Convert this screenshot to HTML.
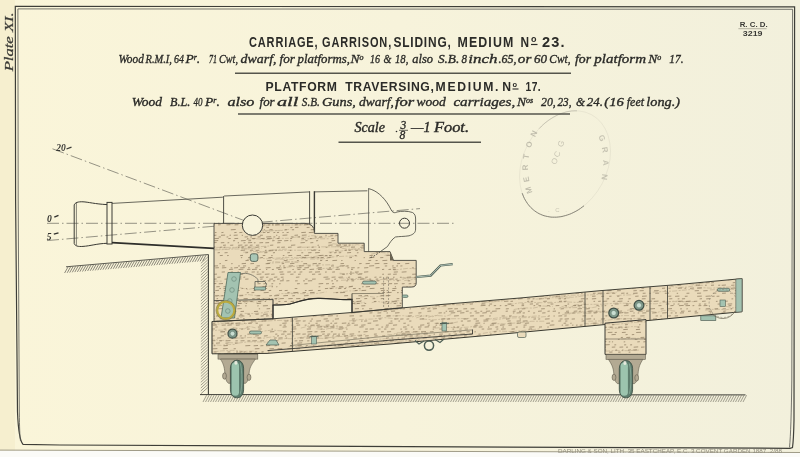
<!DOCTYPE html>
<html><head><meta charset="utf-8"><style>
html,body{margin:0;padding:0;background:#FBFBF8;}
svg{display:block;will-change:transform;}
</style></head><body>
<svg width="800" height="457" viewBox="0 0 800 457">
<defs>
<linearGradient id="pg" x1="0" y1="0" x2="800" y2="0" gradientUnits="userSpaceOnUse">
<stop offset="0" stop-color="#FAF5D9"/><stop offset="0.5" stop-color="#F7F3DB"/><stop offset="1" stop-color="#F2F0DC"/>
</linearGradient>
<clipPath id="ucclip"><path d="M214,223.4 L305,223.4 Q314.4,223.4 314.4,232.5 L314.4,233.4 L338,233.4 L338,243.2 L364.2,243.2 L364.2,251.6 L390,251.6 L393.5,260.4 L416.2,260.4 L416.2,283 Q416.2,287.1 411.2,287.1 L402.3,287.1 L402.3,307.8 L352,312.5 L352,299.4 C340,300.5 330,298 318,298.4 C305,298.6 298,302 290,304 C284,305 278,305 273,305 L273,318.8 L214,321.5 Z"/></clipPath>
<clipPath id="sbclip"><polygon points="605,323.2 646,319.6 646,354.4 605,354.4"/></clipPath>
<clipPath id="plclip"><polygon points="212,321.5 273,318.8 352,312.5 403,307.8 440,304.6 520,298 600,290.7 680,284.4 742,278.6 742,311.7 680,317.5 600,325 500,334.3 390,344 300,350.8 267,353.4 212,353.8"/></clipPath>
</defs>
<rect x="0" y="0" width="800" height="457" fill="#FBFBF8"/>
<polygon points="0,0 800,0 800,452.6 0,450.2" fill="url(#pg)"/>
<rect x="0" y="0" width="15" height="450.3" fill="#F6EFCF"/>
<line x1="0.0" y1="450.1" x2="800.0" y2="452.5" stroke="#a09c88" stroke-width="1.0" />
<path d="M15.3,6.4 L794.6,6.8 L794,420 Q793.6,440 792.5,447.5 L790,448.3 L60,445 L23,444.3 C19.8,441 18.3,432 17.5,412 L15.6,200 Z" fill="none" stroke="#3e3e38" stroke-width="1.2"/>
<path d="M20.5,441 C19.8,436 19.5,428 19.3,412 L18.2,200 L17.9,8.9 L792.6,9.3 L791.8,380 Q791.2,430 789.5,447.5" fill="none" stroke="#555550" stroke-width="0.8"/>
<line x1="66" y1="266.8" x2="208.4" y2="254.5" stroke="#4a4a42" stroke-width="0.9"/>
<line x1="68.0" y1="267.0" x2="64.6" y2="273.0" stroke="#66635a" stroke-width="0.75" />
<line x1="70.6" y1="266.8" x2="67.2" y2="272.8" stroke="#66635a" stroke-width="0.75" />
<line x1="73.1" y1="266.6" x2="69.7" y2="272.6" stroke="#66635a" stroke-width="0.75" />
<line x1="75.7" y1="266.3" x2="72.3" y2="272.3" stroke="#66635a" stroke-width="0.75" />
<line x1="78.2" y1="266.1" x2="74.8" y2="272.1" stroke="#66635a" stroke-width="0.75" />
<line x1="80.8" y1="265.9" x2="77.4" y2="271.9" stroke="#66635a" stroke-width="0.75" />
<line x1="83.3" y1="265.7" x2="79.9" y2="271.7" stroke="#66635a" stroke-width="0.75" />
<line x1="85.9" y1="265.5" x2="82.5" y2="271.5" stroke="#66635a" stroke-width="0.75" />
<line x1="88.4" y1="265.3" x2="85.0" y2="271.3" stroke="#66635a" stroke-width="0.75" />
<line x1="91.0" y1="265.0" x2="87.6" y2="271.0" stroke="#66635a" stroke-width="0.75" />
<line x1="93.6" y1="264.8" x2="90.2" y2="270.8" stroke="#66635a" stroke-width="0.75" />
<line x1="96.1" y1="264.6" x2="92.7" y2="270.6" stroke="#66635a" stroke-width="0.75" />
<line x1="98.7" y1="264.4" x2="95.3" y2="270.4" stroke="#66635a" stroke-width="0.75" />
<line x1="101.2" y1="264.2" x2="97.8" y2="270.2" stroke="#66635a" stroke-width="0.75" />
<line x1="103.8" y1="263.9" x2="100.4" y2="269.9" stroke="#66635a" stroke-width="0.75" />
<line x1="106.3" y1="263.7" x2="102.9" y2="269.7" stroke="#66635a" stroke-width="0.75" />
<line x1="108.9" y1="263.5" x2="105.5" y2="269.5" stroke="#66635a" stroke-width="0.75" />
<line x1="111.4" y1="263.3" x2="108.0" y2="269.3" stroke="#66635a" stroke-width="0.75" />
<line x1="114.0" y1="263.1" x2="110.6" y2="269.1" stroke="#66635a" stroke-width="0.75" />
<line x1="116.6" y1="262.8" x2="113.2" y2="268.8" stroke="#66635a" stroke-width="0.75" />
<line x1="119.1" y1="262.6" x2="115.7" y2="268.6" stroke="#66635a" stroke-width="0.75" />
<line x1="121.7" y1="262.4" x2="118.3" y2="268.4" stroke="#66635a" stroke-width="0.75" />
<line x1="124.2" y1="262.2" x2="120.8" y2="268.2" stroke="#66635a" stroke-width="0.75" />
<line x1="126.8" y1="262.0" x2="123.4" y2="268.0" stroke="#66635a" stroke-width="0.75" />
<line x1="129.3" y1="261.8" x2="125.9" y2="267.8" stroke="#66635a" stroke-width="0.75" />
<line x1="131.9" y1="261.5" x2="128.5" y2="267.5" stroke="#66635a" stroke-width="0.75" />
<line x1="134.4" y1="261.3" x2="131.0" y2="267.3" stroke="#66635a" stroke-width="0.75" />
<line x1="137.0" y1="261.1" x2="133.6" y2="267.1" stroke="#66635a" stroke-width="0.75" />
<line x1="139.6" y1="260.9" x2="136.2" y2="266.9" stroke="#66635a" stroke-width="0.75" />
<line x1="142.1" y1="260.7" x2="138.7" y2="266.7" stroke="#66635a" stroke-width="0.75" />
<line x1="144.7" y1="260.4" x2="141.3" y2="266.4" stroke="#66635a" stroke-width="0.75" />
<line x1="147.2" y1="260.2" x2="143.8" y2="266.2" stroke="#66635a" stroke-width="0.75" />
<line x1="149.8" y1="260.0" x2="146.4" y2="266.0" stroke="#66635a" stroke-width="0.75" />
<line x1="152.3" y1="259.8" x2="148.9" y2="265.8" stroke="#66635a" stroke-width="0.75" />
<line x1="154.9" y1="259.6" x2="151.5" y2="265.6" stroke="#66635a" stroke-width="0.75" />
<line x1="157.4" y1="259.4" x2="154.0" y2="265.4" stroke="#66635a" stroke-width="0.75" />
<line x1="160.0" y1="259.1" x2="156.6" y2="265.1" stroke="#66635a" stroke-width="0.75" />
<line x1="162.6" y1="258.9" x2="159.2" y2="264.9" stroke="#66635a" stroke-width="0.75" />
<line x1="165.1" y1="258.7" x2="161.7" y2="264.7" stroke="#66635a" stroke-width="0.75" />
<line x1="167.7" y1="258.5" x2="164.3" y2="264.5" stroke="#66635a" stroke-width="0.75" />
<line x1="170.2" y1="258.3" x2="166.8" y2="264.3" stroke="#66635a" stroke-width="0.75" />
<line x1="172.8" y1="258.0" x2="169.4" y2="264.0" stroke="#66635a" stroke-width="0.75" />
<line x1="175.3" y1="257.8" x2="171.9" y2="263.8" stroke="#66635a" stroke-width="0.75" />
<line x1="177.9" y1="257.6" x2="174.5" y2="263.6" stroke="#66635a" stroke-width="0.75" />
<line x1="180.4" y1="257.4" x2="177.0" y2="263.4" stroke="#66635a" stroke-width="0.75" />
<line x1="183.0" y1="257.2" x2="179.6" y2="263.2" stroke="#66635a" stroke-width="0.75" />
<line x1="185.6" y1="256.9" x2="182.2" y2="262.9" stroke="#66635a" stroke-width="0.75" />
<line x1="188.1" y1="256.7" x2="184.7" y2="262.7" stroke="#66635a" stroke-width="0.75" />
<line x1="190.7" y1="256.5" x2="187.3" y2="262.5" stroke="#66635a" stroke-width="0.75" />
<line x1="193.2" y1="256.3" x2="189.8" y2="262.3" stroke="#66635a" stroke-width="0.75" />
<line x1="195.8" y1="256.1" x2="192.4" y2="262.1" stroke="#66635a" stroke-width="0.75" />
<line x1="198.3" y1="255.9" x2="194.9" y2="261.9" stroke="#66635a" stroke-width="0.75" />
<line x1="200.9" y1="255.6" x2="197.5" y2="261.6" stroke="#66635a" stroke-width="0.75" />
<line x1="203.4" y1="255.4" x2="200.0" y2="261.4" stroke="#66635a" stroke-width="0.75" />
<line x1="206.0" y1="255.2" x2="202.6" y2="261.2" stroke="#66635a" stroke-width="0.75" />
<line x1="208.4" y1="254.5" x2="208.4" y2="394.5" stroke="#44443c" stroke-width="1.1"/>
<line x1="207.8" y1="257.0" x2="200.8" y2="263.4" stroke="#7a776a" stroke-width="0.7" />
<line x1="207.8" y1="259.9" x2="200.8" y2="266.3" stroke="#7a776a" stroke-width="0.7" />
<line x1="207.8" y1="262.8" x2="200.8" y2="269.2" stroke="#7a776a" stroke-width="0.7" />
<line x1="207.8" y1="265.7" x2="200.8" y2="272.1" stroke="#7a776a" stroke-width="0.7" />
<line x1="207.8" y1="268.6" x2="200.8" y2="275.0" stroke="#7a776a" stroke-width="0.7" />
<line x1="207.8" y1="271.5" x2="200.8" y2="277.9" stroke="#7a776a" stroke-width="0.7" />
<line x1="207.8" y1="274.4" x2="200.8" y2="280.8" stroke="#7a776a" stroke-width="0.7" />
<line x1="207.8" y1="277.3" x2="200.8" y2="283.7" stroke="#7a776a" stroke-width="0.7" />
<line x1="207.8" y1="280.2" x2="200.8" y2="286.6" stroke="#7a776a" stroke-width="0.7" />
<line x1="207.8" y1="283.1" x2="200.8" y2="289.5" stroke="#7a776a" stroke-width="0.7" />
<line x1="207.8" y1="286.0" x2="200.8" y2="292.4" stroke="#7a776a" stroke-width="0.7" />
<line x1="207.8" y1="288.9" x2="200.8" y2="295.3" stroke="#7a776a" stroke-width="0.7" />
<line x1="207.8" y1="291.8" x2="200.8" y2="298.2" stroke="#7a776a" stroke-width="0.7" />
<line x1="207.8" y1="294.7" x2="200.8" y2="301.1" stroke="#7a776a" stroke-width="0.7" />
<line x1="207.8" y1="297.6" x2="200.8" y2="304.0" stroke="#7a776a" stroke-width="0.7" />
<line x1="207.8" y1="300.5" x2="200.8" y2="306.9" stroke="#7a776a" stroke-width="0.7" />
<line x1="207.8" y1="303.4" x2="200.8" y2="309.8" stroke="#7a776a" stroke-width="0.7" />
<line x1="207.8" y1="306.3" x2="200.8" y2="312.7" stroke="#7a776a" stroke-width="0.7" />
<line x1="207.8" y1="309.2" x2="200.8" y2="315.6" stroke="#7a776a" stroke-width="0.7" />
<line x1="207.8" y1="312.1" x2="200.8" y2="318.5" stroke="#7a776a" stroke-width="0.7" />
<line x1="207.8" y1="315.0" x2="200.8" y2="321.4" stroke="#7a776a" stroke-width="0.7" />
<line x1="207.8" y1="317.9" x2="200.8" y2="324.3" stroke="#7a776a" stroke-width="0.7" />
<line x1="207.8" y1="320.8" x2="200.8" y2="327.2" stroke="#7a776a" stroke-width="0.7" />
<line x1="207.8" y1="323.7" x2="200.8" y2="330.1" stroke="#7a776a" stroke-width="0.7" />
<line x1="207.8" y1="326.6" x2="200.8" y2="333.0" stroke="#7a776a" stroke-width="0.7" />
<line x1="207.8" y1="329.5" x2="200.8" y2="335.9" stroke="#7a776a" stroke-width="0.7" />
<line x1="207.8" y1="332.4" x2="200.8" y2="338.8" stroke="#7a776a" stroke-width="0.7" />
<line x1="207.8" y1="335.3" x2="200.8" y2="341.7" stroke="#7a776a" stroke-width="0.7" />
<line x1="207.8" y1="338.2" x2="200.8" y2="344.6" stroke="#7a776a" stroke-width="0.7" />
<line x1="207.8" y1="341.1" x2="200.8" y2="347.5" stroke="#7a776a" stroke-width="0.7" />
<line x1="207.8" y1="344.0" x2="200.8" y2="350.4" stroke="#7a776a" stroke-width="0.7" />
<line x1="207.8" y1="346.9" x2="200.8" y2="353.3" stroke="#7a776a" stroke-width="0.7" />
<line x1="207.8" y1="349.8" x2="200.8" y2="356.2" stroke="#7a776a" stroke-width="0.7" />
<line x1="207.8" y1="352.7" x2="200.8" y2="359.1" stroke="#7a776a" stroke-width="0.7" />
<line x1="207.8" y1="355.6" x2="200.8" y2="362.0" stroke="#7a776a" stroke-width="0.7" />
<line x1="207.8" y1="358.5" x2="200.8" y2="364.9" stroke="#7a776a" stroke-width="0.7" />
<line x1="207.8" y1="361.4" x2="200.8" y2="367.8" stroke="#7a776a" stroke-width="0.7" />
<line x1="207.8" y1="364.3" x2="200.8" y2="370.7" stroke="#7a776a" stroke-width="0.7" />
<line x1="207.8" y1="367.2" x2="200.8" y2="373.6" stroke="#7a776a" stroke-width="0.7" />
<line x1="207.8" y1="370.1" x2="200.8" y2="376.5" stroke="#7a776a" stroke-width="0.7" />
<line x1="207.8" y1="373.0" x2="200.8" y2="379.4" stroke="#7a776a" stroke-width="0.7" />
<line x1="207.8" y1="375.9" x2="200.8" y2="382.3" stroke="#7a776a" stroke-width="0.7" />
<line x1="207.8" y1="378.8" x2="200.8" y2="385.2" stroke="#7a776a" stroke-width="0.7" />
<line x1="207.8" y1="381.7" x2="200.8" y2="388.1" stroke="#7a776a" stroke-width="0.7" />
<line x1="207.8" y1="384.6" x2="200.8" y2="391.0" stroke="#7a776a" stroke-width="0.7" />
<line x1="207.8" y1="387.5" x2="200.8" y2="393.9" stroke="#7a776a" stroke-width="0.7" />
<line x1="200" y1="394.6" x2="745.5" y2="394.9" stroke="#3d3d36" stroke-width="1.0"/>
<line x1="206.6" y1="395.2" x2="203.0" y2="402.0" stroke="#7d7a6c" stroke-width="0.7" />
<line x1="209.1" y1="395.2" x2="205.5" y2="402.0" stroke="#7d7a6c" stroke-width="0.7" />
<line x1="211.6" y1="395.2" x2="208.0" y2="402.0" stroke="#7d7a6c" stroke-width="0.7" />
<line x1="214.1" y1="395.2" x2="210.5" y2="402.0" stroke="#7d7a6c" stroke-width="0.7" />
<line x1="216.6" y1="395.2" x2="213.0" y2="402.0" stroke="#7d7a6c" stroke-width="0.7" />
<line x1="219.1" y1="395.2" x2="215.5" y2="402.0" stroke="#7d7a6c" stroke-width="0.7" />
<line x1="221.6" y1="395.2" x2="218.0" y2="402.0" stroke="#7d7a6c" stroke-width="0.7" />
<line x1="224.1" y1="395.2" x2="220.5" y2="402.0" stroke="#7d7a6c" stroke-width="0.7" />
<line x1="226.6" y1="395.2" x2="223.0" y2="402.0" stroke="#7d7a6c" stroke-width="0.7" />
<line x1="229.1" y1="395.2" x2="225.5" y2="402.0" stroke="#7d7a6c" stroke-width="0.7" />
<line x1="231.6" y1="395.2" x2="228.0" y2="402.0" stroke="#7d7a6c" stroke-width="0.7" />
<line x1="234.1" y1="395.2" x2="230.5" y2="402.0" stroke="#7d7a6c" stroke-width="0.7" />
<line x1="236.6" y1="395.2" x2="233.0" y2="402.0" stroke="#7d7a6c" stroke-width="0.7" />
<line x1="239.1" y1="395.2" x2="235.5" y2="402.0" stroke="#7d7a6c" stroke-width="0.7" />
<line x1="241.6" y1="395.2" x2="238.0" y2="402.0" stroke="#7d7a6c" stroke-width="0.7" />
<line x1="244.1" y1="395.2" x2="240.5" y2="402.0" stroke="#7d7a6c" stroke-width="0.7" />
<line x1="246.6" y1="395.2" x2="243.0" y2="402.0" stroke="#7d7a6c" stroke-width="0.7" />
<line x1="249.1" y1="395.2" x2="245.5" y2="402.0" stroke="#7d7a6c" stroke-width="0.7" />
<line x1="251.6" y1="395.2" x2="248.0" y2="402.0" stroke="#7d7a6c" stroke-width="0.7" />
<line x1="254.1" y1="395.2" x2="250.5" y2="402.0" stroke="#7d7a6c" stroke-width="0.7" />
<line x1="256.6" y1="395.2" x2="253.0" y2="402.0" stroke="#7d7a6c" stroke-width="0.7" />
<line x1="259.1" y1="395.2" x2="255.5" y2="402.0" stroke="#7d7a6c" stroke-width="0.7" />
<line x1="261.6" y1="395.2" x2="258.0" y2="402.0" stroke="#7d7a6c" stroke-width="0.7" />
<line x1="264.1" y1="395.2" x2="260.5" y2="402.0" stroke="#7d7a6c" stroke-width="0.7" />
<line x1="266.6" y1="395.2" x2="263.0" y2="402.0" stroke="#7d7a6c" stroke-width="0.7" />
<line x1="269.1" y1="395.2" x2="265.5" y2="402.0" stroke="#7d7a6c" stroke-width="0.7" />
<line x1="271.6" y1="395.2" x2="268.0" y2="402.0" stroke="#7d7a6c" stroke-width="0.7" />
<line x1="274.1" y1="395.2" x2="270.5" y2="402.0" stroke="#7d7a6c" stroke-width="0.7" />
<line x1="276.6" y1="395.2" x2="273.0" y2="402.0" stroke="#7d7a6c" stroke-width="0.7" />
<line x1="279.1" y1="395.2" x2="275.5" y2="402.0" stroke="#7d7a6c" stroke-width="0.7" />
<line x1="281.6" y1="395.2" x2="278.0" y2="402.0" stroke="#7d7a6c" stroke-width="0.7" />
<line x1="284.1" y1="395.2" x2="280.5" y2="402.0" stroke="#7d7a6c" stroke-width="0.7" />
<line x1="286.6" y1="395.2" x2="283.0" y2="402.0" stroke="#7d7a6c" stroke-width="0.7" />
<line x1="289.1" y1="395.2" x2="285.5" y2="402.0" stroke="#7d7a6c" stroke-width="0.7" />
<line x1="291.6" y1="395.2" x2="288.0" y2="402.0" stroke="#7d7a6c" stroke-width="0.7" />
<line x1="294.1" y1="395.2" x2="290.5" y2="402.0" stroke="#7d7a6c" stroke-width="0.7" />
<line x1="296.6" y1="395.2" x2="293.0" y2="402.0" stroke="#7d7a6c" stroke-width="0.7" />
<line x1="299.1" y1="395.2" x2="295.5" y2="402.0" stroke="#7d7a6c" stroke-width="0.7" />
<line x1="301.6" y1="395.2" x2="298.0" y2="402.0" stroke="#7d7a6c" stroke-width="0.7" />
<line x1="304.1" y1="395.2" x2="300.5" y2="402.0" stroke="#7d7a6c" stroke-width="0.7" />
<line x1="306.6" y1="395.2" x2="303.0" y2="402.0" stroke="#7d7a6c" stroke-width="0.7" />
<line x1="309.1" y1="395.2" x2="305.5" y2="402.0" stroke="#7d7a6c" stroke-width="0.7" />
<line x1="311.6" y1="395.2" x2="308.0" y2="402.0" stroke="#7d7a6c" stroke-width="0.7" />
<line x1="314.1" y1="395.2" x2="310.5" y2="402.0" stroke="#7d7a6c" stroke-width="0.7" />
<line x1="316.6" y1="395.2" x2="313.0" y2="402.0" stroke="#7d7a6c" stroke-width="0.7" />
<line x1="319.1" y1="395.2" x2="315.5" y2="402.0" stroke="#7d7a6c" stroke-width="0.7" />
<line x1="321.6" y1="395.2" x2="318.0" y2="402.0" stroke="#7d7a6c" stroke-width="0.7" />
<line x1="324.1" y1="395.2" x2="320.5" y2="402.0" stroke="#7d7a6c" stroke-width="0.7" />
<line x1="326.6" y1="395.2" x2="323.0" y2="402.0" stroke="#7d7a6c" stroke-width="0.7" />
<line x1="329.1" y1="395.2" x2="325.5" y2="402.0" stroke="#7d7a6c" stroke-width="0.7" />
<line x1="331.6" y1="395.2" x2="328.0" y2="402.0" stroke="#7d7a6c" stroke-width="0.7" />
<line x1="334.1" y1="395.2" x2="330.5" y2="402.0" stroke="#7d7a6c" stroke-width="0.7" />
<line x1="336.6" y1="395.2" x2="333.0" y2="402.0" stroke="#7d7a6c" stroke-width="0.7" />
<line x1="339.1" y1="395.2" x2="335.5" y2="402.0" stroke="#7d7a6c" stroke-width="0.7" />
<line x1="341.6" y1="395.2" x2="338.0" y2="402.0" stroke="#7d7a6c" stroke-width="0.7" />
<line x1="344.1" y1="395.2" x2="340.5" y2="402.0" stroke="#7d7a6c" stroke-width="0.7" />
<line x1="346.6" y1="395.2" x2="343.0" y2="402.0" stroke="#7d7a6c" stroke-width="0.7" />
<line x1="349.1" y1="395.2" x2="345.5" y2="402.0" stroke="#7d7a6c" stroke-width="0.7" />
<line x1="351.6" y1="395.2" x2="348.0" y2="402.0" stroke="#7d7a6c" stroke-width="0.7" />
<line x1="354.1" y1="395.2" x2="350.5" y2="402.0" stroke="#7d7a6c" stroke-width="0.7" />
<line x1="356.6" y1="395.2" x2="353.0" y2="402.0" stroke="#7d7a6c" stroke-width="0.7" />
<line x1="359.1" y1="395.2" x2="355.5" y2="402.0" stroke="#7d7a6c" stroke-width="0.7" />
<line x1="361.6" y1="395.2" x2="358.0" y2="402.0" stroke="#7d7a6c" stroke-width="0.7" />
<line x1="364.1" y1="395.2" x2="360.5" y2="402.0" stroke="#7d7a6c" stroke-width="0.7" />
<line x1="366.6" y1="395.2" x2="363.0" y2="402.0" stroke="#7d7a6c" stroke-width="0.7" />
<line x1="369.1" y1="395.2" x2="365.5" y2="402.0" stroke="#7d7a6c" stroke-width="0.7" />
<line x1="371.6" y1="395.2" x2="368.0" y2="402.0" stroke="#7d7a6c" stroke-width="0.7" />
<line x1="374.1" y1="395.2" x2="370.5" y2="402.0" stroke="#7d7a6c" stroke-width="0.7" />
<line x1="376.6" y1="395.2" x2="373.0" y2="402.0" stroke="#7d7a6c" stroke-width="0.7" />
<line x1="379.1" y1="395.2" x2="375.5" y2="402.0" stroke="#7d7a6c" stroke-width="0.7" />
<line x1="381.6" y1="395.2" x2="378.0" y2="402.0" stroke="#7d7a6c" stroke-width="0.7" />
<line x1="384.1" y1="395.2" x2="380.5" y2="402.0" stroke="#7d7a6c" stroke-width="0.7" />
<line x1="386.6" y1="395.2" x2="383.0" y2="402.0" stroke="#7d7a6c" stroke-width="0.7" />
<line x1="389.1" y1="395.2" x2="385.5" y2="402.0" stroke="#7d7a6c" stroke-width="0.7" />
<line x1="391.6" y1="395.2" x2="388.0" y2="402.0" stroke="#7d7a6c" stroke-width="0.7" />
<line x1="394.1" y1="395.2" x2="390.5" y2="402.0" stroke="#7d7a6c" stroke-width="0.7" />
<line x1="396.6" y1="395.2" x2="393.0" y2="402.0" stroke="#7d7a6c" stroke-width="0.7" />
<line x1="399.1" y1="395.2" x2="395.5" y2="402.0" stroke="#7d7a6c" stroke-width="0.7" />
<line x1="401.6" y1="395.2" x2="398.0" y2="402.0" stroke="#7d7a6c" stroke-width="0.7" />
<line x1="404.1" y1="395.2" x2="400.5" y2="402.0" stroke="#7d7a6c" stroke-width="0.7" />
<line x1="406.6" y1="395.2" x2="403.0" y2="402.0" stroke="#7d7a6c" stroke-width="0.7" />
<line x1="409.1" y1="395.2" x2="405.5" y2="402.0" stroke="#7d7a6c" stroke-width="0.7" />
<line x1="411.6" y1="395.2" x2="408.0" y2="402.0" stroke="#7d7a6c" stroke-width="0.7" />
<line x1="414.1" y1="395.2" x2="410.5" y2="402.0" stroke="#7d7a6c" stroke-width="0.7" />
<line x1="416.6" y1="395.2" x2="413.0" y2="402.0" stroke="#7d7a6c" stroke-width="0.7" />
<line x1="419.1" y1="395.2" x2="415.5" y2="402.0" stroke="#7d7a6c" stroke-width="0.7" />
<line x1="421.6" y1="395.2" x2="418.0" y2="402.0" stroke="#7d7a6c" stroke-width="0.7" />
<line x1="424.1" y1="395.2" x2="420.5" y2="402.0" stroke="#7d7a6c" stroke-width="0.7" />
<line x1="426.6" y1="395.2" x2="423.0" y2="402.0" stroke="#7d7a6c" stroke-width="0.7" />
<line x1="429.1" y1="395.2" x2="425.5" y2="402.0" stroke="#7d7a6c" stroke-width="0.7" />
<line x1="431.6" y1="395.2" x2="428.0" y2="402.0" stroke="#7d7a6c" stroke-width="0.7" />
<line x1="434.1" y1="395.2" x2="430.5" y2="402.0" stroke="#7d7a6c" stroke-width="0.7" />
<line x1="436.6" y1="395.2" x2="433.0" y2="402.0" stroke="#7d7a6c" stroke-width="0.7" />
<line x1="439.1" y1="395.2" x2="435.5" y2="402.0" stroke="#7d7a6c" stroke-width="0.7" />
<line x1="441.6" y1="395.2" x2="438.0" y2="402.0" stroke="#7d7a6c" stroke-width="0.7" />
<line x1="444.1" y1="395.2" x2="440.5" y2="402.0" stroke="#7d7a6c" stroke-width="0.7" />
<line x1="446.6" y1="395.2" x2="443.0" y2="402.0" stroke="#7d7a6c" stroke-width="0.7" />
<line x1="449.1" y1="395.2" x2="445.5" y2="402.0" stroke="#7d7a6c" stroke-width="0.7" />
<line x1="451.6" y1="395.2" x2="448.0" y2="402.0" stroke="#7d7a6c" stroke-width="0.7" />
<line x1="454.1" y1="395.2" x2="450.5" y2="402.0" stroke="#7d7a6c" stroke-width="0.7" />
<line x1="456.6" y1="395.2" x2="453.0" y2="402.0" stroke="#7d7a6c" stroke-width="0.7" />
<line x1="459.1" y1="395.2" x2="455.5" y2="402.0" stroke="#7d7a6c" stroke-width="0.7" />
<line x1="461.6" y1="395.2" x2="458.0" y2="402.0" stroke="#7d7a6c" stroke-width="0.7" />
<line x1="464.1" y1="395.2" x2="460.5" y2="402.0" stroke="#7d7a6c" stroke-width="0.7" />
<line x1="466.6" y1="395.2" x2="463.0" y2="402.0" stroke="#7d7a6c" stroke-width="0.7" />
<line x1="469.1" y1="395.2" x2="465.5" y2="402.0" stroke="#7d7a6c" stroke-width="0.7" />
<line x1="471.6" y1="395.2" x2="468.0" y2="402.0" stroke="#7d7a6c" stroke-width="0.7" />
<line x1="474.1" y1="395.2" x2="470.5" y2="402.0" stroke="#7d7a6c" stroke-width="0.7" />
<line x1="476.6" y1="395.2" x2="473.0" y2="402.0" stroke="#7d7a6c" stroke-width="0.7" />
<line x1="479.1" y1="395.2" x2="475.5" y2="402.0" stroke="#7d7a6c" stroke-width="0.7" />
<line x1="481.6" y1="395.2" x2="478.0" y2="402.0" stroke="#7d7a6c" stroke-width="0.7" />
<line x1="484.1" y1="395.2" x2="480.5" y2="402.0" stroke="#7d7a6c" stroke-width="0.7" />
<line x1="486.6" y1="395.2" x2="483.0" y2="402.0" stroke="#7d7a6c" stroke-width="0.7" />
<line x1="489.1" y1="395.2" x2="485.5" y2="402.0" stroke="#7d7a6c" stroke-width="0.7" />
<line x1="491.6" y1="395.2" x2="488.0" y2="402.0" stroke="#7d7a6c" stroke-width="0.7" />
<line x1="494.1" y1="395.2" x2="490.5" y2="402.0" stroke="#7d7a6c" stroke-width="0.7" />
<line x1="496.6" y1="395.2" x2="493.0" y2="402.0" stroke="#7d7a6c" stroke-width="0.7" />
<line x1="499.1" y1="395.2" x2="495.5" y2="402.0" stroke="#7d7a6c" stroke-width="0.7" />
<line x1="501.6" y1="395.2" x2="498.0" y2="402.0" stroke="#7d7a6c" stroke-width="0.7" />
<line x1="504.1" y1="395.2" x2="500.5" y2="402.0" stroke="#7d7a6c" stroke-width="0.7" />
<line x1="506.6" y1="395.2" x2="503.0" y2="402.0" stroke="#7d7a6c" stroke-width="0.7" />
<line x1="509.1" y1="395.2" x2="505.5" y2="402.0" stroke="#7d7a6c" stroke-width="0.7" />
<line x1="511.6" y1="395.2" x2="508.0" y2="402.0" stroke="#7d7a6c" stroke-width="0.7" />
<line x1="514.1" y1="395.2" x2="510.5" y2="402.0" stroke="#7d7a6c" stroke-width="0.7" />
<line x1="516.6" y1="395.2" x2="513.0" y2="402.0" stroke="#7d7a6c" stroke-width="0.7" />
<line x1="519.1" y1="395.2" x2="515.5" y2="402.0" stroke="#7d7a6c" stroke-width="0.7" />
<line x1="521.6" y1="395.2" x2="518.0" y2="402.0" stroke="#7d7a6c" stroke-width="0.7" />
<line x1="524.1" y1="395.2" x2="520.5" y2="402.0" stroke="#7d7a6c" stroke-width="0.7" />
<line x1="526.6" y1="395.2" x2="523.0" y2="402.0" stroke="#7d7a6c" stroke-width="0.7" />
<line x1="529.1" y1="395.2" x2="525.5" y2="402.0" stroke="#7d7a6c" stroke-width="0.7" />
<line x1="531.6" y1="395.2" x2="528.0" y2="402.0" stroke="#7d7a6c" stroke-width="0.7" />
<line x1="534.1" y1="395.2" x2="530.5" y2="402.0" stroke="#7d7a6c" stroke-width="0.7" />
<line x1="536.6" y1="395.2" x2="533.0" y2="402.0" stroke="#7d7a6c" stroke-width="0.7" />
<line x1="539.1" y1="395.2" x2="535.5" y2="402.0" stroke="#7d7a6c" stroke-width="0.7" />
<line x1="541.6" y1="395.2" x2="538.0" y2="402.0" stroke="#7d7a6c" stroke-width="0.7" />
<line x1="544.1" y1="395.2" x2="540.5" y2="402.0" stroke="#7d7a6c" stroke-width="0.7" />
<line x1="546.6" y1="395.2" x2="543.0" y2="402.0" stroke="#7d7a6c" stroke-width="0.7" />
<line x1="549.1" y1="395.2" x2="545.5" y2="402.0" stroke="#7d7a6c" stroke-width="0.7" />
<line x1="551.6" y1="395.2" x2="548.0" y2="402.0" stroke="#7d7a6c" stroke-width="0.7" />
<line x1="554.1" y1="395.2" x2="550.5" y2="402.0" stroke="#7d7a6c" stroke-width="0.7" />
<line x1="556.6" y1="395.2" x2="553.0" y2="402.0" stroke="#7d7a6c" stroke-width="0.7" />
<line x1="559.1" y1="395.2" x2="555.5" y2="402.0" stroke="#7d7a6c" stroke-width="0.7" />
<line x1="561.6" y1="395.2" x2="558.0" y2="402.0" stroke="#7d7a6c" stroke-width="0.7" />
<line x1="564.1" y1="395.2" x2="560.5" y2="402.0" stroke="#7d7a6c" stroke-width="0.7" />
<line x1="566.6" y1="395.2" x2="563.0" y2="402.0" stroke="#7d7a6c" stroke-width="0.7" />
<line x1="569.1" y1="395.2" x2="565.5" y2="402.0" stroke="#7d7a6c" stroke-width="0.7" />
<line x1="571.6" y1="395.2" x2="568.0" y2="402.0" stroke="#7d7a6c" stroke-width="0.7" />
<line x1="574.1" y1="395.2" x2="570.5" y2="402.0" stroke="#7d7a6c" stroke-width="0.7" />
<line x1="576.6" y1="395.2" x2="573.0" y2="402.0" stroke="#7d7a6c" stroke-width="0.7" />
<line x1="579.1" y1="395.2" x2="575.5" y2="402.0" stroke="#7d7a6c" stroke-width="0.7" />
<line x1="581.6" y1="395.2" x2="578.0" y2="402.0" stroke="#7d7a6c" stroke-width="0.7" />
<line x1="584.1" y1="395.2" x2="580.5" y2="402.0" stroke="#7d7a6c" stroke-width="0.7" />
<line x1="586.6" y1="395.2" x2="583.0" y2="402.0" stroke="#7d7a6c" stroke-width="0.7" />
<line x1="589.1" y1="395.2" x2="585.5" y2="402.0" stroke="#7d7a6c" stroke-width="0.7" />
<line x1="591.6" y1="395.2" x2="588.0" y2="402.0" stroke="#7d7a6c" stroke-width="0.7" />
<line x1="594.1" y1="395.2" x2="590.5" y2="402.0" stroke="#7d7a6c" stroke-width="0.7" />
<line x1="596.6" y1="395.2" x2="593.0" y2="402.0" stroke="#7d7a6c" stroke-width="0.7" />
<line x1="599.1" y1="395.2" x2="595.5" y2="402.0" stroke="#7d7a6c" stroke-width="0.7" />
<line x1="601.6" y1="395.2" x2="598.0" y2="402.0" stroke="#7d7a6c" stroke-width="0.7" />
<line x1="604.1" y1="395.2" x2="600.5" y2="402.0" stroke="#7d7a6c" stroke-width="0.7" />
<line x1="606.6" y1="395.2" x2="603.0" y2="402.0" stroke="#7d7a6c" stroke-width="0.7" />
<line x1="609.1" y1="395.2" x2="605.5" y2="402.0" stroke="#7d7a6c" stroke-width="0.7" />
<line x1="611.6" y1="395.2" x2="608.0" y2="402.0" stroke="#7d7a6c" stroke-width="0.7" />
<line x1="614.1" y1="395.2" x2="610.5" y2="402.0" stroke="#7d7a6c" stroke-width="0.7" />
<line x1="616.6" y1="395.2" x2="613.0" y2="402.0" stroke="#7d7a6c" stroke-width="0.7" />
<line x1="619.1" y1="395.2" x2="615.5" y2="402.0" stroke="#7d7a6c" stroke-width="0.7" />
<line x1="621.6" y1="395.2" x2="618.0" y2="402.0" stroke="#7d7a6c" stroke-width="0.7" />
<line x1="624.1" y1="395.2" x2="620.5" y2="402.0" stroke="#7d7a6c" stroke-width="0.7" />
<line x1="626.6" y1="395.2" x2="623.0" y2="402.0" stroke="#7d7a6c" stroke-width="0.7" />
<line x1="629.1" y1="395.2" x2="625.5" y2="402.0" stroke="#7d7a6c" stroke-width="0.7" />
<line x1="631.6" y1="395.2" x2="628.0" y2="402.0" stroke="#7d7a6c" stroke-width="0.7" />
<line x1="634.1" y1="395.2" x2="630.5" y2="402.0" stroke="#7d7a6c" stroke-width="0.7" />
<line x1="636.6" y1="395.2" x2="633.0" y2="402.0" stroke="#7d7a6c" stroke-width="0.7" />
<line x1="639.1" y1="395.2" x2="635.5" y2="402.0" stroke="#7d7a6c" stroke-width="0.7" />
<line x1="641.6" y1="395.2" x2="638.0" y2="402.0" stroke="#7d7a6c" stroke-width="0.7" />
<line x1="644.1" y1="395.2" x2="640.5" y2="402.0" stroke="#7d7a6c" stroke-width="0.7" />
<line x1="646.6" y1="395.2" x2="643.0" y2="402.0" stroke="#7d7a6c" stroke-width="0.7" />
<line x1="649.1" y1="395.2" x2="645.5" y2="402.0" stroke="#7d7a6c" stroke-width="0.7" />
<line x1="651.6" y1="395.2" x2="648.0" y2="402.0" stroke="#7d7a6c" stroke-width="0.7" />
<line x1="654.1" y1="395.2" x2="650.5" y2="402.0" stroke="#7d7a6c" stroke-width="0.7" />
<line x1="656.6" y1="395.2" x2="653.0" y2="402.0" stroke="#7d7a6c" stroke-width="0.7" />
<line x1="659.1" y1="395.2" x2="655.5" y2="402.0" stroke="#7d7a6c" stroke-width="0.7" />
<line x1="661.6" y1="395.2" x2="658.0" y2="402.0" stroke="#7d7a6c" stroke-width="0.7" />
<line x1="664.1" y1="395.2" x2="660.5" y2="402.0" stroke="#7d7a6c" stroke-width="0.7" />
<line x1="666.6" y1="395.2" x2="663.0" y2="402.0" stroke="#7d7a6c" stroke-width="0.7" />
<line x1="669.1" y1="395.2" x2="665.5" y2="402.0" stroke="#7d7a6c" stroke-width="0.7" />
<line x1="671.6" y1="395.2" x2="668.0" y2="402.0" stroke="#7d7a6c" stroke-width="0.7" />
<line x1="674.1" y1="395.2" x2="670.5" y2="402.0" stroke="#7d7a6c" stroke-width="0.7" />
<line x1="676.6" y1="395.2" x2="673.0" y2="402.0" stroke="#7d7a6c" stroke-width="0.7" />
<line x1="679.1" y1="395.2" x2="675.5" y2="402.0" stroke="#7d7a6c" stroke-width="0.7" />
<line x1="681.6" y1="395.2" x2="678.0" y2="402.0" stroke="#7d7a6c" stroke-width="0.7" />
<line x1="684.1" y1="395.2" x2="680.5" y2="402.0" stroke="#7d7a6c" stroke-width="0.7" />
<line x1="686.6" y1="395.2" x2="683.0" y2="402.0" stroke="#7d7a6c" stroke-width="0.7" />
<line x1="689.1" y1="395.2" x2="685.5" y2="402.0" stroke="#7d7a6c" stroke-width="0.7" />
<line x1="691.6" y1="395.2" x2="688.0" y2="402.0" stroke="#7d7a6c" stroke-width="0.7" />
<line x1="694.1" y1="395.2" x2="690.5" y2="402.0" stroke="#7d7a6c" stroke-width="0.7" />
<line x1="696.6" y1="395.2" x2="693.0" y2="402.0" stroke="#7d7a6c" stroke-width="0.7" />
<line x1="699.1" y1="395.2" x2="695.5" y2="402.0" stroke="#7d7a6c" stroke-width="0.7" />
<line x1="701.6" y1="395.2" x2="698.0" y2="402.0" stroke="#7d7a6c" stroke-width="0.7" />
<line x1="704.1" y1="395.2" x2="700.5" y2="402.0" stroke="#7d7a6c" stroke-width="0.7" />
<line x1="706.6" y1="395.2" x2="703.0" y2="402.0" stroke="#7d7a6c" stroke-width="0.7" />
<line x1="709.1" y1="395.2" x2="705.5" y2="402.0" stroke="#7d7a6c" stroke-width="0.7" />
<line x1="711.6" y1="395.2" x2="708.0" y2="402.0" stroke="#7d7a6c" stroke-width="0.7" />
<line x1="714.1" y1="395.2" x2="710.5" y2="402.0" stroke="#7d7a6c" stroke-width="0.7" />
<line x1="716.6" y1="395.2" x2="713.0" y2="402.0" stroke="#7d7a6c" stroke-width="0.7" />
<line x1="719.1" y1="395.2" x2="715.5" y2="402.0" stroke="#7d7a6c" stroke-width="0.7" />
<line x1="721.6" y1="395.2" x2="718.0" y2="402.0" stroke="#7d7a6c" stroke-width="0.7" />
<line x1="724.1" y1="395.2" x2="720.5" y2="402.0" stroke="#7d7a6c" stroke-width="0.7" />
<line x1="726.6" y1="395.2" x2="723.0" y2="402.0" stroke="#7d7a6c" stroke-width="0.7" />
<line x1="729.1" y1="395.2" x2="725.5" y2="402.0" stroke="#7d7a6c" stroke-width="0.7" />
<line x1="731.6" y1="395.2" x2="728.0" y2="402.0" stroke="#7d7a6c" stroke-width="0.7" />
<line x1="734.1" y1="395.2" x2="730.5" y2="402.0" stroke="#7d7a6c" stroke-width="0.7" />
<line x1="736.6" y1="395.2" x2="733.0" y2="402.0" stroke="#7d7a6c" stroke-width="0.7" />
<line x1="739.1" y1="395.2" x2="735.5" y2="402.0" stroke="#7d7a6c" stroke-width="0.7" />
<line x1="741.6" y1="395.2" x2="738.0" y2="402.0" stroke="#7d7a6c" stroke-width="0.7" />
<line x1="744.1" y1="395.2" x2="740.5" y2="402.0" stroke="#7d7a6c" stroke-width="0.7" />
<line x1="746.6" y1="395.2" x2="743.0" y2="402.0" stroke="#7d7a6c" stroke-width="0.7" />
<line x1="52.5" y1="148.8" x2="244.0" y2="220.5" stroke="#6a685e" stroke-width="0.7" stroke-dasharray="12 3 1.5 3"/>
<line x1="47.0" y1="223.3" x2="455.0" y2="223.3" stroke="#6a685e" stroke-width="0.7" stroke-dasharray="12 3 1.5 3"/>
<line x1="47.0" y1="240.6" x2="420.0" y2="208.6" stroke="#6a685e" stroke-width="0.7" stroke-dasharray="12 3 1.5 3"/>
<path d="M112,203.4 L222.5,197.2 L224.5,196 L309.6,191.9 M314.4,191.9 L367.4,190.8 M368.3,188.6 C376,190 384,197 389.2,206.2 L391.9,211.2 C393.5,213 395,213 397,212 C401,211 408,210.8 412.5,212.5 C415,214 415.6,216 415.6,219 L415.6,229 C415.6,233 413,234.5 409,235.8 C404,236.6 399,236.4 395.4,237 C392,239 389,244 387.5,246.5 L380.4,251.6" fill="none" stroke="#44443c" stroke-width="0.8"/>
<path d="M107,204.6 C95,204 88,202 83,201.8 C78,201.6 75,202.5 74.2,205 L74.2,243.5 C75,246 78,246.8 83,246.4 C90,246 97,243.6 107,243.3" fill="none" stroke="#3a3a34" stroke-width="1"/>
<rect x="107" y="202.4" width="5" height="41.6" fill="none" stroke="#3a3a34" stroke-width="1"/>
<line x1="76.4" y1="203.0" x2="76.4" y2="245.0" stroke="#55554c" stroke-width="0.7" />
<path d="M112,242.6 L214,248.4" fill="none" stroke="#2e2e2a" stroke-width="1.6"/>
<line x1="223.6" y1="196.6" x2="223.6" y2="223.4" stroke="#3a3a34" stroke-width="0.9" />
<line x1="309.6" y1="191.2" x2="309.6" y2="232.5" stroke="#3a3a34" stroke-width="0.9" />
<line x1="314.4" y1="191.2" x2="314.4" y2="232.5" stroke="#3a3a34" stroke-width="1.4" />
<line x1="368.6" y1="188.6" x2="368.6" y2="257.5" stroke="#55554c" stroke-width="0.8" />
<circle cx="404.5" cy="223.2" r="5" fill="none" stroke="#3a3a34" stroke-width="1"/>
<polygon points="212,321.5 273,318.8 352,312.5 403,307.8 440,304.6 520,298 600,290.7 680,284.4 742,278.6 742,311.7 680,317.5 600,325 500,334.3 390,344 300,350.8 267,353.4 212,353.8" fill="#EADBBB"/>
<path d="M214,223.4 L305,223.4 Q314.4,223.4 314.4,232.5 L314.4,233.4 L338,233.4 L338,243.2 L364.2,243.2 L364.2,251.6 L390,251.6 L393.5,260.4 L416.2,260.4 L416.2,283 Q416.2,287.1 411.2,287.1 L402.3,287.1 L402.3,307.8 L352,312.5 L352,299.4 C340,300.5 330,298 318,298.4 C305,298.6 298,302 290,304 C284,305 278,305 273,305 L273,318.8 L214,321.5 Z" fill="#EADBBB"/>
<g clip-path="url(#ucclip)" stroke="#76644B" stroke-width="1.0" opacity="0.58">
<line x1="210.8" y1="223.0" x2="214.1" y2="222.8"/>
<line x1="215.8" y1="223.0" x2="219.0" y2="222.8"/>
<line x1="222.4" y1="223.0" x2="223.9" y2="222.9"/>
<line x1="227.3" y1="223.0" x2="231.6" y2="222.7"/>
<line x1="246.2" y1="223.0" x2="250.7" y2="222.7"/>
<line x1="252.8" y1="223.0" x2="254.5" y2="222.9"/>
<line x1="259.7" y1="223.0" x2="261.6" y2="222.9"/>
<line x1="265.9" y1="223.0" x2="268.5" y2="222.8"/>
<line x1="270.3" y1="223.0" x2="271.8" y2="222.9"/>
<line x1="276.3" y1="223.0" x2="279.1" y2="222.8"/>
<line x1="283.3" y1="223.0" x2="286.2" y2="222.8"/>
<line x1="291.3" y1="223.0" x2="295.1" y2="222.8"/>
<line x1="316.5" y1="223.0" x2="319.5" y2="222.8"/>
<line x1="324.1" y1="223.0" x2="328.2" y2="222.8"/>
<line x1="340.2" y1="223.0" x2="343.6" y2="222.8"/>
<line x1="348.8" y1="223.0" x2="353.6" y2="222.7"/>
<line x1="376.0" y1="223.0" x2="378.9" y2="222.8"/>
<line x1="384.5" y1="223.0" x2="386.6" y2="222.9"/>
<line x1="392.0" y1="223.0" x2="393.5" y2="222.9"/>
<line x1="407.5" y1="223.0" x2="409.7" y2="222.9"/>
<line x1="206.3" y1="224.9" x2="208.4" y2="224.8"/>
<line x1="212.6" y1="224.9" x2="214.8" y2="224.8"/>
<line x1="218.1" y1="224.9" x2="220.7" y2="224.7"/>
<line x1="226.5" y1="224.9" x2="230.4" y2="224.7"/>
<line x1="234.6" y1="224.9" x2="238.4" y2="224.7"/>
<line x1="253.2" y1="224.9" x2="255.9" y2="224.7"/>
<line x1="257.9" y1="224.9" x2="261.5" y2="224.7"/>
<line x1="263.3" y1="224.9" x2="265.3" y2="224.8"/>
<line x1="268.3" y1="224.9" x2="269.7" y2="224.8"/>
<line x1="271.9" y1="224.9" x2="273.5" y2="224.8"/>
<line x1="275.1" y1="224.9" x2="279.6" y2="224.6"/>
<line x1="281.8" y1="224.9" x2="283.9" y2="224.8"/>
<line x1="294.7" y1="224.9" x2="297.7" y2="224.7"/>
<line x1="299.6" y1="224.9" x2="301.2" y2="224.8"/>
<line x1="303.8" y1="224.9" x2="308.2" y2="224.6"/>
<line x1="309.8" y1="224.9" x2="314.6" y2="224.6"/>
<line x1="316.8" y1="224.9" x2="320.0" y2="224.7"/>
<line x1="333.5" y1="224.9" x2="335.7" y2="224.8"/>
<line x1="337.9" y1="224.9" x2="342.0" y2="224.6"/>
<line x1="347.0" y1="224.9" x2="349.5" y2="224.7"/>
<line x1="371.5" y1="224.9" x2="374.7" y2="224.7"/>
<line x1="376.3" y1="224.9" x2="377.7" y2="224.8"/>
<line x1="398.2" y1="224.9" x2="400.8" y2="224.7"/>
<line x1="403.3" y1="224.9" x2="405.3" y2="224.8"/>
<line x1="246.8" y1="227.5" x2="248.7" y2="227.4"/>
<line x1="266.4" y1="227.5" x2="269.0" y2="227.4"/>
<line x1="290.4" y1="227.5" x2="292.5" y2="227.4"/>
<line x1="295.1" y1="227.5" x2="298.5" y2="227.3"/>
<line x1="306.7" y1="227.5" x2="309.6" y2="227.4"/>
<line x1="321.8" y1="227.5" x2="325.0" y2="227.3"/>
<line x1="326.6" y1="227.5" x2="329.4" y2="227.4"/>
<line x1="331.0" y1="227.5" x2="335.2" y2="227.3"/>
<line x1="338.8" y1="227.5" x2="342.8" y2="227.3"/>
<line x1="345.8" y1="227.5" x2="348.9" y2="227.3"/>
<line x1="354.0" y1="227.5" x2="355.6" y2="227.4"/>
<line x1="373.2" y1="227.5" x2="376.0" y2="227.4"/>
<line x1="386.5" y1="227.5" x2="389.7" y2="227.3"/>
<line x1="405.1" y1="227.5" x2="407.2" y2="227.4"/>
<line x1="413.0" y1="227.5" x2="417.4" y2="227.3"/>
<line x1="204.7" y1="229.8" x2="206.8" y2="229.7"/>
<line x1="230.8" y1="229.8" x2="235.7" y2="229.5"/>
<line x1="246.5" y1="229.8" x2="249.4" y2="229.7"/>
<line x1="252.4" y1="229.8" x2="254.3" y2="229.7"/>
<line x1="259.1" y1="229.8" x2="260.4" y2="229.8"/>
<line x1="263.8" y1="229.8" x2="265.1" y2="229.8"/>
<line x1="269.4" y1="229.8" x2="272.6" y2="229.6"/>
<line x1="284.7" y1="229.8" x2="286.9" y2="229.7"/>
<line x1="291.9" y1="229.8" x2="294.1" y2="229.7"/>
<line x1="310.7" y1="229.8" x2="314.5" y2="229.6"/>
<line x1="316.3" y1="229.8" x2="320.1" y2="229.6"/>
<line x1="335.1" y1="229.8" x2="339.6" y2="229.6"/>
<line x1="348.6" y1="229.8" x2="350.3" y2="229.7"/>
<line x1="352.9" y1="229.8" x2="354.5" y2="229.7"/>
<line x1="356.2" y1="229.8" x2="358.2" y2="229.7"/>
<line x1="361.1" y1="229.8" x2="365.2" y2="229.6"/>
<line x1="368.9" y1="229.8" x2="370.8" y2="229.7"/>
<line x1="372.4" y1="229.8" x2="374.5" y2="229.7"/>
<line x1="379.3" y1="229.8" x2="382.6" y2="229.6"/>
<line x1="386.3" y1="229.8" x2="391.0" y2="229.5"/>
<line x1="396.2" y1="229.8" x2="399.0" y2="229.7"/>
<line x1="404.3" y1="229.8" x2="407.0" y2="229.7"/>
<line x1="411.6" y1="229.8" x2="416.5" y2="229.5"/>
<line x1="210.4" y1="232.6" x2="213.1" y2="232.4"/>
<line x1="214.8" y1="232.6" x2="216.5" y2="232.5"/>
<line x1="221.4" y1="232.6" x2="223.5" y2="232.4"/>
<line x1="234.3" y1="232.6" x2="236.6" y2="232.4"/>
<line x1="239.4" y1="232.6" x2="242.4" y2="232.4"/>
<line x1="254.0" y1="232.6" x2="257.2" y2="232.4"/>
<line x1="263.1" y1="232.6" x2="265.5" y2="232.4"/>
<line x1="267.0" y1="232.6" x2="269.6" y2="232.4"/>
<line x1="273.4" y1="232.6" x2="275.3" y2="232.4"/>
<line x1="276.9" y1="232.6" x2="279.1" y2="232.4"/>
<line x1="282.4" y1="232.6" x2="283.7" y2="232.5"/>
<line x1="286.6" y1="232.6" x2="288.7" y2="232.4"/>
<line x1="301.3" y1="232.6" x2="305.9" y2="232.3"/>
<line x1="308.8" y1="232.6" x2="313.8" y2="232.3"/>
<line x1="318.5" y1="232.6" x2="322.2" y2="232.3"/>
<line x1="336.8" y1="232.6" x2="341.1" y2="232.3"/>
<line x1="353.2" y1="232.6" x2="357.6" y2="232.3"/>
<line x1="369.4" y1="232.6" x2="370.7" y2="232.5"/>
<line x1="387.6" y1="232.6" x2="390.7" y2="232.4"/>
<line x1="395.8" y1="232.6" x2="399.8" y2="232.3"/>
<line x1="403.7" y1="232.6" x2="407.4" y2="232.3"/>
<line x1="412.2" y1="232.6" x2="414.4" y2="232.4"/>
<line x1="213.8" y1="235.3" x2="216.4" y2="235.2"/>
<line x1="221.0" y1="235.3" x2="225.1" y2="235.1"/>
<line x1="229.5" y1="235.3" x2="231.0" y2="235.2"/>
<line x1="233.7" y1="235.3" x2="237.7" y2="235.1"/>
<line x1="241.7" y1="235.3" x2="243.0" y2="235.3"/>
<line x1="254.0" y1="235.3" x2="256.3" y2="235.2"/>
<line x1="259.9" y1="235.3" x2="262.9" y2="235.2"/>
<line x1="276.1" y1="235.3" x2="277.3" y2="235.3"/>
<line x1="282.5" y1="235.3" x2="287.4" y2="235.0"/>
<line x1="294.5" y1="235.3" x2="298.0" y2="235.1"/>
<line x1="301.8" y1="235.3" x2="306.6" y2="235.0"/>
<line x1="325.4" y1="235.3" x2="326.7" y2="235.3"/>
<line x1="330.4" y1="235.3" x2="333.3" y2="235.2"/>
<line x1="335.4" y1="235.3" x2="337.9" y2="235.2"/>
<line x1="356.1" y1="235.3" x2="360.7" y2="235.1"/>
<line x1="370.7" y1="235.3" x2="373.3" y2="235.2"/>
<line x1="376.0" y1="235.3" x2="377.4" y2="235.2"/>
<line x1="387.6" y1="235.3" x2="389.8" y2="235.2"/>
<line x1="410.1" y1="235.3" x2="414.9" y2="235.0"/>
<line x1="218.6" y1="237.0" x2="220.9" y2="236.9"/>
<line x1="226.6" y1="237.0" x2="228.3" y2="236.9"/>
<line x1="244.6" y1="237.0" x2="247.9" y2="236.8"/>
<line x1="250.2" y1="237.0" x2="252.0" y2="236.9"/>
<line x1="257.6" y1="237.0" x2="260.6" y2="236.8"/>
<line x1="266.2" y1="237.0" x2="271.2" y2="236.7"/>
<line x1="273.3" y1="237.0" x2="275.3" y2="236.9"/>
<line x1="278.3" y1="237.0" x2="279.9" y2="236.9"/>
<line x1="290.8" y1="237.0" x2="293.5" y2="236.8"/>
<line x1="297.4" y1="237.0" x2="300.0" y2="236.9"/>
<line x1="314.6" y1="237.0" x2="316.6" y2="236.9"/>
<line x1="319.2" y1="237.0" x2="322.0" y2="236.8"/>
<line x1="340.6" y1="237.0" x2="343.6" y2="236.8"/>
<line x1="360.1" y1="237.0" x2="361.7" y2="236.9"/>
<line x1="381.3" y1="237.0" x2="384.6" y2="236.8"/>
<line x1="396.1" y1="237.0" x2="398.5" y2="236.9"/>
<line x1="406.7" y1="237.0" x2="408.2" y2="236.9"/>
<line x1="412.3" y1="237.0" x2="415.0" y2="236.9"/>
<line x1="214.4" y1="238.6" x2="218.9" y2="238.4"/>
<line x1="228.3" y1="238.6" x2="230.7" y2="238.5"/>
<line x1="234.4" y1="238.6" x2="238.2" y2="238.4"/>
<line x1="247.1" y1="238.6" x2="248.4" y2="238.5"/>
<line x1="251.8" y1="238.6" x2="255.6" y2="238.4"/>
<line x1="260.7" y1="238.6" x2="264.7" y2="238.4"/>
<line x1="267.1" y1="238.6" x2="272.0" y2="238.3"/>
<line x1="277.2" y1="238.6" x2="279.3" y2="238.5"/>
<line x1="290.2" y1="238.6" x2="292.2" y2="238.5"/>
<line x1="301.4" y1="238.6" x2="304.1" y2="238.5"/>
<line x1="310.0" y1="238.6" x2="311.7" y2="238.5"/>
<line x1="331.4" y1="238.6" x2="333.8" y2="238.5"/>
<line x1="339.5" y1="238.6" x2="343.5" y2="238.4"/>
<line x1="348.0" y1="238.6" x2="350.7" y2="238.5"/>
<line x1="353.7" y1="238.6" x2="355.5" y2="238.5"/>
<line x1="362.9" y1="238.6" x2="367.7" y2="238.3"/>
<line x1="378.6" y1="238.6" x2="380.0" y2="238.5"/>
<line x1="383.2" y1="238.6" x2="387.9" y2="238.3"/>
<line x1="391.0" y1="238.6" x2="395.6" y2="238.4"/>
<line x1="404.9" y1="238.6" x2="406.3" y2="238.5"/>
<line x1="206.7" y1="240.8" x2="211.6" y2="240.5"/>
<line x1="214.2" y1="240.8" x2="218.2" y2="240.5"/>
<line x1="233.0" y1="240.8" x2="235.1" y2="240.6"/>
<line x1="240.9" y1="240.8" x2="245.7" y2="240.5"/>
<line x1="248.3" y1="240.8" x2="251.1" y2="240.6"/>
<line x1="272.1" y1="240.8" x2="274.5" y2="240.6"/>
<line x1="277.7" y1="240.8" x2="281.8" y2="240.5"/>
<line x1="284.2" y1="240.8" x2="288.3" y2="240.5"/>
<line x1="290.1" y1="240.8" x2="291.4" y2="240.7"/>
<line x1="305.3" y1="240.8" x2="307.5" y2="240.6"/>
<line x1="316.0" y1="240.8" x2="318.1" y2="240.6"/>
<line x1="331.5" y1="240.8" x2="335.2" y2="240.5"/>
<line x1="340.5" y1="240.8" x2="342.8" y2="240.6"/>
<line x1="346.0" y1="240.8" x2="350.0" y2="240.5"/>
<line x1="352.6" y1="240.8" x2="354.7" y2="240.6"/>
<line x1="360.2" y1="240.8" x2="363.6" y2="240.6"/>
<line x1="366.9" y1="240.8" x2="371.8" y2="240.5"/>
<line x1="384.6" y1="240.8" x2="386.2" y2="240.7"/>
<line x1="397.5" y1="240.8" x2="399.8" y2="240.6"/>
<line x1="402.1" y1="240.8" x2="407.0" y2="240.5"/>
<line x1="211.8" y1="242.8" x2="216.6" y2="242.5"/>
<line x1="220.8" y1="242.8" x2="224.3" y2="242.6"/>
<line x1="227.5" y1="242.8" x2="229.2" y2="242.7"/>
<line x1="237.7" y1="242.8" x2="239.0" y2="242.7"/>
<line x1="243.5" y1="242.8" x2="245.4" y2="242.7"/>
<line x1="247.9" y1="242.8" x2="252.1" y2="242.5"/>
<line x1="253.9" y1="242.8" x2="255.5" y2="242.7"/>
<line x1="259.4" y1="242.8" x2="263.1" y2="242.6"/>
<line x1="265.3" y1="242.8" x2="269.1" y2="242.6"/>
<line x1="277.2" y1="242.8" x2="280.5" y2="242.6"/>
<line x1="300.5" y1="242.8" x2="304.8" y2="242.5"/>
<line x1="310.3" y1="242.8" x2="313.3" y2="242.6"/>
<line x1="328.4" y1="242.8" x2="331.6" y2="242.6"/>
<line x1="348.4" y1="242.8" x2="350.4" y2="242.7"/>
<line x1="356.1" y1="242.8" x2="361.0" y2="242.5"/>
<line x1="362.8" y1="242.8" x2="367.5" y2="242.5"/>
<line x1="378.8" y1="242.8" x2="383.0" y2="242.5"/>
<line x1="393.1" y1="242.8" x2="395.1" y2="242.7"/>
<line x1="398.9" y1="242.8" x2="401.6" y2="242.6"/>
<line x1="414.8" y1="242.8" x2="419.2" y2="242.5"/>
<line x1="210.3" y1="245.3" x2="212.6" y2="245.1"/>
<line x1="223.1" y1="245.3" x2="225.9" y2="245.1"/>
<line x1="230.2" y1="245.3" x2="233.3" y2="245.1"/>
<line x1="238.2" y1="245.3" x2="242.4" y2="245.0"/>
<line x1="244.7" y1="245.3" x2="247.7" y2="245.1"/>
<line x1="249.8" y1="245.3" x2="252.6" y2="245.1"/>
<line x1="256.1" y1="245.3" x2="259.2" y2="245.1"/>
<line x1="270.1" y1="245.3" x2="273.3" y2="245.1"/>
<line x1="291.0" y1="245.3" x2="295.3" y2="245.0"/>
<line x1="317.5" y1="245.3" x2="318.9" y2="245.2"/>
<line x1="328.3" y1="245.3" x2="332.6" y2="245.0"/>
<line x1="336.4" y1="245.3" x2="341.1" y2="245.0"/>
<line x1="343.8" y1="245.3" x2="346.9" y2="245.1"/>
<line x1="348.6" y1="245.3" x2="350.5" y2="245.2"/>
<line x1="362.2" y1="245.3" x2="366.4" y2="245.0"/>
<line x1="370.3" y1="245.3" x2="373.9" y2="245.0"/>
<line x1="379.3" y1="245.3" x2="382.6" y2="245.1"/>
<line x1="399.4" y1="245.3" x2="404.4" y2="245.0"/>
<line x1="407.5" y1="245.3" x2="411.6" y2="245.0"/>
<line x1="413.9" y1="245.3" x2="417.9" y2="245.0"/>
<line x1="210.4" y1="247.3" x2="215.3" y2="247.0"/>
<line x1="219.8" y1="247.3" x2="222.2" y2="247.1"/>
<line x1="223.9" y1="247.3" x2="225.6" y2="247.2"/>
<line x1="238.0" y1="247.3" x2="239.2" y2="247.2"/>
<line x1="241.2" y1="247.3" x2="243.7" y2="247.1"/>
<line x1="247.8" y1="247.3" x2="251.3" y2="247.1"/>
<line x1="255.6" y1="247.3" x2="258.6" y2="247.1"/>
<line x1="264.3" y1="247.3" x2="266.4" y2="247.1"/>
<line x1="277.0" y1="247.3" x2="279.7" y2="247.1"/>
<line x1="281.3" y1="247.3" x2="284.9" y2="247.1"/>
<line x1="288.0" y1="247.3" x2="291.7" y2="247.1"/>
<line x1="297.4" y1="247.3" x2="301.4" y2="247.0"/>
<line x1="306.9" y1="247.3" x2="308.3" y2="247.2"/>
<line x1="311.6" y1="247.3" x2="313.7" y2="247.1"/>
<line x1="318.7" y1="247.3" x2="320.0" y2="247.2"/>
<line x1="325.7" y1="247.3" x2="327.5" y2="247.2"/>
<line x1="340.0" y1="247.3" x2="341.9" y2="247.2"/>
<line x1="351.1" y1="247.3" x2="355.0" y2="247.0"/>
<line x1="360.3" y1="247.3" x2="364.4" y2="247.0"/>
<line x1="369.2" y1="247.3" x2="372.1" y2="247.1"/>
<line x1="374.1" y1="247.3" x2="376.2" y2="247.1"/>
<line x1="388.5" y1="247.3" x2="392.4" y2="247.0"/>
<line x1="414.8" y1="247.3" x2="417.0" y2="247.1"/>
<line x1="240.7" y1="250.4" x2="245.1" y2="250.1"/>
<line x1="249.9" y1="250.4" x2="253.3" y2="250.2"/>
<line x1="255.7" y1="250.4" x2="259.3" y2="250.2"/>
<line x1="264.9" y1="250.4" x2="266.6" y2="250.3"/>
<line x1="268.6" y1="250.4" x2="273.4" y2="250.1"/>
<line x1="275.5" y1="250.4" x2="276.8" y2="250.3"/>
<line x1="289.8" y1="250.4" x2="291.3" y2="250.3"/>
<line x1="311.3" y1="250.4" x2="316.1" y2="250.1"/>
<line x1="318.5" y1="250.4" x2="320.2" y2="250.3"/>
<line x1="335.0" y1="250.4" x2="338.6" y2="250.2"/>
<line x1="344.5" y1="250.4" x2="346.9" y2="250.2"/>
<line x1="348.5" y1="250.4" x2="350.7" y2="250.3"/>
<line x1="355.4" y1="250.4" x2="358.0" y2="250.2"/>
<line x1="371.2" y1="250.4" x2="372.6" y2="250.3"/>
<line x1="376.0" y1="250.4" x2="380.2" y2="250.1"/>
<line x1="384.8" y1="250.4" x2="388.1" y2="250.2"/>
<line x1="397.3" y1="250.4" x2="398.5" y2="250.3"/>
<line x1="403.4" y1="250.4" x2="408.3" y2="250.1"/>
<line x1="207.5" y1="252.8" x2="211.8" y2="252.5"/>
<line x1="217.6" y1="252.8" x2="219.9" y2="252.6"/>
<line x1="224.5" y1="252.8" x2="227.6" y2="252.6"/>
<line x1="245.4" y1="252.8" x2="248.1" y2="252.6"/>
<line x1="256.8" y1="252.8" x2="258.8" y2="252.7"/>
<line x1="264.3" y1="252.8" x2="267.4" y2="252.6"/>
<line x1="272.9" y1="252.8" x2="275.0" y2="252.6"/>
<line x1="287.3" y1="252.8" x2="289.9" y2="252.6"/>
<line x1="301.3" y1="252.8" x2="303.2" y2="252.7"/>
<line x1="308.1" y1="252.8" x2="311.5" y2="252.6"/>
<line x1="315.1" y1="252.8" x2="319.7" y2="252.5"/>
<line x1="329.7" y1="252.8" x2="331.5" y2="252.7"/>
<line x1="334.1" y1="252.8" x2="336.5" y2="252.6"/>
<line x1="338.8" y1="252.8" x2="341.2" y2="252.6"/>
<line x1="347.1" y1="252.8" x2="351.1" y2="252.5"/>
<line x1="356.9" y1="252.8" x2="358.5" y2="252.7"/>
<line x1="376.0" y1="252.8" x2="378.0" y2="252.7"/>
<line x1="393.7" y1="252.8" x2="395.4" y2="252.7"/>
<line x1="219.8" y1="255.6" x2="222.8" y2="255.4"/>
<line x1="227.1" y1="255.6" x2="228.7" y2="255.5"/>
<line x1="240.2" y1="255.6" x2="243.0" y2="255.4"/>
<line x1="262.7" y1="255.6" x2="265.3" y2="255.5"/>
<line x1="271.2" y1="255.6" x2="272.6" y2="255.5"/>
<line x1="282.8" y1="255.6" x2="284.4" y2="255.5"/>
<line x1="288.3" y1="255.6" x2="292.2" y2="255.4"/>
<line x1="296.6" y1="255.6" x2="301.0" y2="255.4"/>
<line x1="304.3" y1="255.6" x2="309.1" y2="255.3"/>
<line x1="318.4" y1="255.6" x2="323.4" y2="255.3"/>
<line x1="325.1" y1="255.6" x2="327.4" y2="255.5"/>
<line x1="328.9" y1="255.6" x2="331.7" y2="255.4"/>
<line x1="336.4" y1="255.6" x2="338.9" y2="255.5"/>
<line x1="354.6" y1="255.6" x2="356.6" y2="255.5"/>
<line x1="369.5" y1="255.6" x2="372.8" y2="255.4"/>
<line x1="386.4" y1="255.6" x2="390.7" y2="255.4"/>
<line x1="393.5" y1="255.6" x2="396.8" y2="255.4"/>
<line x1="407.3" y1="255.6" x2="409.9" y2="255.5"/>
<line x1="413.3" y1="255.6" x2="415.3" y2="255.5"/>
<line x1="206.4" y1="257.7" x2="208.8" y2="257.5"/>
<line x1="240.9" y1="257.7" x2="242.2" y2="257.6"/>
<line x1="248.0" y1="257.7" x2="251.7" y2="257.4"/>
<line x1="253.6" y1="257.7" x2="255.4" y2="257.6"/>
<line x1="260.3" y1="257.7" x2="262.9" y2="257.5"/>
<line x1="268.4" y1="257.7" x2="272.6" y2="257.4"/>
<line x1="301.9" y1="257.7" x2="305.9" y2="257.4"/>
<line x1="311.4" y1="257.7" x2="314.7" y2="257.5"/>
<line x1="317.2" y1="257.7" x2="319.0" y2="257.6"/>
<line x1="320.7" y1="257.7" x2="323.7" y2="257.5"/>
<line x1="327.4" y1="257.7" x2="330.5" y2="257.5"/>
<line x1="349.3" y1="257.7" x2="352.0" y2="257.5"/>
<line x1="363.6" y1="257.7" x2="364.9" y2="257.6"/>
<line x1="369.5" y1="257.7" x2="374.3" y2="257.4"/>
<line x1="380.2" y1="257.7" x2="383.3" y2="257.5"/>
<line x1="400.1" y1="257.7" x2="403.1" y2="257.5"/>
<line x1="408.1" y1="257.7" x2="410.1" y2="257.5"/>
<line x1="208.0" y1="260.6" x2="211.2" y2="260.4"/>
<line x1="224.9" y1="260.6" x2="227.4" y2="260.4"/>
<line x1="245.5" y1="260.6" x2="248.8" y2="260.4"/>
<line x1="251.6" y1="260.6" x2="252.8" y2="260.5"/>
<line x1="267.1" y1="260.6" x2="271.7" y2="260.3"/>
<line x1="283.8" y1="260.6" x2="287.5" y2="260.4"/>
<line x1="296.9" y1="260.6" x2="298.8" y2="260.5"/>
<line x1="320.0" y1="260.6" x2="322.2" y2="260.5"/>
<line x1="325.6" y1="260.6" x2="328.0" y2="260.4"/>
<line x1="332.4" y1="260.6" x2="337.1" y2="260.3"/>
<line x1="341.2" y1="260.6" x2="342.5" y2="260.5"/>
<line x1="354.6" y1="260.6" x2="355.8" y2="260.5"/>
<line x1="368.4" y1="260.6" x2="371.2" y2="260.4"/>
<line x1="375.6" y1="260.6" x2="377.6" y2="260.5"/>
<line x1="382.4" y1="260.6" x2="387.3" y2="260.3"/>
<line x1="392.7" y1="260.6" x2="394.4" y2="260.5"/>
<line x1="219.4" y1="263.7" x2="220.9" y2="263.6"/>
<line x1="231.2" y1="263.7" x2="232.6" y2="263.6"/>
<line x1="241.7" y1="263.7" x2="246.0" y2="263.4"/>
<line x1="250.4" y1="263.7" x2="254.0" y2="263.5"/>
<line x1="266.4" y1="263.7" x2="269.8" y2="263.5"/>
<line x1="281.7" y1="263.7" x2="284.1" y2="263.5"/>
<line x1="290.0" y1="263.7" x2="294.4" y2="263.4"/>
<line x1="303.3" y1="263.7" x2="307.1" y2="263.5"/>
<line x1="312.6" y1="263.7" x2="316.9" y2="263.4"/>
<line x1="318.4" y1="263.7" x2="320.6" y2="263.5"/>
<line x1="340.5" y1="263.7" x2="343.9" y2="263.5"/>
<line x1="359.1" y1="263.7" x2="361.6" y2="263.5"/>
<line x1="365.6" y1="263.7" x2="369.8" y2="263.4"/>
<line x1="374.7" y1="263.7" x2="379.4" y2="263.4"/>
<line x1="383.7" y1="263.7" x2="387.4" y2="263.5"/>
<line x1="397.1" y1="263.7" x2="400.1" y2="263.5"/>
<line x1="405.2" y1="263.7" x2="409.3" y2="263.4"/>
<line x1="209.9" y1="266.0" x2="211.8" y2="265.9"/>
<line x1="214.1" y1="266.0" x2="218.0" y2="265.8"/>
<line x1="222.0" y1="266.0" x2="224.8" y2="265.9"/>
<line x1="238.1" y1="266.0" x2="239.9" y2="265.9"/>
<line x1="243.0" y1="266.0" x2="246.1" y2="265.9"/>
<line x1="256.5" y1="266.0" x2="259.8" y2="265.8"/>
<line x1="279.5" y1="266.0" x2="280.9" y2="266.0"/>
<line x1="283.2" y1="266.0" x2="284.7" y2="266.0"/>
<line x1="288.7" y1="266.0" x2="293.2" y2="265.8"/>
<line x1="299.0" y1="266.0" x2="303.7" y2="265.8"/>
<line x1="307.8" y1="266.0" x2="310.6" y2="265.9"/>
<line x1="316.4" y1="266.0" x2="318.5" y2="265.9"/>
<line x1="331.0" y1="266.0" x2="333.9" y2="265.9"/>
<line x1="339.8" y1="266.0" x2="344.8" y2="265.7"/>
<line x1="346.4" y1="266.0" x2="348.6" y2="265.9"/>
<line x1="369.1" y1="266.0" x2="374.1" y2="265.7"/>
<line x1="384.8" y1="266.0" x2="387.2" y2="265.9"/>
<line x1="392.1" y1="266.0" x2="393.7" y2="265.9"/>
<line x1="396.3" y1="266.0" x2="398.0" y2="265.9"/>
<line x1="400.3" y1="266.0" x2="402.4" y2="265.9"/>
<line x1="215.3" y1="267.9" x2="218.9" y2="267.7"/>
<line x1="221.9" y1="267.9" x2="226.3" y2="267.6"/>
<line x1="230.6" y1="267.9" x2="232.3" y2="267.8"/>
<line x1="234.1" y1="267.9" x2="238.0" y2="267.6"/>
<line x1="240.2" y1="267.9" x2="244.7" y2="267.6"/>
<line x1="248.0" y1="267.9" x2="249.8" y2="267.8"/>
<line x1="255.1" y1="267.9" x2="257.6" y2="267.7"/>
<line x1="265.7" y1="267.9" x2="270.6" y2="267.6"/>
<line x1="276.1" y1="267.9" x2="279.9" y2="267.6"/>
<line x1="283.5" y1="267.9" x2="285.8" y2="267.7"/>
<line x1="296.8" y1="267.9" x2="301.5" y2="267.6"/>
<line x1="304.3" y1="267.9" x2="308.9" y2="267.6"/>
<line x1="317.6" y1="267.9" x2="321.8" y2="267.6"/>
<line x1="329.1" y1="267.9" x2="331.0" y2="267.8"/>
<line x1="336.6" y1="267.9" x2="338.6" y2="267.7"/>
<line x1="347.3" y1="267.9" x2="349.3" y2="267.7"/>
<line x1="351.1" y1="267.9" x2="354.7" y2="267.7"/>
<line x1="357.4" y1="267.9" x2="359.4" y2="267.7"/>
<line x1="364.1" y1="267.9" x2="368.3" y2="267.6"/>
<line x1="375.5" y1="267.9" x2="379.5" y2="267.6"/>
<line x1="392.5" y1="267.9" x2="395.6" y2="267.7"/>
<line x1="411.9" y1="267.9" x2="413.8" y2="267.8"/>
<line x1="209.2" y1="269.5" x2="212.1" y2="269.3"/>
<line x1="229.1" y1="269.5" x2="233.1" y2="269.2"/>
<line x1="238.6" y1="269.5" x2="243.4" y2="269.2"/>
<line x1="247.2" y1="269.5" x2="250.4" y2="269.3"/>
<line x1="252.0" y1="269.5" x2="256.9" y2="269.2"/>
<line x1="259.2" y1="269.5" x2="260.8" y2="269.4"/>
<line x1="266.0" y1="269.5" x2="267.3" y2="269.4"/>
<line x1="271.9" y1="269.5" x2="273.9" y2="269.4"/>
<line x1="278.1" y1="269.5" x2="281.5" y2="269.3"/>
<line x1="292.4" y1="269.5" x2="293.8" y2="269.4"/>
<line x1="297.5" y1="269.5" x2="300.6" y2="269.3"/>
<line x1="302.7" y1="269.5" x2="305.4" y2="269.3"/>
<line x1="309.6" y1="269.5" x2="314.1" y2="269.2"/>
<line x1="318.1" y1="269.5" x2="322.2" y2="269.2"/>
<line x1="327.4" y1="269.5" x2="332.2" y2="269.2"/>
<line x1="335.6" y1="269.5" x2="339.9" y2="269.2"/>
<line x1="351.0" y1="269.5" x2="353.1" y2="269.3"/>
<line x1="382.0" y1="269.5" x2="384.2" y2="269.3"/>
<line x1="388.5" y1="269.5" x2="391.1" y2="269.3"/>
<line x1="392.9" y1="269.5" x2="395.8" y2="269.3"/>
<line x1="206.7" y1="272.1" x2="210.4" y2="271.9"/>
<line x1="221.7" y1="272.1" x2="224.9" y2="271.9"/>
<line x1="230.7" y1="272.1" x2="233.0" y2="272.0"/>
<line x1="237.4" y1="272.1" x2="239.0" y2="272.0"/>
<line x1="244.8" y1="272.1" x2="248.0" y2="271.9"/>
<line x1="251.6" y1="272.1" x2="254.8" y2="271.9"/>
<line x1="256.9" y1="272.1" x2="258.6" y2="272.0"/>
<line x1="261.9" y1="272.1" x2="264.2" y2="272.0"/>
<line x1="279.4" y1="272.1" x2="283.3" y2="271.9"/>
<line x1="287.3" y1="272.1" x2="290.8" y2="271.9"/>
<line x1="293.7" y1="272.1" x2="295.8" y2="272.0"/>
<line x1="299.6" y1="272.1" x2="302.3" y2="271.9"/>
<line x1="308.9" y1="272.1" x2="312.2" y2="271.9"/>
<line x1="315.0" y1="272.1" x2="320.0" y2="271.8"/>
<line x1="325.0" y1="272.1" x2="326.8" y2="272.0"/>
<line x1="332.2" y1="272.1" x2="335.0" y2="271.9"/>
<line x1="350.0" y1="272.1" x2="351.8" y2="272.0"/>
<line x1="354.9" y1="272.1" x2="358.7" y2="271.9"/>
<line x1="364.0" y1="272.1" x2="368.3" y2="271.8"/>
<line x1="393.8" y1="272.1" x2="397.9" y2="271.9"/>
<line x1="401.7" y1="272.1" x2="406.5" y2="271.8"/>
<line x1="214.3" y1="274.3" x2="217.0" y2="274.1"/>
<line x1="227.9" y1="274.3" x2="231.0" y2="274.1"/>
<line x1="233.4" y1="274.3" x2="235.7" y2="274.2"/>
<line x1="239.8" y1="274.3" x2="243.2" y2="274.1"/>
<line x1="256.6" y1="274.3" x2="261.4" y2="274.0"/>
<line x1="264.8" y1="274.3" x2="269.5" y2="274.0"/>
<line x1="271.2" y1="274.3" x2="274.6" y2="274.1"/>
<line x1="280.2" y1="274.3" x2="284.3" y2="274.1"/>
<line x1="290.3" y1="274.3" x2="293.5" y2="274.1"/>
<line x1="298.1" y1="274.3" x2="300.8" y2="274.1"/>
<line x1="312.0" y1="274.3" x2="315.2" y2="274.1"/>
<line x1="318.4" y1="274.3" x2="321.1" y2="274.1"/>
<line x1="342.3" y1="274.3" x2="344.8" y2="274.2"/>
<line x1="350.0" y1="274.3" x2="351.8" y2="274.2"/>
<line x1="357.7" y1="274.3" x2="362.1" y2="274.0"/>
<line x1="382.2" y1="274.3" x2="384.0" y2="274.2"/>
<line x1="387.8" y1="274.3" x2="390.9" y2="274.1"/>
<line x1="393.2" y1="274.3" x2="396.8" y2="274.1"/>
<line x1="412.2" y1="274.3" x2="416.1" y2="274.1"/>
<line x1="209.9" y1="277.3" x2="213.6" y2="277.0"/>
<line x1="217.3" y1="277.3" x2="220.6" y2="277.1"/>
<line x1="232.4" y1="277.3" x2="235.1" y2="277.1"/>
<line x1="237.3" y1="277.3" x2="241.4" y2="277.0"/>
<line x1="243.4" y1="277.3" x2="245.2" y2="277.1"/>
<line x1="259.9" y1="277.3" x2="263.8" y2="277.0"/>
<line x1="266.1" y1="277.3" x2="268.3" y2="277.1"/>
<line x1="273.9" y1="277.3" x2="277.3" y2="277.0"/>
<line x1="280.8" y1="277.3" x2="283.5" y2="277.1"/>
<line x1="295.9" y1="277.3" x2="299.4" y2="277.0"/>
<line x1="323.5" y1="277.3" x2="328.3" y2="277.0"/>
<line x1="331.6" y1="277.3" x2="335.5" y2="277.0"/>
<line x1="338.4" y1="277.3" x2="342.9" y2="277.0"/>
<line x1="348.0" y1="277.3" x2="350.1" y2="277.1"/>
<line x1="357.9" y1="277.3" x2="361.3" y2="277.1"/>
<line x1="365.2" y1="277.3" x2="367.8" y2="277.1"/>
<line x1="374.4" y1="277.3" x2="376.5" y2="277.1"/>
<line x1="379.3" y1="277.3" x2="381.4" y2="277.1"/>
<line x1="385.9" y1="277.3" x2="388.4" y2="277.1"/>
<line x1="393.0" y1="277.3" x2="394.6" y2="277.2"/>
<line x1="399.9" y1="277.3" x2="401.5" y2="277.2"/>
<line x1="406.8" y1="277.3" x2="411.1" y2="277.0"/>
<line x1="414.2" y1="277.3" x2="418.1" y2="277.0"/>
<line x1="213.5" y1="279.2" x2="216.6" y2="279.0"/>
<line x1="224.5" y1="279.2" x2="229.2" y2="278.9"/>
<line x1="232.3" y1="279.2" x2="234.4" y2="279.1"/>
<line x1="236.9" y1="279.2" x2="241.4" y2="278.9"/>
<line x1="245.2" y1="279.2" x2="248.5" y2="279.0"/>
<line x1="260.2" y1="279.2" x2="262.6" y2="279.0"/>
<line x1="269.3" y1="279.2" x2="273.0" y2="279.0"/>
<line x1="277.0" y1="279.2" x2="279.6" y2="279.0"/>
<line x1="282.4" y1="279.2" x2="283.9" y2="279.1"/>
<line x1="305.2" y1="279.2" x2="307.5" y2="279.1"/>
<line x1="312.0" y1="279.2" x2="315.7" y2="279.0"/>
<line x1="325.4" y1="279.2" x2="329.8" y2="278.9"/>
<line x1="334.2" y1="279.2" x2="336.1" y2="279.1"/>
<line x1="347.3" y1="279.2" x2="348.7" y2="279.1"/>
<line x1="351.1" y1="279.2" x2="353.4" y2="279.0"/>
<line x1="359.8" y1="279.2" x2="364.2" y2="278.9"/>
<line x1="368.9" y1="279.2" x2="371.1" y2="279.1"/>
<line x1="375.7" y1="279.2" x2="378.2" y2="279.0"/>
<line x1="383.4" y1="279.2" x2="387.6" y2="278.9"/>
<line x1="389.3" y1="279.2" x2="393.7" y2="278.9"/>
<line x1="395.4" y1="279.2" x2="397.6" y2="279.1"/>
<line x1="229.2" y1="280.9" x2="232.1" y2="280.8"/>
<line x1="236.8" y1="280.9" x2="239.6" y2="280.8"/>
<line x1="262.9" y1="280.9" x2="266.1" y2="280.7"/>
<line x1="267.9" y1="280.9" x2="270.5" y2="280.8"/>
<line x1="272.9" y1="280.9" x2="275.2" y2="280.8"/>
<line x1="279.9" y1="280.9" x2="283.7" y2="280.7"/>
<line x1="286.3" y1="280.9" x2="289.4" y2="280.7"/>
<line x1="295.1" y1="280.9" x2="297.7" y2="280.8"/>
<line x1="303.1" y1="280.9" x2="304.9" y2="280.8"/>
<line x1="307.9" y1="280.9" x2="312.2" y2="280.7"/>
<line x1="331.3" y1="280.9" x2="333.0" y2="280.8"/>
<line x1="336.1" y1="280.9" x2="338.1" y2="280.8"/>
<line x1="346.3" y1="280.9" x2="347.9" y2="280.8"/>
<line x1="351.5" y1="280.9" x2="354.1" y2="280.8"/>
<line x1="369.5" y1="280.9" x2="372.8" y2="280.7"/>
<line x1="376.5" y1="280.9" x2="379.4" y2="280.8"/>
<line x1="397.0" y1="280.9" x2="399.1" y2="280.8"/>
<line x1="407.8" y1="280.9" x2="410.2" y2="280.8"/>
<line x1="212.3" y1="283.8" x2="216.3" y2="283.5"/>
<line x1="218.7" y1="283.8" x2="223.0" y2="283.5"/>
<line x1="226.1" y1="283.8" x2="229.4" y2="283.6"/>
<line x1="234.7" y1="283.8" x2="236.8" y2="283.7"/>
<line x1="257.5" y1="283.8" x2="260.6" y2="283.6"/>
<line x1="263.4" y1="283.8" x2="266.8" y2="283.6"/>
<line x1="271.4" y1="283.8" x2="273.2" y2="283.7"/>
<line x1="279.1" y1="283.8" x2="280.6" y2="283.7"/>
<line x1="297.0" y1="283.8" x2="299.8" y2="283.6"/>
<line x1="304.3" y1="283.8" x2="307.5" y2="283.6"/>
<line x1="318.6" y1="283.8" x2="323.2" y2="283.5"/>
<line x1="326.0" y1="283.8" x2="328.9" y2="283.6"/>
<line x1="332.0" y1="283.8" x2="333.9" y2="283.7"/>
<line x1="361.1" y1="283.8" x2="364.8" y2="283.6"/>
<line x1="374.7" y1="283.8" x2="378.4" y2="283.6"/>
<line x1="381.4" y1="283.8" x2="386.0" y2="283.5"/>
<line x1="388.3" y1="283.8" x2="392.1" y2="283.6"/>
<line x1="394.0" y1="283.8" x2="397.7" y2="283.6"/>
<line x1="401.8" y1="283.8" x2="404.6" y2="283.6"/>
<line x1="408.6" y1="283.8" x2="411.3" y2="283.6"/>
<line x1="413.6" y1="283.8" x2="418.2" y2="283.5"/>
<line x1="206.5" y1="286.8" x2="208.1" y2="286.7"/>
<line x1="210.7" y1="286.8" x2="213.8" y2="286.6"/>
<line x1="216.3" y1="286.8" x2="219.7" y2="286.6"/>
<line x1="223.5" y1="286.8" x2="226.9" y2="286.6"/>
<line x1="230.3" y1="286.8" x2="231.7" y2="286.7"/>
<line x1="262.4" y1="286.8" x2="266.6" y2="286.5"/>
<line x1="271.6" y1="286.8" x2="273.0" y2="286.7"/>
<line x1="276.2" y1="286.8" x2="277.4" y2="286.7"/>
<line x1="318.6" y1="286.8" x2="320.3" y2="286.7"/>
<line x1="331.6" y1="286.8" x2="335.1" y2="286.6"/>
<line x1="339.0" y1="286.8" x2="343.3" y2="286.5"/>
<line x1="349.0" y1="286.8" x2="352.7" y2="286.5"/>
<line x1="362.1" y1="286.8" x2="363.7" y2="286.7"/>
<line x1="365.7" y1="286.8" x2="370.0" y2="286.5"/>
<line x1="394.8" y1="286.8" x2="396.0" y2="286.7"/>
<line x1="406.4" y1="286.8" x2="407.7" y2="286.7"/>
<line x1="412.9" y1="286.8" x2="416.7" y2="286.5"/>
<line x1="219.4" y1="288.6" x2="220.9" y2="288.5"/>
<line x1="223.4" y1="288.6" x2="228.0" y2="288.3"/>
<line x1="229.7" y1="288.6" x2="231.5" y2="288.5"/>
<line x1="235.1" y1="288.6" x2="238.5" y2="288.4"/>
<line x1="241.6" y1="288.6" x2="242.8" y2="288.5"/>
<line x1="245.8" y1="288.6" x2="247.1" y2="288.5"/>
<line x1="253.0" y1="288.6" x2="254.4" y2="288.5"/>
<line x1="258.9" y1="288.6" x2="261.2" y2="288.5"/>
<line x1="264.9" y1="288.6" x2="267.1" y2="288.5"/>
<line x1="294.7" y1="288.6" x2="297.3" y2="288.5"/>
<line x1="324.9" y1="288.6" x2="328.1" y2="288.4"/>
<line x1="329.9" y1="288.6" x2="332.4" y2="288.5"/>
<line x1="338.3" y1="288.6" x2="341.4" y2="288.4"/>
<line x1="344.0" y1="288.6" x2="346.1" y2="288.5"/>
<line x1="352.9" y1="288.6" x2="355.8" y2="288.4"/>
<line x1="358.7" y1="288.6" x2="360.5" y2="288.5"/>
<line x1="369.7" y1="288.6" x2="374.5" y2="288.3"/>
<line x1="380.2" y1="288.6" x2="383.6" y2="288.4"/>
<line x1="392.4" y1="288.6" x2="396.5" y2="288.4"/>
<line x1="401.9" y1="288.6" x2="403.4" y2="288.5"/>
<line x1="408.9" y1="288.6" x2="411.2" y2="288.5"/>
<line x1="412.8" y1="288.6" x2="414.6" y2="288.5"/>
<line x1="208.0" y1="290.6" x2="210.0" y2="290.5"/>
<line x1="215.3" y1="290.6" x2="219.0" y2="290.3"/>
<line x1="223.8" y1="290.6" x2="228.7" y2="290.3"/>
<line x1="237.8" y1="290.6" x2="239.6" y2="290.5"/>
<line x1="253.7" y1="290.6" x2="255.7" y2="290.4"/>
<line x1="260.5" y1="290.6" x2="264.2" y2="290.3"/>
<line x1="268.8" y1="290.6" x2="271.2" y2="290.4"/>
<line x1="279.0" y1="290.6" x2="282.1" y2="290.4"/>
<line x1="284.7" y1="290.6" x2="287.7" y2="290.4"/>
<line x1="304.9" y1="290.6" x2="306.5" y2="290.5"/>
<line x1="308.6" y1="290.6" x2="312.8" y2="290.3"/>
<line x1="317.9" y1="290.6" x2="320.7" y2="290.4"/>
<line x1="354.7" y1="290.6" x2="357.6" y2="290.4"/>
<line x1="361.5" y1="290.6" x2="366.2" y2="290.3"/>
<line x1="380.9" y1="290.6" x2="384.9" y2="290.3"/>
<line x1="386.6" y1="290.6" x2="388.3" y2="290.5"/>
<line x1="392.0" y1="290.6" x2="395.4" y2="290.4"/>
<line x1="401.1" y1="290.6" x2="403.7" y2="290.4"/>
<line x1="416.1" y1="290.6" x2="421.0" y2="290.3"/>
<line x1="212.0" y1="292.7" x2="215.0" y2="292.5"/>
<line x1="223.9" y1="292.7" x2="227.6" y2="292.5"/>
<line x1="233.0" y1="292.7" x2="234.4" y2="292.6"/>
<line x1="246.8" y1="292.7" x2="248.8" y2="292.6"/>
<line x1="251.5" y1="292.7" x2="254.3" y2="292.5"/>
<line x1="263.7" y1="292.7" x2="268.7" y2="292.4"/>
<line x1="287.3" y1="292.7" x2="289.6" y2="292.6"/>
<line x1="293.3" y1="292.7" x2="297.9" y2="292.4"/>
<line x1="302.5" y1="292.7" x2="305.9" y2="292.5"/>
<line x1="310.0" y1="292.7" x2="314.6" y2="292.4"/>
<line x1="335.9" y1="292.7" x2="338.2" y2="292.6"/>
<line x1="340.2" y1="292.7" x2="345.1" y2="292.4"/>
<line x1="378.3" y1="292.7" x2="379.6" y2="292.6"/>
<line x1="382.2" y1="292.7" x2="385.0" y2="292.5"/>
<line x1="386.6" y1="292.7" x2="391.6" y2="292.4"/>
<line x1="397.0" y1="292.7" x2="398.7" y2="292.6"/>
<line x1="400.8" y1="292.7" x2="403.6" y2="292.5"/>
<line x1="413.7" y1="292.7" x2="415.3" y2="292.6"/>
<line x1="215.0" y1="295.8" x2="219.0" y2="295.6"/>
<line x1="221.3" y1="295.8" x2="223.5" y2="295.7"/>
<line x1="225.2" y1="295.8" x2="228.3" y2="295.6"/>
<line x1="232.3" y1="295.8" x2="234.9" y2="295.6"/>
<line x1="239.5" y1="295.8" x2="243.2" y2="295.6"/>
<line x1="256.4" y1="295.8" x2="260.3" y2="295.6"/>
<line x1="269.3" y1="295.8" x2="271.9" y2="295.6"/>
<line x1="274.1" y1="295.8" x2="279.1" y2="295.5"/>
<line x1="283.3" y1="295.8" x2="288.0" y2="295.5"/>
<line x1="292.3" y1="295.8" x2="294.9" y2="295.6"/>
<line x1="304.0" y1="295.8" x2="308.6" y2="295.5"/>
<line x1="344.2" y1="295.8" x2="348.1" y2="295.6"/>
<line x1="358.4" y1="295.8" x2="362.0" y2="295.6"/>
<line x1="364.5" y1="295.8" x2="368.1" y2="295.6"/>
<line x1="380.5" y1="295.8" x2="383.5" y2="295.6"/>
<line x1="385.7" y1="295.8" x2="390.4" y2="295.5"/>
<line x1="414.6" y1="295.8" x2="419.1" y2="295.5"/>
<line x1="212.2" y1="298.7" x2="213.8" y2="298.6"/>
<line x1="216.5" y1="298.7" x2="218.1" y2="298.6"/>
<line x1="223.2" y1="298.7" x2="226.4" y2="298.5"/>
<line x1="235.6" y1="298.7" x2="238.5" y2="298.5"/>
<line x1="243.6" y1="298.7" x2="247.7" y2="298.5"/>
<line x1="252.2" y1="298.7" x2="254.8" y2="298.6"/>
<line x1="257.4" y1="298.7" x2="260.0" y2="298.6"/>
<line x1="263.2" y1="298.7" x2="264.5" y2="298.6"/>
<line x1="268.6" y1="298.7" x2="270.0" y2="298.6"/>
<line x1="274.7" y1="298.7" x2="277.0" y2="298.6"/>
<line x1="279.5" y1="298.7" x2="283.9" y2="298.5"/>
<line x1="288.3" y1="298.7" x2="292.7" y2="298.5"/>
<line x1="296.1" y1="298.7" x2="300.4" y2="298.5"/>
<line x1="303.5" y1="298.7" x2="304.9" y2="298.6"/>
<line x1="308.0" y1="298.7" x2="311.9" y2="298.5"/>
<line x1="322.0" y1="298.7" x2="324.7" y2="298.6"/>
<line x1="347.3" y1="298.7" x2="350.5" y2="298.5"/>
<line x1="356.0" y1="298.7" x2="360.1" y2="298.5"/>
<line x1="364.3" y1="298.7" x2="367.2" y2="298.5"/>
<line x1="372.5" y1="298.7" x2="375.3" y2="298.6"/>
<line x1="380.8" y1="298.7" x2="383.7" y2="298.5"/>
<line x1="396.6" y1="298.7" x2="399.3" y2="298.6"/>
<line x1="412.2" y1="298.7" x2="413.8" y2="298.6"/>
<line x1="415.7" y1="298.7" x2="420.0" y2="298.5"/>
<line x1="215.8" y1="301.5" x2="218.8" y2="301.3"/>
<line x1="223.4" y1="301.5" x2="226.2" y2="301.4"/>
<line x1="238.6" y1="301.5" x2="241.1" y2="301.4"/>
<line x1="242.6" y1="301.5" x2="247.6" y2="301.2"/>
<line x1="250.3" y1="301.5" x2="252.7" y2="301.4"/>
<line x1="258.0" y1="301.5" x2="261.3" y2="301.3"/>
<line x1="264.7" y1="301.5" x2="266.1" y2="301.4"/>
<line x1="278.4" y1="301.5" x2="280.4" y2="301.4"/>
<line x1="284.3" y1="301.5" x2="286.9" y2="301.4"/>
<line x1="290.6" y1="301.5" x2="294.0" y2="301.3"/>
<line x1="305.1" y1="301.5" x2="306.5" y2="301.4"/>
<line x1="310.4" y1="301.5" x2="313.2" y2="301.4"/>
<line x1="335.7" y1="301.5" x2="340.2" y2="301.3"/>
<line x1="343.7" y1="301.5" x2="347.3" y2="301.3"/>
<line x1="352.7" y1="301.5" x2="354.1" y2="301.4"/>
<line x1="356.5" y1="301.5" x2="361.2" y2="301.2"/>
<line x1="373.9" y1="301.5" x2="376.2" y2="301.4"/>
<line x1="385.7" y1="301.5" x2="387.3" y2="301.4"/>
<line x1="392.3" y1="301.5" x2="397.1" y2="301.2"/>
<line x1="408.3" y1="301.5" x2="410.1" y2="301.4"/>
<line x1="209.8" y1="303.5" x2="212.2" y2="303.4"/>
<line x1="214.4" y1="303.5" x2="219.1" y2="303.2"/>
<line x1="232.1" y1="303.5" x2="234.8" y2="303.3"/>
<line x1="238.0" y1="303.5" x2="241.6" y2="303.3"/>
<line x1="245.6" y1="303.5" x2="247.1" y2="303.4"/>
<line x1="256.7" y1="303.5" x2="261.1" y2="303.2"/>
<line x1="275.6" y1="303.5" x2="277.9" y2="303.4"/>
<line x1="295.0" y1="303.5" x2="298.3" y2="303.3"/>
<line x1="324.7" y1="303.5" x2="327.1" y2="303.4"/>
<line x1="329.8" y1="303.5" x2="333.8" y2="303.3"/>
<line x1="338.8" y1="303.5" x2="341.2" y2="303.4"/>
<line x1="345.2" y1="303.5" x2="346.7" y2="303.4"/>
<line x1="351.8" y1="303.5" x2="355.2" y2="303.3"/>
<line x1="356.9" y1="303.5" x2="360.0" y2="303.3"/>
<line x1="364.5" y1="303.5" x2="366.2" y2="303.4"/>
<line x1="387.0" y1="303.5" x2="388.8" y2="303.4"/>
<line x1="394.2" y1="303.5" x2="395.9" y2="303.4"/>
<line x1="399.8" y1="303.5" x2="401.4" y2="303.4"/>
<line x1="403.7" y1="303.5" x2="406.9" y2="303.3"/>
<line x1="410.1" y1="303.5" x2="412.0" y2="303.4"/>
<line x1="414.4" y1="303.5" x2="416.1" y2="303.4"/>
<line x1="217.9" y1="305.9" x2="222.1" y2="305.6"/>
<line x1="230.9" y1="305.9" x2="233.1" y2="305.8"/>
<line x1="236.4" y1="305.9" x2="239.6" y2="305.7"/>
<line x1="245.1" y1="305.9" x2="246.6" y2="305.8"/>
<line x1="257.3" y1="305.9" x2="258.7" y2="305.8"/>
<line x1="262.9" y1="305.9" x2="267.9" y2="305.6"/>
<line x1="279.0" y1="305.9" x2="283.3" y2="305.6"/>
<line x1="293.6" y1="305.9" x2="296.3" y2="305.7"/>
<line x1="305.1" y1="305.9" x2="307.6" y2="305.8"/>
<line x1="310.0" y1="305.9" x2="312.0" y2="305.8"/>
<line x1="361.3" y1="305.9" x2="365.3" y2="305.7"/>
<line x1="396.5" y1="305.9" x2="401.0" y2="305.6"/>
<line x1="206.3" y1="308.8" x2="208.3" y2="308.7"/>
<line x1="218.5" y1="308.8" x2="222.4" y2="308.6"/>
<line x1="237.4" y1="308.8" x2="241.7" y2="308.6"/>
<line x1="258.8" y1="308.8" x2="260.1" y2="308.8"/>
<line x1="266.6" y1="308.8" x2="270.1" y2="308.6"/>
<line x1="273.1" y1="308.8" x2="275.2" y2="308.7"/>
<line x1="280.5" y1="308.8" x2="284.0" y2="308.6"/>
<line x1="297.4" y1="308.8" x2="301.2" y2="308.6"/>
<line x1="306.4" y1="308.8" x2="308.3" y2="308.7"/>
<line x1="314.1" y1="308.8" x2="316.7" y2="308.7"/>
<line x1="335.8" y1="308.8" x2="340.8" y2="308.5"/>
<line x1="346.0" y1="308.8" x2="347.9" y2="308.7"/>
<line x1="354.8" y1="308.8" x2="359.0" y2="308.6"/>
<line x1="362.1" y1="308.8" x2="363.7" y2="308.7"/>
<line x1="369.1" y1="308.8" x2="372.2" y2="308.7"/>
<line x1="384.4" y1="308.8" x2="387.9" y2="308.6"/>
<line x1="400.7" y1="308.8" x2="403.3" y2="308.7"/>
<line x1="407.8" y1="308.8" x2="412.5" y2="308.6"/>
<line x1="415.6" y1="308.8" x2="420.5" y2="308.5"/>
<line x1="223.6" y1="311.5" x2="226.0" y2="311.4"/>
<line x1="231.8" y1="311.5" x2="236.4" y2="311.3"/>
<line x1="240.6" y1="311.5" x2="244.0" y2="311.3"/>
<line x1="254.0" y1="311.5" x2="258.1" y2="311.3"/>
<line x1="286.2" y1="311.5" x2="288.5" y2="311.4"/>
<line x1="300.0" y1="311.5" x2="301.7" y2="311.4"/>
<line x1="311.2" y1="311.5" x2="313.6" y2="311.4"/>
<line x1="325.0" y1="311.5" x2="326.9" y2="311.4"/>
<line x1="332.6" y1="311.5" x2="334.6" y2="311.4"/>
<line x1="338.0" y1="311.5" x2="339.6" y2="311.4"/>
<line x1="363.2" y1="311.5" x2="365.6" y2="311.4"/>
<line x1="370.5" y1="311.5" x2="373.5" y2="311.4"/>
<line x1="378.0" y1="311.5" x2="382.0" y2="311.3"/>
<line x1="385.2" y1="311.5" x2="389.9" y2="311.3"/>
<line x1="392.7" y1="311.5" x2="396.2" y2="311.3"/>
<line x1="411.9" y1="311.5" x2="414.0" y2="311.4"/>
<line x1="239.9" y1="314.3" x2="242.4" y2="314.2"/>
<line x1="247.5" y1="314.3" x2="250.1" y2="314.2"/>
<line x1="255.5" y1="314.3" x2="258.7" y2="314.1"/>
<line x1="263.2" y1="314.3" x2="267.8" y2="314.1"/>
<line x1="270.9" y1="314.3" x2="272.3" y2="314.3"/>
<line x1="284.6" y1="314.3" x2="287.3" y2="314.2"/>
<line x1="323.5" y1="314.3" x2="328.1" y2="314.1"/>
<line x1="332.7" y1="314.3" x2="336.6" y2="314.1"/>
<line x1="339.3" y1="314.3" x2="340.8" y2="314.3"/>
<line x1="346.0" y1="314.3" x2="348.2" y2="314.2"/>
<line x1="358.2" y1="314.3" x2="362.4" y2="314.1"/>
<line x1="374.9" y1="314.3" x2="377.1" y2="314.2"/>
<line x1="385.6" y1="314.3" x2="389.9" y2="314.1"/>
<line x1="392.5" y1="314.3" x2="396.0" y2="314.1"/>
<line x1="399.0" y1="314.3" x2="402.4" y2="314.1"/>
<line x1="414.6" y1="314.3" x2="417.8" y2="314.1"/>
<line x1="209.0" y1="316.0" x2="211.9" y2="315.8"/>
<line x1="216.2" y1="316.0" x2="220.1" y2="315.8"/>
<line x1="223.4" y1="316.0" x2="226.6" y2="315.8"/>
<line x1="238.7" y1="316.0" x2="243.6" y2="315.7"/>
<line x1="249.5" y1="316.0" x2="251.0" y2="315.9"/>
<line x1="260.7" y1="316.0" x2="263.6" y2="315.8"/>
<line x1="266.0" y1="316.0" x2="268.7" y2="315.8"/>
<line x1="271.1" y1="316.0" x2="275.1" y2="315.7"/>
<line x1="282.9" y1="316.0" x2="285.1" y2="315.9"/>
<line x1="309.9" y1="316.0" x2="311.3" y2="315.9"/>
<line x1="321.7" y1="316.0" x2="323.9" y2="315.9"/>
<line x1="332.6" y1="316.0" x2="334.0" y2="315.9"/>
<line x1="345.2" y1="316.0" x2="346.8" y2="315.9"/>
<line x1="349.0" y1="316.0" x2="353.2" y2="315.7"/>
<line x1="367.4" y1="316.0" x2="371.7" y2="315.7"/>
<line x1="373.7" y1="316.0" x2="377.1" y2="315.8"/>
<line x1="379.5" y1="316.0" x2="381.7" y2="315.9"/>
<line x1="409.6" y1="316.0" x2="410.8" y2="315.9"/>
<line x1="414.9" y1="316.0" x2="417.6" y2="315.8"/>
<line x1="213.9" y1="318.8" x2="215.4" y2="318.8"/>
<line x1="219.7" y1="318.8" x2="224.2" y2="318.6"/>
<line x1="228.6" y1="318.8" x2="230.6" y2="318.7"/>
<line x1="236.2" y1="318.8" x2="238.8" y2="318.7"/>
<line x1="243.0" y1="318.8" x2="244.7" y2="318.7"/>
<line x1="256.3" y1="318.8" x2="259.2" y2="318.7"/>
<line x1="264.0" y1="318.8" x2="265.4" y2="318.8"/>
<line x1="288.2" y1="318.8" x2="289.7" y2="318.8"/>
<line x1="295.6" y1="318.8" x2="297.7" y2="318.7"/>
<line x1="311.9" y1="318.8" x2="313.2" y2="318.8"/>
<line x1="319.1" y1="318.8" x2="323.4" y2="318.6"/>
<line x1="337.8" y1="318.8" x2="342.5" y2="318.6"/>
<line x1="355.2" y1="318.8" x2="359.5" y2="318.6"/>
<line x1="370.4" y1="318.8" x2="375.1" y2="318.6"/>
<line x1="387.5" y1="318.8" x2="391.0" y2="318.6"/>
<line x1="396.1" y1="318.8" x2="397.6" y2="318.8"/>
<line x1="401.6" y1="318.8" x2="403.9" y2="318.7"/>
<line x1="405.4" y1="318.8" x2="409.4" y2="318.6"/>
<line x1="414.7" y1="318.8" x2="419.0" y2="318.6"/>
<line x1="206.1" y1="321.5" x2="208.9" y2="321.3"/>
<line x1="214.8" y1="321.5" x2="218.1" y2="321.3"/>
<line x1="229.3" y1="321.5" x2="230.9" y2="321.4"/>
<line x1="233.7" y1="321.5" x2="237.8" y2="321.2"/>
<line x1="248.5" y1="321.5" x2="250.0" y2="321.4"/>
<line x1="254.6" y1="321.5" x2="258.1" y2="321.3"/>
<line x1="261.6" y1="321.5" x2="264.4" y2="321.3"/>
<line x1="299.8" y1="321.5" x2="304.5" y2="321.2"/>
<line x1="309.2" y1="321.5" x2="311.4" y2="321.4"/>
<line x1="314.4" y1="321.5" x2="316.9" y2="321.3"/>
<line x1="341.1" y1="321.5" x2="345.1" y2="321.2"/>
<line x1="347.7" y1="321.5" x2="350.5" y2="321.3"/>
<line x1="370.2" y1="321.5" x2="374.4" y2="321.2"/>
<line x1="376.4" y1="321.5" x2="380.8" y2="321.2"/>
<line x1="385.1" y1="321.5" x2="387.7" y2="321.3"/>
<line x1="393.5" y1="321.5" x2="395.3" y2="321.4"/>
<line x1="416.9" y1="321.5" x2="418.4" y2="321.4"/>
</g>
<g clip-path="url(#ucclip)" stroke="#76644B" stroke-width="0.7" opacity="0.35" fill="none" stroke-dasharray="5 1.5 2 1.2">
<polyline points="197.0,249.9 209.1,247.4 221.1,247.4 233.1,247.4 245.1,246.8"/>
<polyline points="360.4,297.0 367.5,296.1 374.6,297.3 381.7,295.8 388.8,295.6"/>
<polyline points="409.0,287.1 419.7,286.4 430.5,286.1 441.2,284.6 451.9,283.5"/>
<polyline points="208.9,223.6 217.2,223.1 225.5,223.6 233.8,224.3 242.1,223.2"/>
<polyline points="255.0,298.2 261.3,298.4 267.7,298.3 274.1,298.7 280.5,297.8"/>
<polyline points="356.4,232.0 370.7,232.5 385.0,229.8 399.3,231.0 413.6,228.9"/>
<polyline points="384.7,302.0 396.2,300.7 407.8,300.6 419.3,301.7 430.8,299.4"/>
<polyline points="341.0,280.3 352.5,279.7 363.9,279.0 375.3,280.6 386.8,278.5"/>
<polyline points="339.4,278.3 346.3,277.9 353.1,279.6 360.0,277.5 366.8,279.1"/>
<polyline points="275.1,295.2 281.0,293.6 287.0,293.6 292.9,293.7 298.9,292.4"/>
<polyline points="249.4,301.5 256.9,302.1 264.4,300.4 271.9,299.9 279.4,299.6"/>
<polyline points="279.7,259.1 290.9,259.5 302.1,257.0 313.4,257.9 324.6,257.7"/>
<polyline points="246.4,225.0 255.5,225.4 264.6,225.5 273.7,223.6 282.8,223.2"/>
<polyline points="300.9,240.1 307.9,238.9 314.8,238.5 321.7,238.8 328.6,238.7"/>
<polyline points="402.9,277.3 408.1,278.2 413.4,277.5 418.6,278.0 423.9,278.0"/>
<polyline points="385.3,234.0 399.7,232.5 414.1,231.7 428.5,232.6 443.0,230.3"/>
<polyline points="212.5,249.2 226.7,249.1 240.9,246.8 255.1,247.0 269.3,246.0"/>
<polyline points="239.8,287.7 248.1,289.4 256.4,287.8 264.7,286.6 273.0,285.8"/>
<polyline points="339.6,273.9 344.4,274.3 349.1,273.6 353.9,272.6 358.6,273.0"/>
<polyline points="328.9,288.2 334.9,288.2 340.9,287.4 347.0,287.4 353.0,285.9"/>
<polyline points="395.3,241.2 402.2,241.6 409.1,239.3 416.0,239.3 422.8,238.5"/>
<polyline points="291.9,237.5 298.4,236.8 304.9,237.3 311.4,235.7 317.9,236.0"/>
<polyline points="196.8,316.8 203.8,316.6 210.7,317.3 217.7,315.8 224.6,316.7"/>
<polyline points="332.5,243.7 345.8,245.0 359.0,243.0 372.3,241.8 385.6,242.9"/>
<polyline points="265.8,263.7 273.9,261.7 282.0,262.2 290.1,261.3 298.2,262.5"/>
<polyline points="194.0,283.0 201.2,282.9 208.4,282.9 215.7,281.2 222.9,281.1"/>
<polyline points="220.9,317.2 226.9,317.8 233.0,317.7 239.1,318.1 245.1,315.8"/>
<polyline points="246.3,239.5 256.9,238.8 267.5,239.4 278.2,238.4 288.8,238.3"/>
<polyline points="407.4,249.4 421.8,247.8 436.2,249.2 450.6,246.5 465.0,245.6"/>
<polyline points="258.6,252.5 273.2,250.7 287.9,250.2 302.5,250.2 317.2,249.4"/>
<polyline points="339.7,273.2 345.4,273.9 351.2,273.4 356.9,273.6 362.6,273.6"/>
<polyline points="408.6,243.0 413.9,242.0 419.2,240.8 424.5,241.7 429.8,240.4"/>
<polyline points="246.8,259.7 256.8,257.7 266.8,258.8 276.8,258.1 286.8,257.2"/>
<polyline points="343.9,302.1 348.5,302.4 353.1,302.2 357.7,301.8 362.3,300.5"/>
<polyline points="407.7,300.6 414.7,301.5 421.6,299.4 428.6,299.5 435.5,300.5"/>
<polyline points="394.7,245.7 406.9,245.8 419.2,245.4 431.4,243.3 443.6,242.9"/>
<polyline points="241.9,248.5 246.8,248.9 251.7,248.7 256.6,247.6 261.4,248.6"/>
<polyline points="404.2,280.6 412.4,279.6 420.6,278.5 428.9,278.8 437.1,277.3"/>
<polyline points="344.7,240.0 353.1,239.2 361.5,238.9 369.9,238.0 378.3,237.6"/>
<polyline points="351.2,319.3 357.8,317.9 364.3,317.4 370.9,318.5 377.4,317.6"/>
<polyline points="383.5,308.9 394.2,307.9 404.8,308.7 415.5,308.6 426.2,307.0"/>
<polyline points="209.6,223.9 215.9,222.0 222.3,222.2 228.6,222.0 234.9,222.7"/>
<polyline points="414.1,226.0 419.8,225.8 425.5,223.5 431.2,223.7 436.9,223.8"/>
<polyline points="265.4,263.7 274.9,262.8 284.5,262.4 294.0,262.1 303.5,261.4"/>
<polyline points="333.2,292.7 340.4,292.2 347.7,290.9 354.9,290.9 362.2,289.8"/>
<polyline points="401.2,277.6 406.2,278.7 411.2,277.7 416.3,278.2 421.3,276.8"/>
<polyline points="371.8,302.6 377.3,301.4 382.7,302.3 388.2,302.3 393.7,302.0"/>
<polyline points="245.6,232.4 257.0,230.8 268.5,230.4 280.0,230.7 291.4,229.0"/>
<polyline points="335.4,246.7 342.6,246.6 349.8,246.7 357.0,244.6 364.2,245.9"/>
<polyline points="243.3,252.2 254.5,251.5 265.7,251.6 276.9,249.4 288.1,249.1"/>
<polyline points="341.7,248.2 347.9,249.2 354.0,249.0 360.2,248.4 366.3,248.7"/>
<polyline points="371.1,254.2 379.0,252.2 386.8,253.1 394.6,251.5 402.4,251.0"/>
<polyline points="308.6,238.9 322.8,237.2 337.1,235.8 351.4,234.9 365.7,235.1"/>
<polyline points="310.2,259.0 322.3,259.0 334.3,256.8 346.3,256.1 358.3,256.2"/>
<polyline points="301.8,247.3 313.3,247.0 324.9,246.8 336.4,246.8 347.9,246.4"/>
<polyline points="276.9,268.3 291.1,266.8 305.4,264.9 319.6,265.0 333.8,264.7"/>
<polyline points="256.1,227.7 270.9,225.1 285.7,225.1 300.5,224.8 315.3,223.3"/>
<polyline points="209.3,297.2 221.9,295.7 234.5,295.8 247.1,294.5 259.7,295.9"/>
<polyline points="205.4,250.6 218.0,249.9 230.5,249.2 243.1,248.8 255.7,249.1"/>
<polyline points="379.8,240.4 386.1,239.2 392.4,238.7 398.8,237.9 405.1,237.9"/>
<polyline points="410.7,235.2 417.9,235.2 425.2,234.8 432.4,233.4 439.6,234.2"/>
<polyline points="328.7,252.1 338.1,251.7 347.5,249.8 356.9,249.4 366.2,250.8"/>
<polyline points="217.9,302.9 225.9,302.5 234.0,302.6 242.0,303.5 250.1,301.1"/>
<polyline points="384.6,255.4 390.9,254.1 397.2,253.4 403.5,253.7 409.8,254.3"/>
<polyline points="386.5,280.5 391.1,279.9 395.7,280.4 400.3,280.3 404.9,278.6"/>
<polyline points="383.2,303.8 390.5,303.4 397.8,303.0 405.1,302.7 412.4,301.7"/>
<polyline points="244.7,313.4 253.5,313.5 262.3,312.8 271.1,311.1 279.9,312.3"/>
<polyline points="373.3,321.7 385.5,321.2 397.6,319.3 409.8,319.6 421.9,318.4"/>
<polyline points="381.3,235.8 391.4,236.5 401.6,234.8 411.7,235.5 421.9,235.0"/>
<polyline points="390.0,237.4 404.3,236.5 418.7,235.7 433.0,233.5 447.4,234.8"/>
<polyline points="316.2,268.8 324.2,268.4 332.3,268.2 340.3,266.2 348.4,266.1"/>
<polyline points="249.6,231.8 257.5,233.3 265.5,231.5 273.4,230.7 281.3,230.3"/>
<polyline points="359.3,242.4 368.6,242.9 378.0,242.8 387.3,240.8 396.7,241.1"/>
<polyline points="393.5,270.1 407.5,268.4 421.4,269.1 435.4,267.7 449.3,265.8"/>
<polyline points="325.0,305.1 335.0,304.4 344.9,305.0 354.8,304.0 364.8,302.4"/>
<polyline points="274.8,259.4 289.4,257.3 303.9,258.5 318.5,255.7 333.1,256.3"/>
<polyline points="290.4,293.1 299.4,293.6 308.4,293.9 317.4,293.4 326.4,291.9"/>
</g>
<g clip-path="url(#plclip)" stroke="#76644B" stroke-width="1.0" opacity="0.58">
<line x1="227.1" y1="277.0" x2="229.0" y2="276.9"/>
<line x1="232.0" y1="277.0" x2="236.0" y2="276.8"/>
<line x1="254.1" y1="277.0" x2="258.3" y2="276.7"/>
<line x1="277.6" y1="277.0" x2="278.9" y2="276.9"/>
<line x1="292.9" y1="277.0" x2="297.6" y2="276.7"/>
<line x1="306.8" y1="277.0" x2="310.2" y2="276.8"/>
<line x1="313.0" y1="277.0" x2="315.8" y2="276.8"/>
<line x1="319.4" y1="277.0" x2="320.9" y2="276.9"/>
<line x1="330.5" y1="277.0" x2="332.6" y2="276.9"/>
<line x1="361.9" y1="277.0" x2="366.7" y2="276.7"/>
<line x1="374.6" y1="277.0" x2="376.3" y2="276.9"/>
<line x1="380.7" y1="277.0" x2="385.7" y2="276.7"/>
<line x1="390.6" y1="277.0" x2="392.7" y2="276.9"/>
<line x1="395.0" y1="277.0" x2="397.7" y2="276.8"/>
<line x1="400.6" y1="277.0" x2="402.4" y2="276.9"/>
<line x1="404.3" y1="277.0" x2="406.2" y2="276.9"/>
<line x1="410.0" y1="277.0" x2="411.9" y2="276.9"/>
<line x1="415.4" y1="277.0" x2="420.3" y2="276.7"/>
<line x1="426.0" y1="277.0" x2="429.0" y2="276.8"/>
<line x1="433.2" y1="277.0" x2="434.9" y2="276.9"/>
<line x1="443.9" y1="277.0" x2="446.5" y2="276.8"/>
<line x1="449.6" y1="277.0" x2="453.4" y2="276.8"/>
<line x1="455.6" y1="277.0" x2="460.1" y2="276.7"/>
<line x1="476.0" y1="277.0" x2="478.9" y2="276.8"/>
<line x1="492.3" y1="277.0" x2="494.1" y2="276.9"/>
<line x1="499.4" y1="277.0" x2="503.6" y2="276.7"/>
<line x1="514.6" y1="277.0" x2="517.4" y2="276.8"/>
<line x1="525.6" y1="277.0" x2="528.1" y2="276.9"/>
<line x1="545.0" y1="277.0" x2="548.0" y2="276.8"/>
<line x1="557.5" y1="277.0" x2="560.1" y2="276.8"/>
<line x1="563.2" y1="277.0" x2="567.9" y2="276.7"/>
<line x1="575.3" y1="277.0" x2="579.1" y2="276.8"/>
<line x1="585.1" y1="277.0" x2="587.2" y2="276.9"/>
<line x1="599.4" y1="277.0" x2="604.2" y2="276.7"/>
<line x1="622.2" y1="277.0" x2="624.8" y2="276.8"/>
<line x1="630.3" y1="277.0" x2="634.3" y2="276.8"/>
<line x1="640.2" y1="277.0" x2="641.6" y2="276.9"/>
<line x1="649.2" y1="277.0" x2="650.9" y2="276.9"/>
<line x1="668.6" y1="277.0" x2="671.3" y2="276.8"/>
<line x1="683.4" y1="277.0" x2="685.3" y2="276.9"/>
<line x1="710.7" y1="277.0" x2="713.2" y2="276.9"/>
<line x1="727.4" y1="277.0" x2="729.2" y2="276.9"/>
<line x1="732.4" y1="277.0" x2="736.2" y2="276.8"/>
<line x1="741.3" y1="277.0" x2="745.5" y2="276.7"/>
<line x1="206.1" y1="279.9" x2="209.9" y2="279.7"/>
<line x1="223.2" y1="279.9" x2="227.9" y2="279.6"/>
<line x1="230.9" y1="279.9" x2="233.5" y2="279.7"/>
<line x1="256.4" y1="279.9" x2="260.4" y2="279.6"/>
<line x1="281.2" y1="279.9" x2="285.3" y2="279.6"/>
<line x1="290.9" y1="279.9" x2="294.3" y2="279.7"/>
<line x1="303.5" y1="279.9" x2="305.8" y2="279.7"/>
<line x1="328.2" y1="279.9" x2="331.9" y2="279.7"/>
<line x1="345.7" y1="279.9" x2="348.5" y2="279.7"/>
<line x1="353.7" y1="279.9" x2="357.8" y2="279.6"/>
<line x1="373.3" y1="279.9" x2="377.1" y2="279.6"/>
<line x1="388.4" y1="279.9" x2="392.0" y2="279.7"/>
<line x1="394.6" y1="279.9" x2="398.9" y2="279.6"/>
<line x1="409.6" y1="279.9" x2="411.0" y2="279.8"/>
<line x1="421.5" y1="279.9" x2="426.3" y2="279.6"/>
<line x1="428.4" y1="279.9" x2="432.7" y2="279.6"/>
<line x1="435.0" y1="279.9" x2="438.1" y2="279.7"/>
<line x1="440.4" y1="279.9" x2="445.1" y2="279.6"/>
<line x1="454.8" y1="279.9" x2="459.4" y2="279.6"/>
<line x1="473.3" y1="279.9" x2="477.8" y2="279.6"/>
<line x1="489.0" y1="279.9" x2="493.0" y2="279.6"/>
<line x1="512.4" y1="279.9" x2="515.1" y2="279.7"/>
<line x1="517.2" y1="279.9" x2="520.2" y2="279.7"/>
<line x1="522.9" y1="279.9" x2="525.5" y2="279.7"/>
<line x1="530.4" y1="279.9" x2="533.9" y2="279.7"/>
<line x1="547.9" y1="279.9" x2="549.6" y2="279.8"/>
<line x1="555.5" y1="279.9" x2="558.1" y2="279.7"/>
<line x1="561.0" y1="279.9" x2="562.3" y2="279.8"/>
<line x1="595.0" y1="279.9" x2="598.5" y2="279.7"/>
<line x1="608.3" y1="279.9" x2="609.5" y2="279.8"/>
<line x1="611.9" y1="279.9" x2="615.1" y2="279.7"/>
<line x1="639.4" y1="279.9" x2="640.6" y2="279.8"/>
<line x1="644.1" y1="279.9" x2="648.9" y2="279.6"/>
<line x1="653.0" y1="279.9" x2="654.2" y2="279.8"/>
<line x1="664.8" y1="279.9" x2="666.8" y2="279.8"/>
<line x1="676.3" y1="279.9" x2="680.8" y2="279.6"/>
<line x1="683.8" y1="279.9" x2="688.7" y2="279.6"/>
<line x1="705.0" y1="279.9" x2="706.8" y2="279.8"/>
<line x1="727.8" y1="279.9" x2="731.8" y2="279.6"/>
<line x1="734.9" y1="279.9" x2="739.5" y2="279.6"/>
<line x1="741.7" y1="279.9" x2="743.5" y2="279.8"/>
<line x1="203.6" y1="282.8" x2="206.7" y2="282.6"/>
<line x1="210.7" y1="282.8" x2="213.5" y2="282.6"/>
<line x1="215.1" y1="282.8" x2="216.5" y2="282.7"/>
<line x1="219.1" y1="282.8" x2="223.1" y2="282.5"/>
<line x1="228.3" y1="282.8" x2="230.5" y2="282.6"/>
<line x1="234.1" y1="282.8" x2="236.8" y2="282.6"/>
<line x1="249.0" y1="282.8" x2="251.9" y2="282.6"/>
<line x1="257.6" y1="282.8" x2="261.1" y2="282.5"/>
<line x1="262.9" y1="282.8" x2="264.4" y2="282.7"/>
<line x1="266.3" y1="282.8" x2="270.0" y2="282.5"/>
<line x1="278.6" y1="282.8" x2="280.4" y2="282.7"/>
<line x1="291.5" y1="282.8" x2="293.3" y2="282.6"/>
<line x1="302.0" y1="282.8" x2="305.5" y2="282.5"/>
<line x1="309.3" y1="282.8" x2="311.8" y2="282.6"/>
<line x1="316.6" y1="282.8" x2="320.6" y2="282.5"/>
<line x1="322.8" y1="282.8" x2="326.6" y2="282.5"/>
<line x1="334.1" y1="282.8" x2="336.1" y2="282.6"/>
<line x1="346.0" y1="282.8" x2="348.5" y2="282.6"/>
<line x1="353.0" y1="282.8" x2="355.1" y2="282.6"/>
<line x1="359.7" y1="282.8" x2="362.5" y2="282.6"/>
<line x1="373.2" y1="282.8" x2="374.8" y2="282.7"/>
<line x1="384.2" y1="282.8" x2="388.5" y2="282.5"/>
<line x1="394.2" y1="282.8" x2="398.4" y2="282.5"/>
<line x1="400.6" y1="282.8" x2="403.6" y2="282.6"/>
<line x1="408.2" y1="282.8" x2="412.1" y2="282.5"/>
<line x1="424.4" y1="282.8" x2="426.1" y2="282.7"/>
<line x1="434.3" y1="282.8" x2="438.1" y2="282.5"/>
<line x1="448.6" y1="282.8" x2="449.8" y2="282.7"/>
<line x1="471.9" y1="282.8" x2="473.3" y2="282.7"/>
<line x1="478.7" y1="282.8" x2="483.7" y2="282.5"/>
<line x1="508.3" y1="282.8" x2="511.6" y2="282.6"/>
<line x1="515.5" y1="282.8" x2="518.5" y2="282.6"/>
<line x1="521.7" y1="282.8" x2="524.8" y2="282.6"/>
<line x1="527.3" y1="282.8" x2="529.6" y2="282.6"/>
<line x1="538.5" y1="282.8" x2="541.7" y2="282.6"/>
<line x1="560.3" y1="282.8" x2="562.9" y2="282.6"/>
<line x1="573.8" y1="282.8" x2="577.8" y2="282.5"/>
<line x1="581.3" y1="282.8" x2="583.9" y2="282.6"/>
<line x1="608.4" y1="282.8" x2="610.6" y2="282.6"/>
<line x1="627.8" y1="282.8" x2="629.9" y2="282.6"/>
<line x1="639.8" y1="282.8" x2="642.4" y2="282.6"/>
<line x1="655.3" y1="282.8" x2="659.8" y2="282.5"/>
<line x1="667.9" y1="282.8" x2="669.7" y2="282.7"/>
<line x1="675.4" y1="282.8" x2="679.8" y2="282.5"/>
<line x1="685.1" y1="282.8" x2="689.7" y2="282.5"/>
<line x1="692.1" y1="282.8" x2="696.2" y2="282.5"/>
<line x1="698.3" y1="282.8" x2="702.9" y2="282.5"/>
<line x1="706.2" y1="282.8" x2="709.7" y2="282.6"/>
<line x1="711.2" y1="282.8" x2="713.9" y2="282.6"/>
<line x1="732.7" y1="282.8" x2="735.1" y2="282.6"/>
<line x1="740.4" y1="282.8" x2="745.1" y2="282.5"/>
<line x1="205.2" y1="285.3" x2="206.6" y2="285.2"/>
<line x1="211.0" y1="285.3" x2="214.4" y2="285.1"/>
<line x1="216.5" y1="285.3" x2="218.5" y2="285.2"/>
<line x1="226.5" y1="285.3" x2="231.4" y2="285.0"/>
<line x1="236.8" y1="285.3" x2="238.9" y2="285.2"/>
<line x1="254.5" y1="285.3" x2="259.4" y2="285.0"/>
<line x1="269.7" y1="285.3" x2="274.1" y2="285.0"/>
<line x1="277.3" y1="285.3" x2="281.6" y2="285.0"/>
<line x1="284.3" y1="285.3" x2="288.3" y2="285.0"/>
<line x1="294.3" y1="285.3" x2="295.8" y2="285.2"/>
<line x1="298.3" y1="285.3" x2="299.5" y2="285.2"/>
<line x1="301.4" y1="285.3" x2="304.0" y2="285.1"/>
<line x1="313.9" y1="285.3" x2="318.8" y2="285.0"/>
<line x1="322.6" y1="285.3" x2="325.7" y2="285.1"/>
<line x1="336.2" y1="285.3" x2="338.7" y2="285.1"/>
<line x1="342.7" y1="285.3" x2="345.0" y2="285.1"/>
<line x1="350.8" y1="285.3" x2="353.4" y2="285.1"/>
<line x1="357.8" y1="285.3" x2="361.1" y2="285.1"/>
<line x1="364.0" y1="285.3" x2="368.5" y2="285.0"/>
<line x1="371.8" y1="285.3" x2="376.7" y2="285.0"/>
<line x1="386.3" y1="285.3" x2="389.2" y2="285.1"/>
<line x1="391.7" y1="285.3" x2="395.9" y2="285.0"/>
<line x1="412.0" y1="285.3" x2="415.8" y2="285.1"/>
<line x1="419.4" y1="285.3" x2="421.4" y2="285.2"/>
<line x1="425.8" y1="285.3" x2="429.6" y2="285.0"/>
<line x1="434.0" y1="285.3" x2="435.7" y2="285.2"/>
<line x1="438.0" y1="285.3" x2="441.1" y2="285.1"/>
<line x1="445.1" y1="285.3" x2="446.8" y2="285.2"/>
<line x1="451.1" y1="285.3" x2="452.8" y2="285.2"/>
<line x1="457.4" y1="285.3" x2="460.6" y2="285.1"/>
<line x1="465.7" y1="285.3" x2="469.0" y2="285.1"/>
<line x1="472.5" y1="285.3" x2="476.9" y2="285.0"/>
<line x1="481.8" y1="285.3" x2="484.3" y2="285.1"/>
<line x1="496.5" y1="285.3" x2="500.0" y2="285.1"/>
<line x1="513.3" y1="285.3" x2="517.8" y2="285.0"/>
<line x1="523.0" y1="285.3" x2="526.2" y2="285.1"/>
<line x1="544.8" y1="285.3" x2="549.4" y2="285.0"/>
<line x1="551.0" y1="285.3" x2="553.5" y2="285.1"/>
<line x1="555.3" y1="285.3" x2="558.9" y2="285.1"/>
<line x1="561.1" y1="285.3" x2="563.4" y2="285.1"/>
<line x1="594.8" y1="285.3" x2="596.9" y2="285.2"/>
<line x1="602.5" y1="285.3" x2="605.8" y2="285.1"/>
<line x1="616.5" y1="285.3" x2="620.7" y2="285.0"/>
<line x1="623.1" y1="285.3" x2="627.9" y2="285.0"/>
<line x1="632.8" y1="285.3" x2="637.2" y2="285.0"/>
<line x1="641.8" y1="285.3" x2="644.5" y2="285.1"/>
<line x1="647.0" y1="285.3" x2="651.8" y2="285.0"/>
<line x1="655.6" y1="285.3" x2="658.7" y2="285.1"/>
<line x1="670.7" y1="285.3" x2="672.7" y2="285.2"/>
<line x1="677.5" y1="285.3" x2="681.2" y2="285.1"/>
<line x1="696.0" y1="285.3" x2="699.9" y2="285.0"/>
<line x1="705.1" y1="285.3" x2="706.7" y2="285.2"/>
<line x1="711.0" y1="285.3" x2="714.0" y2="285.1"/>
<line x1="718.2" y1="285.3" x2="720.2" y2="285.2"/>
<line x1="721.7" y1="285.3" x2="725.9" y2="285.0"/>
<line x1="731.2" y1="285.3" x2="734.5" y2="285.1"/>
<line x1="223.2" y1="288.3" x2="224.8" y2="288.2"/>
<line x1="228.6" y1="288.3" x2="230.4" y2="288.2"/>
<line x1="235.8" y1="288.3" x2="238.4" y2="288.1"/>
<line x1="240.8" y1="288.3" x2="244.1" y2="288.1"/>
<line x1="247.8" y1="288.3" x2="251.0" y2="288.1"/>
<line x1="254.8" y1="288.3" x2="259.2" y2="288.0"/>
<line x1="264.9" y1="288.3" x2="266.8" y2="288.1"/>
<line x1="271.8" y1="288.3" x2="275.1" y2="288.1"/>
<line x1="277.6" y1="288.3" x2="281.8" y2="288.0"/>
<line x1="286.6" y1="288.3" x2="288.6" y2="288.1"/>
<line x1="293.0" y1="288.3" x2="295.7" y2="288.1"/>
<line x1="314.6" y1="288.3" x2="316.8" y2="288.1"/>
<line x1="319.4" y1="288.3" x2="321.0" y2="288.2"/>
<line x1="323.6" y1="288.3" x2="325.9" y2="288.1"/>
<line x1="335.3" y1="288.3" x2="337.4" y2="288.1"/>
<line x1="347.0" y1="288.3" x2="351.9" y2="288.0"/>
<line x1="353.6" y1="288.3" x2="357.7" y2="288.0"/>
<line x1="363.4" y1="288.3" x2="366.1" y2="288.1"/>
<line x1="367.9" y1="288.3" x2="372.7" y2="288.0"/>
<line x1="384.3" y1="288.3" x2="387.3" y2="288.1"/>
<line x1="390.6" y1="288.3" x2="395.2" y2="288.0"/>
<line x1="399.7" y1="288.3" x2="403.0" y2="288.1"/>
<line x1="407.1" y1="288.3" x2="409.2" y2="288.1"/>
<line x1="414.6" y1="288.3" x2="416.1" y2="288.2"/>
<line x1="421.6" y1="288.3" x2="426.5" y2="288.0"/>
<line x1="438.0" y1="288.3" x2="439.7" y2="288.2"/>
<line x1="444.4" y1="288.3" x2="448.4" y2="288.0"/>
<line x1="458.1" y1="288.3" x2="461.0" y2="288.1"/>
<line x1="465.2" y1="288.3" x2="467.6" y2="288.1"/>
<line x1="482.6" y1="288.3" x2="486.6" y2="288.0"/>
<line x1="496.8" y1="288.3" x2="498.6" y2="288.1"/>
<line x1="502.4" y1="288.3" x2="505.2" y2="288.1"/>
<line x1="514.6" y1="288.3" x2="517.4" y2="288.1"/>
<line x1="536.4" y1="288.3" x2="538.0" y2="288.2"/>
<line x1="541.6" y1="288.3" x2="546.1" y2="288.0"/>
<line x1="549.6" y1="288.3" x2="553.7" y2="288.0"/>
<line x1="555.8" y1="288.3" x2="559.0" y2="288.1"/>
<line x1="564.7" y1="288.3" x2="569.4" y2="288.0"/>
<line x1="573.4" y1="288.3" x2="576.2" y2="288.1"/>
<line x1="579.7" y1="288.3" x2="584.3" y2="288.0"/>
<line x1="588.5" y1="288.3" x2="592.4" y2="288.0"/>
<line x1="598.0" y1="288.3" x2="599.6" y2="288.2"/>
<line x1="604.4" y1="288.3" x2="605.6" y2="288.2"/>
<line x1="607.7" y1="288.3" x2="610.7" y2="288.1"/>
<line x1="612.9" y1="288.3" x2="614.9" y2="288.1"/>
<line x1="616.8" y1="288.3" x2="618.8" y2="288.1"/>
<line x1="620.9" y1="288.3" x2="625.2" y2="288.0"/>
<line x1="631.7" y1="288.3" x2="635.7" y2="288.0"/>
<line x1="641.5" y1="288.3" x2="644.2" y2="288.1"/>
<line x1="649.6" y1="288.3" x2="651.2" y2="288.2"/>
<line x1="662.0" y1="288.3" x2="665.1" y2="288.1"/>
<line x1="668.5" y1="288.3" x2="670.8" y2="288.1"/>
<line x1="677.8" y1="288.3" x2="682.0" y2="288.0"/>
<line x1="684.5" y1="288.3" x2="686.2" y2="288.2"/>
<line x1="690.0" y1="288.3" x2="693.9" y2="288.0"/>
<line x1="697.2" y1="288.3" x2="701.8" y2="288.0"/>
<line x1="730.9" y1="288.3" x2="735.2" y2="288.0"/>
<line x1="737.0" y1="288.3" x2="741.5" y2="288.0"/>
<line x1="208.8" y1="290.8" x2="212.5" y2="290.6"/>
<line x1="226.7" y1="290.8" x2="229.5" y2="290.7"/>
<line x1="241.5" y1="290.8" x2="244.9" y2="290.6"/>
<line x1="257.0" y1="290.8" x2="262.0" y2="290.5"/>
<line x1="290.2" y1="290.8" x2="292.6" y2="290.7"/>
<line x1="306.6" y1="290.8" x2="308.4" y2="290.7"/>
<line x1="312.5" y1="290.8" x2="314.5" y2="290.7"/>
<line x1="320.7" y1="290.8" x2="325.2" y2="290.6"/>
<line x1="330.5" y1="290.8" x2="332.8" y2="290.7"/>
<line x1="336.1" y1="290.8" x2="337.4" y2="290.8"/>
<line x1="348.7" y1="290.8" x2="350.9" y2="290.7"/>
<line x1="352.8" y1="290.8" x2="356.7" y2="290.6"/>
<line x1="360.5" y1="290.8" x2="362.6" y2="290.7"/>
<line x1="393.9" y1="290.8" x2="397.1" y2="290.6"/>
<line x1="429.2" y1="290.8" x2="430.8" y2="290.7"/>
<line x1="458.8" y1="290.8" x2="460.4" y2="290.7"/>
<line x1="473.2" y1="290.8" x2="474.9" y2="290.7"/>
<line x1="498.5" y1="290.8" x2="499.9" y2="290.8"/>
<line x1="501.5" y1="290.8" x2="504.6" y2="290.7"/>
<line x1="518.1" y1="290.8" x2="521.6" y2="290.6"/>
<line x1="524.4" y1="290.8" x2="527.5" y2="290.7"/>
<line x1="531.9" y1="290.8" x2="535.0" y2="290.7"/>
<line x1="539.3" y1="290.8" x2="544.2" y2="290.5"/>
<line x1="547.3" y1="290.8" x2="548.5" y2="290.8"/>
<line x1="566.7" y1="290.8" x2="570.1" y2="290.6"/>
<line x1="577.3" y1="290.8" x2="580.6" y2="290.6"/>
<line x1="584.3" y1="290.8" x2="587.0" y2="290.7"/>
<line x1="591.8" y1="290.8" x2="596.1" y2="290.6"/>
<line x1="607.5" y1="290.8" x2="611.6" y2="290.6"/>
<line x1="617.0" y1="290.8" x2="620.8" y2="290.6"/>
<line x1="633.4" y1="290.8" x2="636.8" y2="290.6"/>
<line x1="639.6" y1="290.8" x2="643.7" y2="290.6"/>
<line x1="654.0" y1="290.8" x2="658.7" y2="290.6"/>
<line x1="664.6" y1="290.8" x2="665.9" y2="290.8"/>
<line x1="694.7" y1="290.8" x2="698.9" y2="290.6"/>
<line x1="703.3" y1="290.8" x2="707.6" y2="290.6"/>
<line x1="716.7" y1="290.8" x2="720.2" y2="290.6"/>
<line x1="735.0" y1="290.8" x2="737.1" y2="290.7"/>
<line x1="209.7" y1="293.3" x2="214.5" y2="293.1"/>
<line x1="222.5" y1="293.3" x2="226.9" y2="293.1"/>
<line x1="230.9" y1="293.3" x2="235.6" y2="293.1"/>
<line x1="238.6" y1="293.3" x2="240.4" y2="293.2"/>
<line x1="243.2" y1="293.3" x2="247.1" y2="293.1"/>
<line x1="249.2" y1="293.3" x2="253.4" y2="293.1"/>
<line x1="307.2" y1="293.3" x2="311.6" y2="293.1"/>
<line x1="314.4" y1="293.3" x2="316.5" y2="293.2"/>
<line x1="338.6" y1="293.3" x2="340.2" y2="293.2"/>
<line x1="350.4" y1="293.3" x2="352.0" y2="293.2"/>
<line x1="357.4" y1="293.3" x2="359.3" y2="293.2"/>
<line x1="375.1" y1="293.3" x2="377.9" y2="293.2"/>
<line x1="379.5" y1="293.3" x2="382.0" y2="293.2"/>
<line x1="394.9" y1="293.3" x2="398.7" y2="293.1"/>
<line x1="402.0" y1="293.3" x2="404.3" y2="293.2"/>
<line x1="409.1" y1="293.3" x2="411.1" y2="293.2"/>
<line x1="430.4" y1="293.3" x2="433.3" y2="293.2"/>
<line x1="438.7" y1="293.3" x2="440.9" y2="293.2"/>
<line x1="462.8" y1="293.3" x2="465.5" y2="293.2"/>
<line x1="478.3" y1="293.3" x2="480.7" y2="293.2"/>
<line x1="483.5" y1="293.3" x2="486.4" y2="293.2"/>
<line x1="500.3" y1="293.3" x2="505.1" y2="293.0"/>
<line x1="517.8" y1="293.3" x2="522.7" y2="293.0"/>
<line x1="528.0" y1="293.3" x2="532.4" y2="293.1"/>
<line x1="543.2" y1="293.3" x2="546.0" y2="293.2"/>
<line x1="551.1" y1="293.3" x2="555.0" y2="293.1"/>
<line x1="561.0" y1="293.3" x2="563.0" y2="293.2"/>
<line x1="575.5" y1="293.3" x2="579.1" y2="293.1"/>
<line x1="581.1" y1="293.3" x2="582.6" y2="293.3"/>
<line x1="592.9" y1="293.3" x2="595.5" y2="293.2"/>
<line x1="597.7" y1="293.3" x2="602.5" y2="293.1"/>
<line x1="606.5" y1="293.3" x2="609.3" y2="293.2"/>
<line x1="612.2" y1="293.3" x2="615.3" y2="293.2"/>
<line x1="621.2" y1="293.3" x2="624.5" y2="293.1"/>
<line x1="626.3" y1="293.3" x2="628.1" y2="293.2"/>
<line x1="633.1" y1="293.3" x2="637.7" y2="293.1"/>
<line x1="642.7" y1="293.3" x2="645.6" y2="293.2"/>
<line x1="649.4" y1="293.3" x2="650.8" y2="293.3"/>
<line x1="655.3" y1="293.3" x2="659.1" y2="293.1"/>
<line x1="664.8" y1="293.3" x2="669.1" y2="293.1"/>
<line x1="676.7" y1="293.3" x2="678.1" y2="293.3"/>
<line x1="686.5" y1="293.3" x2="689.4" y2="293.2"/>
<line x1="697.1" y1="293.3" x2="701.1" y2="293.1"/>
<line x1="712.9" y1="293.3" x2="716.3" y2="293.1"/>
<line x1="722.1" y1="293.3" x2="725.9" y2="293.1"/>
<line x1="730.3" y1="293.3" x2="731.8" y2="293.2"/>
<line x1="734.4" y1="293.3" x2="738.8" y2="293.1"/>
<line x1="209.8" y1="296.3" x2="213.8" y2="296.1"/>
<line x1="216.3" y1="296.3" x2="220.2" y2="296.1"/>
<line x1="239.0" y1="296.3" x2="244.0" y2="296.0"/>
<line x1="249.4" y1="296.3" x2="250.8" y2="296.2"/>
<line x1="254.0" y1="296.3" x2="258.1" y2="296.1"/>
<line x1="260.6" y1="296.3" x2="264.7" y2="296.1"/>
<line x1="269.6" y1="296.3" x2="272.7" y2="296.1"/>
<line x1="277.7" y1="296.3" x2="279.7" y2="296.2"/>
<line x1="288.3" y1="296.3" x2="291.9" y2="296.1"/>
<line x1="296.7" y1="296.3" x2="300.5" y2="296.1"/>
<line x1="310.3" y1="296.3" x2="312.6" y2="296.2"/>
<line x1="325.1" y1="296.3" x2="329.1" y2="296.1"/>
<line x1="331.1" y1="296.3" x2="333.2" y2="296.2"/>
<line x1="359.3" y1="296.3" x2="360.6" y2="296.3"/>
<line x1="363.5" y1="296.3" x2="365.5" y2="296.2"/>
<line x1="379.2" y1="296.3" x2="381.2" y2="296.2"/>
<line x1="384.3" y1="296.3" x2="386.0" y2="296.2"/>
<line x1="388.6" y1="296.3" x2="392.0" y2="296.1"/>
<line x1="410.4" y1="296.3" x2="413.7" y2="296.1"/>
<line x1="445.4" y1="296.3" x2="449.0" y2="296.1"/>
<line x1="458.5" y1="296.3" x2="460.7" y2="296.2"/>
<line x1="462.9" y1="296.3" x2="466.1" y2="296.1"/>
<line x1="478.1" y1="296.3" x2="479.8" y2="296.2"/>
<line x1="518.4" y1="296.3" x2="521.9" y2="296.1"/>
<line x1="539.8" y1="296.3" x2="543.8" y2="296.1"/>
<line x1="555.8" y1="296.3" x2="560.1" y2="296.1"/>
<line x1="564.1" y1="296.3" x2="565.4" y2="296.2"/>
<line x1="592.1" y1="296.3" x2="595.6" y2="296.1"/>
<line x1="601.3" y1="296.3" x2="604.1" y2="296.2"/>
<line x1="609.3" y1="296.3" x2="611.5" y2="296.2"/>
<line x1="617.2" y1="296.3" x2="619.4" y2="296.2"/>
<line x1="635.2" y1="296.3" x2="638.6" y2="296.1"/>
<line x1="642.0" y1="296.3" x2="646.8" y2="296.0"/>
<line x1="668.2" y1="296.3" x2="671.3" y2="296.1"/>
<line x1="675.1" y1="296.3" x2="679.4" y2="296.1"/>
<line x1="684.8" y1="296.3" x2="687.6" y2="296.2"/>
<line x1="697.2" y1="296.3" x2="701.8" y2="296.1"/>
<line x1="705.6" y1="296.3" x2="710.5" y2="296.0"/>
<line x1="712.1" y1="296.3" x2="714.6" y2="296.2"/>
<line x1="716.6" y1="296.3" x2="719.4" y2="296.2"/>
<line x1="739.6" y1="296.3" x2="743.5" y2="296.1"/>
<line x1="209.8" y1="298.9" x2="211.6" y2="298.8"/>
<line x1="223.1" y1="298.9" x2="225.1" y2="298.8"/>
<line x1="238.9" y1="298.9" x2="242.0" y2="298.7"/>
<line x1="262.7" y1="298.9" x2="264.3" y2="298.8"/>
<line x1="267.7" y1="298.9" x2="270.6" y2="298.7"/>
<line x1="273.7" y1="298.9" x2="276.4" y2="298.7"/>
<line x1="279.6" y1="298.9" x2="284.5" y2="298.6"/>
<line x1="286.0" y1="298.9" x2="290.0" y2="298.6"/>
<line x1="293.5" y1="298.9" x2="297.0" y2="298.7"/>
<line x1="306.5" y1="298.9" x2="308.8" y2="298.7"/>
<line x1="318.4" y1="298.9" x2="320.6" y2="298.8"/>
<line x1="325.2" y1="298.9" x2="329.4" y2="298.6"/>
<line x1="340.1" y1="298.9" x2="344.6" y2="298.6"/>
<line x1="357.3" y1="298.9" x2="359.0" y2="298.8"/>
<line x1="378.5" y1="298.9" x2="382.0" y2="298.7"/>
<line x1="386.2" y1="298.9" x2="389.0" y2="298.7"/>
<line x1="394.7" y1="298.9" x2="398.6" y2="298.6"/>
<line x1="401.2" y1="298.9" x2="403.7" y2="298.7"/>
<line x1="411.8" y1="298.9" x2="415.7" y2="298.6"/>
<line x1="421.5" y1="298.9" x2="426.3" y2="298.6"/>
<line x1="430.5" y1="298.9" x2="432.2" y2="298.8"/>
<line x1="436.5" y1="298.9" x2="440.1" y2="298.7"/>
<line x1="441.7" y1="298.9" x2="443.4" y2="298.8"/>
<line x1="445.7" y1="298.9" x2="448.1" y2="298.7"/>
<line x1="453.6" y1="298.9" x2="456.8" y2="298.7"/>
<line x1="465.3" y1="298.9" x2="467.5" y2="298.7"/>
<line x1="473.1" y1="298.9" x2="475.0" y2="298.8"/>
<line x1="477.1" y1="298.9" x2="479.1" y2="298.8"/>
<line x1="482.3" y1="298.9" x2="486.4" y2="298.6"/>
<line x1="503.8" y1="298.9" x2="508.7" y2="298.6"/>
<line x1="513.3" y1="298.9" x2="515.9" y2="298.7"/>
<line x1="518.0" y1="298.9" x2="522.6" y2="298.6"/>
<line x1="527.2" y1="298.9" x2="530.2" y2="298.7"/>
<line x1="532.6" y1="298.9" x2="534.5" y2="298.8"/>
<line x1="539.1" y1="298.9" x2="542.3" y2="298.7"/>
<line x1="547.0" y1="298.9" x2="549.9" y2="298.7"/>
<line x1="558.5" y1="298.9" x2="561.0" y2="298.7"/>
<line x1="563.8" y1="298.9" x2="566.0" y2="298.7"/>
<line x1="580.8" y1="298.9" x2="584.5" y2="298.7"/>
<line x1="586.2" y1="298.9" x2="588.0" y2="298.8"/>
<line x1="591.9" y1="298.9" x2="596.2" y2="298.6"/>
<line x1="606.6" y1="298.9" x2="609.1" y2="298.7"/>
<line x1="619.2" y1="298.9" x2="622.9" y2="298.7"/>
<line x1="628.4" y1="298.9" x2="630.7" y2="298.7"/>
<line x1="641.8" y1="298.9" x2="645.6" y2="298.7"/>
<line x1="651.5" y1="298.9" x2="655.1" y2="298.7"/>
<line x1="669.2" y1="298.9" x2="672.3" y2="298.7"/>
<line x1="677.7" y1="298.9" x2="679.4" y2="298.8"/>
<line x1="681.9" y1="298.9" x2="685.1" y2="298.7"/>
<line x1="699.6" y1="298.9" x2="702.0" y2="298.7"/>
<line x1="706.2" y1="298.9" x2="710.4" y2="298.6"/>
<line x1="731.5" y1="298.9" x2="733.2" y2="298.8"/>
<line x1="736.5" y1="298.9" x2="738.2" y2="298.8"/>
<line x1="206.0" y1="301.4" x2="210.3" y2="301.1"/>
<line x1="223.7" y1="301.4" x2="227.8" y2="301.1"/>
<line x1="232.8" y1="301.4" x2="236.2" y2="301.2"/>
<line x1="243.3" y1="301.4" x2="246.1" y2="301.2"/>
<line x1="257.0" y1="301.4" x2="261.6" y2="301.1"/>
<line x1="271.0" y1="301.4" x2="273.5" y2="301.2"/>
<line x1="284.7" y1="301.4" x2="287.1" y2="301.2"/>
<line x1="292.0" y1="301.4" x2="296.5" y2="301.1"/>
<line x1="308.8" y1="301.4" x2="312.1" y2="301.2"/>
<line x1="322.3" y1="301.4" x2="323.8" y2="301.3"/>
<line x1="334.9" y1="301.4" x2="338.2" y2="301.2"/>
<line x1="341.5" y1="301.4" x2="344.9" y2="301.2"/>
<line x1="350.5" y1="301.4" x2="352.1" y2="301.3"/>
<line x1="364.9" y1="301.4" x2="369.6" y2="301.1"/>
<line x1="388.9" y1="301.4" x2="391.6" y2="301.2"/>
<line x1="409.8" y1="301.4" x2="414.1" y2="301.1"/>
<line x1="419.5" y1="301.4" x2="423.3" y2="301.1"/>
<line x1="427.4" y1="301.4" x2="431.6" y2="301.1"/>
<line x1="463.4" y1="301.4" x2="464.7" y2="301.3"/>
<line x1="466.6" y1="301.4" x2="469.9" y2="301.2"/>
<line x1="472.6" y1="301.4" x2="475.5" y2="301.2"/>
<line x1="481.1" y1="301.4" x2="485.5" y2="301.1"/>
<line x1="489.0" y1="301.4" x2="491.4" y2="301.2"/>
<line x1="504.1" y1="301.4" x2="508.4" y2="301.1"/>
<line x1="510.5" y1="301.4" x2="513.0" y2="301.2"/>
<line x1="527.2" y1="301.4" x2="529.2" y2="301.2"/>
<line x1="530.8" y1="301.4" x2="533.1" y2="301.2"/>
<line x1="543.3" y1="301.4" x2="546.8" y2="301.2"/>
<line x1="559.0" y1="301.4" x2="562.0" y2="301.2"/>
<line x1="563.7" y1="301.4" x2="566.6" y2="301.2"/>
<line x1="578.8" y1="301.4" x2="583.1" y2="301.1"/>
<line x1="593.5" y1="301.4" x2="595.1" y2="301.3"/>
<line x1="598.2" y1="301.4" x2="600.8" y2="301.2"/>
<line x1="602.8" y1="301.4" x2="607.2" y2="301.1"/>
<line x1="612.8" y1="301.4" x2="615.2" y2="301.2"/>
<line x1="617.5" y1="301.4" x2="622.4" y2="301.1"/>
<line x1="627.6" y1="301.4" x2="629.0" y2="301.3"/>
<line x1="647.3" y1="301.4" x2="652.1" y2="301.1"/>
<line x1="653.7" y1="301.4" x2="658.5" y2="301.1"/>
<line x1="662.5" y1="301.4" x2="665.1" y2="301.2"/>
<line x1="678.3" y1="301.4" x2="682.6" y2="301.1"/>
<line x1="686.0" y1="301.4" x2="690.7" y2="301.1"/>
<line x1="693.9" y1="301.4" x2="697.3" y2="301.2"/>
<line x1="702.0" y1="301.4" x2="705.7" y2="301.1"/>
<line x1="715.9" y1="301.4" x2="717.6" y2="301.3"/>
<line x1="723.6" y1="301.4" x2="727.8" y2="301.1"/>
<line x1="741.7" y1="301.4" x2="743.9" y2="301.2"/>
<line x1="208.7" y1="304.1" x2="213.1" y2="303.9"/>
<line x1="217.1" y1="304.1" x2="221.5" y2="303.9"/>
<line x1="226.9" y1="304.1" x2="228.2" y2="304.1"/>
<line x1="237.5" y1="304.1" x2="239.4" y2="304.0"/>
<line x1="243.6" y1="304.1" x2="246.4" y2="304.0"/>
<line x1="248.3" y1="304.1" x2="252.2" y2="303.9"/>
<line x1="264.6" y1="304.1" x2="266.5" y2="304.0"/>
<line x1="271.4" y1="304.1" x2="274.9" y2="303.9"/>
<line x1="276.4" y1="304.1" x2="279.3" y2="304.0"/>
<line x1="283.4" y1="304.1" x2="288.4" y2="303.8"/>
<line x1="290.2" y1="304.1" x2="294.0" y2="303.9"/>
<line x1="302.4" y1="304.1" x2="304.8" y2="304.0"/>
<line x1="312.7" y1="304.1" x2="316.9" y2="303.9"/>
<line x1="318.9" y1="304.1" x2="322.4" y2="303.9"/>
<line x1="334.2" y1="304.1" x2="336.8" y2="304.0"/>
<line x1="341.1" y1="304.1" x2="345.1" y2="303.9"/>
<line x1="348.8" y1="304.1" x2="352.6" y2="303.9"/>
<line x1="356.0" y1="304.1" x2="357.9" y2="304.0"/>
<line x1="370.5" y1="304.1" x2="372.9" y2="304.0"/>
<line x1="377.3" y1="304.1" x2="381.3" y2="303.9"/>
<line x1="385.9" y1="304.1" x2="390.9" y2="303.8"/>
<line x1="404.8" y1="304.1" x2="406.8" y2="304.0"/>
<line x1="412.7" y1="304.1" x2="414.2" y2="304.0"/>
<line x1="427.6" y1="304.1" x2="431.3" y2="303.9"/>
<line x1="433.1" y1="304.1" x2="434.5" y2="304.1"/>
<line x1="441.7" y1="304.1" x2="446.1" y2="303.9"/>
<line x1="452.0" y1="304.1" x2="454.5" y2="304.0"/>
<line x1="462.2" y1="304.1" x2="464.3" y2="304.0"/>
<line x1="469.8" y1="304.1" x2="472.9" y2="303.9"/>
<line x1="481.2" y1="304.1" x2="485.4" y2="303.9"/>
<line x1="489.3" y1="304.1" x2="492.1" y2="304.0"/>
<line x1="507.5" y1="304.1" x2="511.4" y2="303.9"/>
<line x1="521.7" y1="304.1" x2="524.1" y2="304.0"/>
<line x1="529.8" y1="304.1" x2="533.0" y2="303.9"/>
<line x1="536.0" y1="304.1" x2="538.6" y2="304.0"/>
<line x1="550.6" y1="304.1" x2="553.4" y2="304.0"/>
<line x1="567.5" y1="304.1" x2="569.2" y2="304.0"/>
<line x1="583.4" y1="304.1" x2="585.9" y2="304.0"/>
<line x1="614.7" y1="304.1" x2="618.7" y2="303.9"/>
<line x1="625.9" y1="304.1" x2="628.8" y2="304.0"/>
<line x1="641.7" y1="304.1" x2="645.8" y2="303.9"/>
<line x1="665.9" y1="304.1" x2="669.3" y2="303.9"/>
<line x1="673.3" y1="304.1" x2="674.8" y2="304.0"/>
<line x1="677.7" y1="304.1" x2="679.4" y2="304.0"/>
<line x1="684.1" y1="304.1" x2="688.1" y2="303.9"/>
<line x1="698.8" y1="304.1" x2="700.8" y2="304.0"/>
<line x1="704.1" y1="304.1" x2="706.3" y2="304.0"/>
<line x1="717.6" y1="304.1" x2="719.8" y2="304.0"/>
<line x1="721.6" y1="304.1" x2="723.9" y2="304.0"/>
<line x1="727.6" y1="304.1" x2="732.2" y2="303.9"/>
<line x1="211.8" y1="305.7" x2="216.0" y2="305.5"/>
<line x1="222.2" y1="305.7" x2="223.4" y2="305.7"/>
<line x1="225.0" y1="305.7" x2="227.1" y2="305.6"/>
<line x1="229.6" y1="305.7" x2="230.8" y2="305.7"/>
<line x1="233.4" y1="305.7" x2="235.8" y2="305.6"/>
<line x1="238.9" y1="305.7" x2="241.4" y2="305.6"/>
<line x1="246.6" y1="305.7" x2="250.6" y2="305.5"/>
<line x1="265.3" y1="305.7" x2="266.9" y2="305.6"/>
<line x1="271.0" y1="305.7" x2="272.6" y2="305.6"/>
<line x1="284.9" y1="305.7" x2="287.6" y2="305.6"/>
<line x1="302.9" y1="305.7" x2="305.4" y2="305.6"/>
<line x1="318.3" y1="305.7" x2="323.0" y2="305.4"/>
<line x1="327.1" y1="305.7" x2="330.9" y2="305.5"/>
<line x1="338.0" y1="305.7" x2="339.7" y2="305.6"/>
<line x1="344.1" y1="305.7" x2="347.7" y2="305.5"/>
<line x1="353.1" y1="305.7" x2="357.1" y2="305.5"/>
<line x1="361.0" y1="305.7" x2="362.9" y2="305.6"/>
<line x1="365.0" y1="305.7" x2="366.5" y2="305.6"/>
<line x1="372.0" y1="305.7" x2="375.7" y2="305.5"/>
<line x1="378.2" y1="305.7" x2="381.7" y2="305.5"/>
<line x1="383.3" y1="305.7" x2="384.8" y2="305.6"/>
<line x1="393.1" y1="305.7" x2="396.6" y2="305.5"/>
<line x1="399.6" y1="305.7" x2="404.4" y2="305.4"/>
<line x1="417.0" y1="305.7" x2="421.1" y2="305.5"/>
<line x1="435.3" y1="305.7" x2="439.4" y2="305.5"/>
<line x1="443.5" y1="305.7" x2="446.3" y2="305.6"/>
<line x1="480.7" y1="305.7" x2="485.5" y2="305.4"/>
<line x1="488.6" y1="305.7" x2="489.9" y2="305.7"/>
<line x1="493.8" y1="305.7" x2="496.1" y2="305.6"/>
<line x1="499.8" y1="305.7" x2="501.3" y2="305.6"/>
<line x1="504.8" y1="305.7" x2="507.3" y2="305.6"/>
<line x1="511.2" y1="305.7" x2="513.9" y2="305.6"/>
<line x1="521.5" y1="305.7" x2="524.1" y2="305.6"/>
<line x1="533.5" y1="305.7" x2="535.2" y2="305.6"/>
<line x1="538.4" y1="305.7" x2="541.1" y2="305.6"/>
<line x1="546.9" y1="305.7" x2="549.8" y2="305.6"/>
<line x1="555.6" y1="305.7" x2="559.3" y2="305.5"/>
<line x1="564.5" y1="305.7" x2="567.0" y2="305.6"/>
<line x1="572.8" y1="305.7" x2="576.0" y2="305.5"/>
<line x1="577.8" y1="305.7" x2="581.9" y2="305.5"/>
<line x1="596.4" y1="305.7" x2="598.7" y2="305.6"/>
<line x1="604.6" y1="305.7" x2="606.2" y2="305.6"/>
<line x1="611.3" y1="305.7" x2="612.8" y2="305.6"/>
<line x1="623.7" y1="305.7" x2="628.3" y2="305.5"/>
<line x1="640.1" y1="305.7" x2="642.3" y2="305.6"/>
<line x1="646.0" y1="305.7" x2="647.4" y2="305.6"/>
<line x1="658.4" y1="305.7" x2="661.5" y2="305.6"/>
<line x1="670.4" y1="305.7" x2="673.5" y2="305.5"/>
<line x1="678.9" y1="305.7" x2="683.7" y2="305.4"/>
<line x1="685.5" y1="305.7" x2="690.0" y2="305.5"/>
<line x1="692.5" y1="305.7" x2="694.3" y2="305.6"/>
<line x1="698.4" y1="305.7" x2="701.3" y2="305.6"/>
<line x1="703.5" y1="305.7" x2="707.4" y2="305.5"/>
<line x1="720.3" y1="305.7" x2="725.3" y2="305.4"/>
<line x1="728.5" y1="305.7" x2="731.4" y2="305.6"/>
<line x1="736.3" y1="305.7" x2="740.9" y2="305.5"/>
<line x1="210.9" y1="308.9" x2="213.8" y2="308.7"/>
<line x1="226.7" y1="308.9" x2="230.2" y2="308.7"/>
<line x1="240.4" y1="308.9" x2="244.9" y2="308.6"/>
<line x1="246.6" y1="308.9" x2="248.2" y2="308.8"/>
<line x1="251.4" y1="308.9" x2="256.3" y2="308.6"/>
<line x1="261.0" y1="308.9" x2="262.4" y2="308.8"/>
<line x1="266.3" y1="308.9" x2="267.9" y2="308.8"/>
<line x1="278.4" y1="308.9" x2="280.1" y2="308.8"/>
<line x1="304.7" y1="308.9" x2="309.6" y2="308.6"/>
<line x1="311.7" y1="308.9" x2="313.7" y2="308.8"/>
<line x1="339.4" y1="308.9" x2="342.9" y2="308.7"/>
<line x1="354.5" y1="308.9" x2="356.2" y2="308.8"/>
<line x1="360.6" y1="308.9" x2="362.1" y2="308.8"/>
<line x1="364.7" y1="308.9" x2="369.0" y2="308.6"/>
<line x1="372.1" y1="308.9" x2="376.9" y2="308.6"/>
<line x1="386.0" y1="308.9" x2="388.9" y2="308.7"/>
<line x1="394.8" y1="308.9" x2="398.4" y2="308.7"/>
<line x1="402.5" y1="308.9" x2="405.0" y2="308.7"/>
<line x1="409.7" y1="308.9" x2="410.9" y2="308.8"/>
<line x1="420.9" y1="308.9" x2="424.5" y2="308.7"/>
<line x1="427.2" y1="308.9" x2="430.3" y2="308.7"/>
<line x1="432.8" y1="308.9" x2="436.9" y2="308.6"/>
<line x1="447.8" y1="308.9" x2="452.5" y2="308.6"/>
<line x1="454.3" y1="308.9" x2="457.9" y2="308.7"/>
<line x1="463.3" y1="308.9" x2="467.1" y2="308.7"/>
<line x1="470.6" y1="308.9" x2="474.4" y2="308.7"/>
<line x1="485.8" y1="308.9" x2="487.4" y2="308.8"/>
<line x1="495.5" y1="308.9" x2="500.2" y2="308.6"/>
<line x1="505.8" y1="308.9" x2="508.8" y2="308.7"/>
<line x1="518.2" y1="308.9" x2="519.4" y2="308.8"/>
<line x1="521.8" y1="308.9" x2="525.4" y2="308.7"/>
<line x1="541.1" y1="308.9" x2="544.8" y2="308.7"/>
<line x1="553.6" y1="308.9" x2="555.0" y2="308.8"/>
<line x1="560.5" y1="308.9" x2="563.8" y2="308.7"/>
<line x1="577.6" y1="308.9" x2="581.9" y2="308.6"/>
<line x1="585.5" y1="308.9" x2="589.8" y2="308.6"/>
<line x1="597.9" y1="308.9" x2="599.4" y2="308.8"/>
<line x1="610.7" y1="308.9" x2="614.1" y2="308.7"/>
<line x1="617.1" y1="308.9" x2="618.8" y2="308.8"/>
<line x1="629.8" y1="308.9" x2="633.9" y2="308.6"/>
<line x1="650.1" y1="308.9" x2="655.0" y2="308.6"/>
<line x1="660.6" y1="308.9" x2="663.7" y2="308.7"/>
<line x1="668.1" y1="308.9" x2="672.0" y2="308.6"/>
<line x1="680.1" y1="308.9" x2="681.9" y2="308.8"/>
<line x1="686.4" y1="308.9" x2="687.8" y2="308.8"/>
<line x1="698.8" y1="308.9" x2="700.3" y2="308.8"/>
<line x1="705.7" y1="308.9" x2="709.9" y2="308.6"/>
<line x1="714.5" y1="308.9" x2="718.1" y2="308.7"/>
<line x1="722.6" y1="308.9" x2="725.8" y2="308.7"/>
<line x1="730.4" y1="308.9" x2="732.1" y2="308.8"/>
<line x1="737.4" y1="308.9" x2="740.8" y2="308.7"/>
<line x1="205.8" y1="311.3" x2="209.1" y2="311.1"/>
<line x1="219.2" y1="311.3" x2="222.8" y2="311.0"/>
<line x1="241.1" y1="311.3" x2="245.5" y2="311.0"/>
<line x1="250.4" y1="311.3" x2="254.8" y2="311.0"/>
<line x1="258.1" y1="311.3" x2="260.7" y2="311.1"/>
<line x1="266.1" y1="311.3" x2="269.9" y2="311.0"/>
<line x1="273.9" y1="311.3" x2="278.4" y2="311.0"/>
<line x1="281.5" y1="311.3" x2="285.3" y2="311.0"/>
<line x1="289.1" y1="311.3" x2="291.3" y2="311.1"/>
<line x1="303.8" y1="311.3" x2="308.7" y2="311.0"/>
<line x1="312.5" y1="311.3" x2="314.1" y2="311.2"/>
<line x1="324.0" y1="311.3" x2="326.6" y2="311.1"/>
<line x1="344.9" y1="311.3" x2="347.6" y2="311.1"/>
<line x1="360.6" y1="311.3" x2="363.0" y2="311.1"/>
<line x1="383.5" y1="311.3" x2="387.1" y2="311.1"/>
<line x1="391.1" y1="311.3" x2="395.1" y2="311.0"/>
<line x1="427.4" y1="311.3" x2="431.2" y2="311.0"/>
<line x1="445.7" y1="311.3" x2="447.1" y2="311.2"/>
<line x1="449.0" y1="311.3" x2="453.8" y2="311.0"/>
<line x1="457.0" y1="311.3" x2="461.5" y2="311.0"/>
<line x1="465.8" y1="311.3" x2="468.7" y2="311.1"/>
<line x1="474.5" y1="311.3" x2="476.8" y2="311.1"/>
<line x1="480.4" y1="311.3" x2="482.2" y2="311.2"/>
<line x1="485.9" y1="311.3" x2="490.2" y2="311.0"/>
<line x1="491.9" y1="311.3" x2="496.7" y2="311.0"/>
<line x1="505.7" y1="311.3" x2="507.9" y2="311.1"/>
<line x1="512.8" y1="311.3" x2="515.6" y2="311.1"/>
<line x1="519.0" y1="311.3" x2="522.1" y2="311.1"/>
<line x1="527.9" y1="311.3" x2="529.8" y2="311.2"/>
<line x1="538.0" y1="311.3" x2="541.8" y2="311.0"/>
<line x1="547.5" y1="311.3" x2="549.8" y2="311.1"/>
<line x1="552.7" y1="311.3" x2="556.0" y2="311.1"/>
<line x1="566.1" y1="311.3" x2="569.0" y2="311.1"/>
<line x1="573.7" y1="311.3" x2="577.4" y2="311.0"/>
<line x1="579.3" y1="311.3" x2="580.9" y2="311.2"/>
<line x1="588.2" y1="311.3" x2="592.8" y2="311.0"/>
<line x1="595.4" y1="311.3" x2="597.3" y2="311.2"/>
<line x1="601.9" y1="311.3" x2="605.3" y2="311.1"/>
<line x1="610.4" y1="311.3" x2="614.2" y2="311.0"/>
<line x1="618.4" y1="311.3" x2="622.1" y2="311.0"/>
<line x1="629.8" y1="311.3" x2="633.4" y2="311.1"/>
<line x1="638.4" y1="311.3" x2="642.9" y2="311.0"/>
<line x1="646.1" y1="311.3" x2="649.2" y2="311.1"/>
<line x1="681.0" y1="311.3" x2="684.5" y2="311.1"/>
<line x1="688.0" y1="311.3" x2="690.8" y2="311.1"/>
<line x1="694.7" y1="311.3" x2="697.0" y2="311.1"/>
<line x1="708.6" y1="311.3" x2="712.0" y2="311.1"/>
<line x1="723.2" y1="311.3" x2="725.7" y2="311.1"/>
<line x1="735.0" y1="311.3" x2="736.9" y2="311.2"/>
<line x1="209.1" y1="313.0" x2="212.2" y2="312.8"/>
<line x1="215.8" y1="313.0" x2="220.6" y2="312.7"/>
<line x1="224.6" y1="313.0" x2="227.4" y2="312.8"/>
<line x1="229.1" y1="313.0" x2="233.6" y2="312.7"/>
<line x1="236.7" y1="313.0" x2="239.0" y2="312.9"/>
<line x1="244.7" y1="313.0" x2="249.1" y2="312.7"/>
<line x1="253.3" y1="313.0" x2="256.6" y2="312.8"/>
<line x1="258.2" y1="313.0" x2="262.2" y2="312.8"/>
<line x1="266.3" y1="313.0" x2="267.5" y2="312.9"/>
<line x1="269.8" y1="313.0" x2="273.5" y2="312.8"/>
<line x1="279.4" y1="313.0" x2="283.1" y2="312.8"/>
<line x1="284.7" y1="313.0" x2="289.5" y2="312.7"/>
<line x1="299.9" y1="313.0" x2="301.9" y2="312.9"/>
<line x1="303.7" y1="313.0" x2="307.2" y2="312.8"/>
<line x1="324.7" y1="313.0" x2="328.5" y2="312.8"/>
<line x1="350.6" y1="313.0" x2="355.4" y2="312.7"/>
<line x1="369.5" y1="313.0" x2="372.4" y2="312.8"/>
<line x1="377.5" y1="313.0" x2="381.2" y2="312.8"/>
<line x1="386.6" y1="313.0" x2="387.9" y2="312.9"/>
<line x1="395.0" y1="313.0" x2="399.5" y2="312.7"/>
<line x1="409.1" y1="313.0" x2="412.5" y2="312.8"/>
<line x1="418.3" y1="313.0" x2="421.4" y2="312.8"/>
<line x1="438.5" y1="313.0" x2="441.8" y2="312.8"/>
<line x1="443.7" y1="313.0" x2="445.3" y2="312.9"/>
<line x1="450.7" y1="313.0" x2="455.2" y2="312.7"/>
<line x1="460.1" y1="313.0" x2="464.4" y2="312.7"/>
<line x1="469.7" y1="313.0" x2="471.6" y2="312.9"/>
<line x1="475.5" y1="313.0" x2="479.4" y2="312.8"/>
<line x1="482.3" y1="313.0" x2="486.8" y2="312.7"/>
<line x1="490.2" y1="313.0" x2="492.2" y2="312.9"/>
<line x1="512.9" y1="313.0" x2="514.4" y2="312.9"/>
<line x1="516.6" y1="313.0" x2="521.0" y2="312.7"/>
<line x1="522.7" y1="313.0" x2="524.9" y2="312.9"/>
<line x1="533.1" y1="313.0" x2="535.1" y2="312.9"/>
<line x1="542.2" y1="313.0" x2="545.5" y2="312.8"/>
<line x1="558.1" y1="313.0" x2="560.0" y2="312.9"/>
<line x1="564.7" y1="313.0" x2="569.0" y2="312.7"/>
<line x1="572.4" y1="313.0" x2="574.6" y2="312.9"/>
<line x1="588.3" y1="313.0" x2="590.6" y2="312.9"/>
<line x1="593.8" y1="313.0" x2="596.8" y2="312.8"/>
<line x1="617.9" y1="313.0" x2="622.8" y2="312.7"/>
<line x1="624.4" y1="313.0" x2="628.5" y2="312.8"/>
<line x1="633.4" y1="313.0" x2="634.6" y2="312.9"/>
<line x1="637.7" y1="313.0" x2="639.2" y2="312.9"/>
<line x1="642.3" y1="313.0" x2="646.3" y2="312.8"/>
<line x1="652.2" y1="313.0" x2="656.6" y2="312.7"/>
<line x1="662.2" y1="313.0" x2="666.8" y2="312.7"/>
<line x1="670.7" y1="313.0" x2="672.5" y2="312.9"/>
<line x1="675.0" y1="313.0" x2="676.9" y2="312.9"/>
<line x1="679.9" y1="313.0" x2="684.0" y2="312.8"/>
<line x1="694.6" y1="313.0" x2="698.2" y2="312.8"/>
<line x1="709.7" y1="313.0" x2="711.4" y2="312.9"/>
<line x1="721.5" y1="313.0" x2="725.4" y2="312.8"/>
<line x1="733.9" y1="313.0" x2="737.0" y2="312.8"/>
<line x1="741.2" y1="313.0" x2="743.4" y2="312.9"/>
<line x1="212.9" y1="316.0" x2="216.2" y2="315.8"/>
<line x1="221.9" y1="316.0" x2="225.5" y2="315.8"/>
<line x1="280.8" y1="316.0" x2="285.6" y2="315.7"/>
<line x1="290.4" y1="316.0" x2="294.2" y2="315.8"/>
<line x1="297.9" y1="316.0" x2="301.0" y2="315.8"/>
<line x1="312.8" y1="316.0" x2="316.6" y2="315.8"/>
<line x1="320.7" y1="316.0" x2="324.4" y2="315.8"/>
<line x1="327.9" y1="316.0" x2="332.8" y2="315.7"/>
<line x1="336.4" y1="316.0" x2="337.9" y2="315.9"/>
<line x1="349.5" y1="316.0" x2="354.0" y2="315.8"/>
<line x1="359.7" y1="316.0" x2="362.3" y2="315.9"/>
<line x1="373.3" y1="316.0" x2="374.6" y2="316.0"/>
<line x1="376.5" y1="316.0" x2="380.9" y2="315.8"/>
<line x1="386.7" y1="316.0" x2="390.5" y2="315.8"/>
<line x1="395.2" y1="316.0" x2="397.6" y2="315.9"/>
<line x1="407.9" y1="316.0" x2="411.7" y2="315.8"/>
<line x1="420.3" y1="316.0" x2="422.0" y2="315.9"/>
<line x1="425.6" y1="316.0" x2="426.9" y2="316.0"/>
<line x1="454.0" y1="316.0" x2="458.8" y2="315.7"/>
<line x1="470.1" y1="316.0" x2="473.9" y2="315.8"/>
<line x1="479.9" y1="316.0" x2="483.8" y2="315.8"/>
<line x1="489.2" y1="316.0" x2="490.8" y2="315.9"/>
<line x1="501.7" y1="316.0" x2="504.8" y2="315.9"/>
<line x1="509.0" y1="316.0" x2="511.7" y2="315.9"/>
<line x1="521.8" y1="316.0" x2="524.1" y2="315.9"/>
<line x1="548.3" y1="316.0" x2="549.8" y2="315.9"/>
<line x1="553.5" y1="316.0" x2="554.8" y2="316.0"/>
<line x1="558.4" y1="316.0" x2="562.2" y2="315.8"/>
<line x1="564.3" y1="316.0" x2="566.7" y2="315.9"/>
<line x1="582.5" y1="316.0" x2="586.1" y2="315.8"/>
<line x1="591.3" y1="316.0" x2="592.8" y2="315.9"/>
<line x1="605.6" y1="316.0" x2="606.9" y2="315.9"/>
<line x1="617.6" y1="316.0" x2="619.7" y2="315.9"/>
<line x1="631.3" y1="316.0" x2="634.9" y2="315.8"/>
<line x1="640.3" y1="316.0" x2="644.5" y2="315.8"/>
<line x1="655.6" y1="316.0" x2="657.9" y2="315.9"/>
<line x1="660.3" y1="316.0" x2="661.6" y2="316.0"/>
<line x1="667.0" y1="316.0" x2="670.9" y2="315.8"/>
<line x1="674.7" y1="316.0" x2="678.1" y2="315.8"/>
<line x1="698.0" y1="316.0" x2="699.7" y2="315.9"/>
<line x1="702.6" y1="316.0" x2="705.1" y2="315.9"/>
<line x1="741.6" y1="316.0" x2="744.1" y2="315.9"/>
<line x1="211.2" y1="319.1" x2="215.3" y2="318.8"/>
<line x1="218.4" y1="319.1" x2="219.7" y2="319.0"/>
<line x1="222.7" y1="319.1" x2="224.6" y2="319.0"/>
<line x1="226.7" y1="319.1" x2="230.3" y2="318.8"/>
<line x1="233.0" y1="319.1" x2="236.8" y2="318.8"/>
<line x1="248.2" y1="319.1" x2="250.5" y2="318.9"/>
<line x1="261.4" y1="319.1" x2="264.6" y2="318.9"/>
<line x1="272.4" y1="319.1" x2="275.8" y2="318.9"/>
<line x1="290.6" y1="319.1" x2="292.5" y2="318.9"/>
<line x1="294.2" y1="319.1" x2="297.5" y2="318.9"/>
<line x1="311.2" y1="319.1" x2="313.0" y2="319.0"/>
<line x1="323.6" y1="319.1" x2="327.8" y2="318.8"/>
<line x1="334.9" y1="319.1" x2="339.0" y2="318.8"/>
<line x1="351.9" y1="319.1" x2="354.9" y2="318.9"/>
<line x1="378.9" y1="319.1" x2="381.4" y2="318.9"/>
<line x1="394.4" y1="319.1" x2="398.5" y2="318.8"/>
<line x1="400.2" y1="319.1" x2="403.5" y2="318.9"/>
<line x1="406.5" y1="319.1" x2="409.2" y2="318.9"/>
<line x1="419.7" y1="319.1" x2="424.1" y2="318.8"/>
<line x1="441.2" y1="319.1" x2="444.9" y2="318.8"/>
<line x1="446.9" y1="319.1" x2="450.3" y2="318.9"/>
<line x1="463.6" y1="319.1" x2="467.7" y2="318.8"/>
<line x1="473.6" y1="319.1" x2="477.0" y2="318.9"/>
<line x1="485.7" y1="319.1" x2="489.5" y2="318.8"/>
<line x1="506.0" y1="319.1" x2="509.5" y2="318.8"/>
<line x1="519.6" y1="319.1" x2="521.0" y2="319.0"/>
<line x1="533.5" y1="319.1" x2="536.0" y2="318.9"/>
<line x1="538.2" y1="319.1" x2="540.2" y2="318.9"/>
<line x1="544.9" y1="319.1" x2="549.6" y2="318.8"/>
<line x1="559.7" y1="319.1" x2="562.5" y2="318.9"/>
<line x1="564.6" y1="319.1" x2="568.9" y2="318.8"/>
<line x1="571.7" y1="319.1" x2="574.9" y2="318.9"/>
<line x1="581.5" y1="319.1" x2="583.1" y2="319.0"/>
<line x1="586.3" y1="319.1" x2="591.2" y2="318.8"/>
<line x1="593.6" y1="319.1" x2="595.0" y2="319.0"/>
<line x1="600.9" y1="319.1" x2="605.0" y2="318.8"/>
<line x1="616.2" y1="319.1" x2="619.7" y2="318.9"/>
<line x1="623.2" y1="319.1" x2="626.4" y2="318.9"/>
<line x1="630.4" y1="319.1" x2="631.9" y2="319.0"/>
<line x1="637.9" y1="319.1" x2="640.6" y2="318.9"/>
<line x1="653.0" y1="319.1" x2="656.9" y2="318.8"/>
<line x1="661.2" y1="319.1" x2="662.4" y2="319.0"/>
<line x1="668.8" y1="319.1" x2="673.4" y2="318.8"/>
<line x1="679.2" y1="319.1" x2="684.0" y2="318.8"/>
<line x1="689.2" y1="319.1" x2="694.0" y2="318.8"/>
<line x1="705.1" y1="319.1" x2="709.3" y2="318.8"/>
<line x1="711.1" y1="319.1" x2="714.3" y2="318.9"/>
<line x1="718.9" y1="319.1" x2="720.8" y2="318.9"/>
<line x1="734.7" y1="319.1" x2="738.4" y2="318.8"/>
<line x1="741.8" y1="319.1" x2="744.8" y2="318.9"/>
<line x1="203.7" y1="321.1" x2="208.4" y2="320.8"/>
<line x1="222.7" y1="321.1" x2="226.6" y2="320.9"/>
<line x1="229.2" y1="321.1" x2="232.5" y2="320.9"/>
<line x1="242.1" y1="321.1" x2="244.9" y2="320.9"/>
<line x1="250.8" y1="321.1" x2="255.8" y2="320.8"/>
<line x1="261.6" y1="321.1" x2="266.5" y2="320.8"/>
<line x1="284.5" y1="321.1" x2="288.4" y2="320.9"/>
<line x1="290.5" y1="321.1" x2="293.4" y2="320.9"/>
<line x1="295.7" y1="321.1" x2="300.6" y2="320.8"/>
<line x1="302.8" y1="321.1" x2="305.6" y2="320.9"/>
<line x1="309.8" y1="321.1" x2="311.9" y2="321.0"/>
<line x1="316.3" y1="321.1" x2="321.0" y2="320.8"/>
<line x1="325.7" y1="321.1" x2="329.1" y2="320.9"/>
<line x1="332.5" y1="321.1" x2="333.8" y2="321.0"/>
<line x1="352.6" y1="321.1" x2="355.7" y2="320.9"/>
<line x1="361.0" y1="321.1" x2="362.6" y2="321.0"/>
<line x1="364.2" y1="321.1" x2="367.2" y2="320.9"/>
<line x1="373.0" y1="321.1" x2="377.8" y2="320.8"/>
<line x1="390.5" y1="321.1" x2="392.4" y2="321.0"/>
<line x1="398.4" y1="321.1" x2="400.1" y2="321.0"/>
<line x1="409.2" y1="321.1" x2="411.4" y2="321.0"/>
<line x1="430.4" y1="321.1" x2="433.4" y2="320.9"/>
<line x1="441.7" y1="321.1" x2="443.4" y2="321.0"/>
<line x1="460.8" y1="321.1" x2="463.0" y2="321.0"/>
<line x1="467.3" y1="321.1" x2="470.7" y2="320.9"/>
<line x1="475.7" y1="321.1" x2="478.9" y2="320.9"/>
<line x1="483.5" y1="321.1" x2="488.3" y2="320.8"/>
<line x1="507.3" y1="321.1" x2="510.7" y2="320.9"/>
<line x1="516.6" y1="321.1" x2="520.9" y2="320.9"/>
<line x1="522.8" y1="321.1" x2="527.5" y2="320.8"/>
<line x1="551.4" y1="321.1" x2="553.4" y2="321.0"/>
<line x1="558.3" y1="321.1" x2="561.2" y2="320.9"/>
<line x1="565.2" y1="321.1" x2="567.4" y2="321.0"/>
<line x1="581.6" y1="321.1" x2="584.4" y2="320.9"/>
<line x1="627.0" y1="321.1" x2="629.3" y2="321.0"/>
<line x1="633.2" y1="321.1" x2="636.4" y2="320.9"/>
<line x1="650.7" y1="321.1" x2="652.3" y2="321.0"/>
<line x1="656.3" y1="321.1" x2="659.5" y2="320.9"/>
<line x1="663.4" y1="321.1" x2="664.6" y2="321.0"/>
<line x1="670.4" y1="321.1" x2="675.0" y2="320.8"/>
<line x1="679.5" y1="321.1" x2="682.6" y2="320.9"/>
<line x1="696.1" y1="321.1" x2="700.7" y2="320.8"/>
<line x1="726.5" y1="321.1" x2="729.8" y2="320.9"/>
<line x1="734.5" y1="321.1" x2="737.0" y2="321.0"/>
<line x1="213.0" y1="323.3" x2="215.3" y2="323.2"/>
<line x1="225.3" y1="323.3" x2="229.3" y2="323.1"/>
<line x1="230.9" y1="323.3" x2="233.6" y2="323.1"/>
<line x1="235.5" y1="323.3" x2="240.4" y2="323.0"/>
<line x1="243.9" y1="323.3" x2="245.3" y2="323.2"/>
<line x1="248.3" y1="323.3" x2="251.9" y2="323.1"/>
<line x1="255.6" y1="323.3" x2="257.9" y2="323.2"/>
<line x1="282.3" y1="323.3" x2="286.7" y2="323.0"/>
<line x1="295.9" y1="323.3" x2="298.8" y2="323.1"/>
<line x1="308.4" y1="323.3" x2="309.8" y2="323.2"/>
<line x1="315.5" y1="323.3" x2="317.7" y2="323.2"/>
<line x1="330.4" y1="323.3" x2="332.1" y2="323.2"/>
<line x1="334.3" y1="323.3" x2="337.2" y2="323.1"/>
<line x1="341.8" y1="323.3" x2="346.3" y2="323.0"/>
<line x1="347.9" y1="323.3" x2="349.6" y2="323.2"/>
<line x1="351.7" y1="323.3" x2="354.5" y2="323.1"/>
<line x1="367.6" y1="323.3" x2="371.2" y2="323.1"/>
<line x1="388.6" y1="323.3" x2="392.7" y2="323.1"/>
<line x1="403.4" y1="323.3" x2="405.8" y2="323.2"/>
<line x1="427.0" y1="323.3" x2="429.6" y2="323.1"/>
<line x1="435.6" y1="323.3" x2="438.4" y2="323.1"/>
<line x1="448.9" y1="323.3" x2="453.3" y2="323.0"/>
<line x1="475.4" y1="323.3" x2="480.2" y2="323.0"/>
<line x1="483.5" y1="323.3" x2="484.7" y2="323.2"/>
<line x1="491.9" y1="323.3" x2="496.6" y2="323.0"/>
<line x1="508.4" y1="323.3" x2="511.5" y2="323.1"/>
<line x1="516.7" y1="323.3" x2="520.8" y2="323.1"/>
<line x1="524.9" y1="323.3" x2="529.1" y2="323.0"/>
<line x1="546.3" y1="323.3" x2="550.0" y2="323.1"/>
<line x1="563.6" y1="323.3" x2="566.1" y2="323.1"/>
<line x1="570.3" y1="323.3" x2="571.6" y2="323.2"/>
<line x1="592.6" y1="323.3" x2="596.6" y2="323.1"/>
<line x1="607.8" y1="323.3" x2="609.9" y2="323.2"/>
<line x1="613.7" y1="323.3" x2="616.3" y2="323.1"/>
<line x1="630.7" y1="323.3" x2="635.3" y2="323.0"/>
<line x1="640.3" y1="323.3" x2="642.9" y2="323.1"/>
<line x1="647.0" y1="323.3" x2="651.0" y2="323.1"/>
<line x1="695.5" y1="323.3" x2="698.3" y2="323.1"/>
<line x1="714.9" y1="323.3" x2="718.5" y2="323.1"/>
<line x1="723.4" y1="323.3" x2="728.0" y2="323.0"/>
<line x1="731.7" y1="323.3" x2="733.7" y2="323.2"/>
<line x1="739.1" y1="323.3" x2="742.7" y2="323.1"/>
<line x1="202.0" y1="325.2" x2="204.6" y2="325.0"/>
<line x1="206.9" y1="325.2" x2="210.2" y2="325.0"/>
<line x1="212.9" y1="325.2" x2="216.9" y2="325.0"/>
<line x1="221.7" y1="325.2" x2="225.8" y2="325.0"/>
<line x1="227.4" y1="325.2" x2="231.8" y2="324.9"/>
<line x1="235.9" y1="325.2" x2="239.7" y2="325.0"/>
<line x1="259.1" y1="325.2" x2="262.6" y2="325.0"/>
<line x1="266.9" y1="325.2" x2="269.6" y2="325.0"/>
<line x1="279.5" y1="325.2" x2="281.6" y2="325.1"/>
<line x1="283.6" y1="325.2" x2="285.8" y2="325.1"/>
<line x1="291.5" y1="325.2" x2="293.4" y2="325.1"/>
<line x1="296.6" y1="325.2" x2="300.2" y2="325.0"/>
<line x1="304.7" y1="325.2" x2="306.5" y2="325.1"/>
<line x1="310.6" y1="325.2" x2="314.6" y2="325.0"/>
<line x1="316.3" y1="325.2" x2="320.0" y2="325.0"/>
<line x1="325.7" y1="325.2" x2="329.5" y2="325.0"/>
<line x1="332.8" y1="325.2" x2="334.3" y2="325.1"/>
<line x1="346.8" y1="325.2" x2="350.4" y2="325.0"/>
<line x1="354.2" y1="325.2" x2="357.9" y2="325.0"/>
<line x1="361.2" y1="325.2" x2="365.5" y2="324.9"/>
<line x1="375.7" y1="325.2" x2="378.6" y2="325.0"/>
<line x1="385.9" y1="325.2" x2="388.9" y2="325.0"/>
<line x1="393.0" y1="325.2" x2="397.1" y2="324.9"/>
<line x1="407.3" y1="325.2" x2="409.3" y2="325.1"/>
<line x1="420.1" y1="325.2" x2="424.3" y2="324.9"/>
<line x1="427.8" y1="325.2" x2="429.8" y2="325.1"/>
<line x1="435.6" y1="325.2" x2="437.1" y2="325.1"/>
<line x1="439.5" y1="325.2" x2="443.9" y2="324.9"/>
<line x1="461.9" y1="325.2" x2="464.1" y2="325.1"/>
<line x1="474.4" y1="325.2" x2="477.5" y2="325.0"/>
<line x1="489.9" y1="325.2" x2="494.1" y2="324.9"/>
<line x1="500.0" y1="325.2" x2="504.5" y2="324.9"/>
<line x1="508.5" y1="325.2" x2="511.9" y2="325.0"/>
<line x1="523.6" y1="325.2" x2="526.7" y2="325.0"/>
<line x1="549.7" y1="325.2" x2="554.4" y2="324.9"/>
<line x1="561.7" y1="325.2" x2="563.0" y2="325.1"/>
<line x1="565.3" y1="325.2" x2="568.6" y2="325.0"/>
<line x1="572.1" y1="325.2" x2="573.4" y2="325.1"/>
<line x1="576.0" y1="325.2" x2="577.6" y2="325.1"/>
<line x1="579.8" y1="325.2" x2="582.5" y2="325.0"/>
<line x1="593.3" y1="325.2" x2="595.8" y2="325.1"/>
<line x1="622.7" y1="325.2" x2="627.1" y2="324.9"/>
<line x1="630.9" y1="325.2" x2="635.4" y2="324.9"/>
<line x1="638.0" y1="325.2" x2="639.3" y2="325.1"/>
<line x1="641.5" y1="325.2" x2="646.2" y2="324.9"/>
<line x1="657.6" y1="325.2" x2="659.2" y2="325.1"/>
<line x1="662.0" y1="325.2" x2="666.8" y2="324.9"/>
<line x1="672.7" y1="325.2" x2="674.9" y2="325.1"/>
<line x1="691.9" y1="325.2" x2="696.8" y2="324.9"/>
<line x1="702.6" y1="325.2" x2="707.3" y2="324.9"/>
<line x1="723.7" y1="325.2" x2="725.2" y2="325.1"/>
<line x1="215.3" y1="327.1" x2="217.7" y2="326.9"/>
<line x1="246.8" y1="327.1" x2="248.4" y2="327.0"/>
<line x1="257.9" y1="327.1" x2="260.9" y2="326.9"/>
<line x1="282.6" y1="327.1" x2="286.6" y2="326.8"/>
<line x1="292.4" y1="327.1" x2="296.0" y2="326.9"/>
<line x1="308.5" y1="327.1" x2="311.4" y2="326.9"/>
<line x1="317.3" y1="327.1" x2="322.0" y2="326.8"/>
<line x1="323.9" y1="327.1" x2="328.5" y2="326.8"/>
<line x1="330.5" y1="327.1" x2="334.2" y2="326.9"/>
<line x1="339.1" y1="327.1" x2="342.9" y2="326.9"/>
<line x1="359.4" y1="327.1" x2="363.7" y2="326.8"/>
<line x1="381.3" y1="327.1" x2="383.1" y2="327.0"/>
<line x1="385.3" y1="327.1" x2="388.3" y2="326.9"/>
<line x1="403.0" y1="327.1" x2="406.6" y2="326.9"/>
<line x1="410.9" y1="327.1" x2="412.8" y2="327.0"/>
<line x1="418.0" y1="327.1" x2="421.6" y2="326.9"/>
<line x1="424.6" y1="327.1" x2="429.1" y2="326.8"/>
<line x1="432.8" y1="327.1" x2="435.9" y2="326.9"/>
<line x1="442.6" y1="327.1" x2="444.9" y2="327.0"/>
<line x1="453.1" y1="327.1" x2="455.0" y2="327.0"/>
<line x1="456.9" y1="327.1" x2="459.3" y2="326.9"/>
<line x1="473.3" y1="327.1" x2="476.6" y2="326.9"/>
<line x1="478.7" y1="327.1" x2="482.5" y2="326.9"/>
<line x1="488.0" y1="327.1" x2="489.4" y2="327.0"/>
<line x1="495.4" y1="327.1" x2="498.2" y2="326.9"/>
<line x1="502.4" y1="327.1" x2="504.0" y2="327.0"/>
<line x1="515.8" y1="327.1" x2="517.7" y2="327.0"/>
<line x1="523.3" y1="327.1" x2="525.2" y2="327.0"/>
<line x1="529.4" y1="327.1" x2="534.4" y2="326.8"/>
<line x1="539.0" y1="327.1" x2="542.0" y2="326.9"/>
<line x1="547.3" y1="327.1" x2="548.8" y2="327.0"/>
<line x1="587.1" y1="327.1" x2="591.9" y2="326.8"/>
<line x1="605.6" y1="327.1" x2="608.5" y2="326.9"/>
<line x1="618.9" y1="327.1" x2="622.1" y2="326.9"/>
<line x1="624.3" y1="327.1" x2="626.6" y2="327.0"/>
<line x1="630.7" y1="327.1" x2="634.3" y2="326.9"/>
<line x1="644.5" y1="327.1" x2="647.0" y2="326.9"/>
<line x1="649.2" y1="327.1" x2="653.6" y2="326.8"/>
<line x1="683.7" y1="327.1" x2="685.9" y2="327.0"/>
<line x1="689.8" y1="327.1" x2="694.2" y2="326.8"/>
<line x1="699.7" y1="327.1" x2="703.5" y2="326.9"/>
<line x1="706.8" y1="327.1" x2="709.4" y2="326.9"/>
<line x1="722.5" y1="327.1" x2="724.0" y2="327.0"/>
<line x1="735.0" y1="327.1" x2="737.1" y2="327.0"/>
<line x1="740.5" y1="327.1" x2="744.0" y2="326.9"/>
<line x1="210.8" y1="329.1" x2="214.9" y2="328.9"/>
<line x1="223.7" y1="329.1" x2="226.3" y2="329.0"/>
<line x1="235.5" y1="329.1" x2="236.9" y2="329.1"/>
<line x1="240.9" y1="329.1" x2="243.0" y2="329.0"/>
<line x1="247.0" y1="329.1" x2="249.6" y2="329.0"/>
<line x1="258.4" y1="329.1" x2="261.7" y2="329.0"/>
<line x1="271.6" y1="329.1" x2="273.0" y2="329.1"/>
<line x1="291.7" y1="329.1" x2="296.4" y2="328.9"/>
<line x1="306.8" y1="329.1" x2="311.0" y2="328.9"/>
<line x1="320.7" y1="329.1" x2="322.6" y2="329.0"/>
<line x1="338.7" y1="329.1" x2="342.7" y2="328.9"/>
<line x1="346.2" y1="329.1" x2="347.5" y2="329.1"/>
<line x1="365.2" y1="329.1" x2="367.9" y2="329.0"/>
<line x1="369.6" y1="329.1" x2="374.1" y2="328.9"/>
<line x1="378.2" y1="329.1" x2="380.5" y2="329.0"/>
<line x1="384.1" y1="329.1" x2="386.4" y2="329.0"/>
<line x1="390.9" y1="329.1" x2="394.5" y2="328.9"/>
<line x1="400.3" y1="329.1" x2="401.9" y2="329.1"/>
<line x1="404.7" y1="329.1" x2="407.3" y2="329.0"/>
<line x1="412.9" y1="329.1" x2="414.4" y2="329.1"/>
<line x1="418.7" y1="329.1" x2="420.9" y2="329.0"/>
<line x1="432.7" y1="329.1" x2="434.1" y2="329.1"/>
<line x1="439.3" y1="329.1" x2="442.1" y2="329.0"/>
<line x1="452.5" y1="329.1" x2="454.1" y2="329.1"/>
<line x1="459.4" y1="329.1" x2="461.6" y2="329.0"/>
<line x1="464.7" y1="329.1" x2="468.0" y2="329.0"/>
<line x1="481.7" y1="329.1" x2="484.2" y2="329.0"/>
<line x1="487.4" y1="329.1" x2="491.9" y2="328.9"/>
<line x1="496.4" y1="329.1" x2="498.3" y2="329.0"/>
<line x1="501.0" y1="329.1" x2="505.7" y2="328.9"/>
<line x1="511.5" y1="329.1" x2="514.8" y2="328.9"/>
<line x1="528.7" y1="329.1" x2="532.1" y2="328.9"/>
<line x1="573.3" y1="329.1" x2="577.0" y2="328.9"/>
<line x1="587.4" y1="329.1" x2="590.8" y2="328.9"/>
<line x1="596.0" y1="329.1" x2="597.2" y2="329.1"/>
<line x1="599.9" y1="329.1" x2="603.4" y2="328.9"/>
<line x1="607.6" y1="329.1" x2="612.2" y2="328.9"/>
<line x1="619.1" y1="329.1" x2="622.0" y2="329.0"/>
<line x1="626.9" y1="329.1" x2="629.3" y2="329.0"/>
<line x1="639.8" y1="329.1" x2="644.7" y2="328.9"/>
<line x1="647.6" y1="329.1" x2="649.1" y2="329.1"/>
<line x1="664.8" y1="329.1" x2="666.1" y2="329.1"/>
<line x1="671.4" y1="329.1" x2="675.0" y2="328.9"/>
<line x1="678.4" y1="329.1" x2="682.7" y2="328.9"/>
<line x1="685.8" y1="329.1" x2="688.9" y2="329.0"/>
<line x1="699.5" y1="329.1" x2="700.7" y2="329.1"/>
<line x1="705.6" y1="329.1" x2="707.3" y2="329.0"/>
<line x1="711.9" y1="329.1" x2="715.1" y2="329.0"/>
<line x1="716.7" y1="329.1" x2="720.6" y2="328.9"/>
<line x1="220.4" y1="331.9" x2="225.0" y2="331.6"/>
<line x1="230.5" y1="331.9" x2="232.2" y2="331.8"/>
<line x1="236.4" y1="331.9" x2="238.5" y2="331.7"/>
<line x1="249.4" y1="331.9" x2="251.1" y2="331.8"/>
<line x1="269.9" y1="331.9" x2="274.3" y2="331.6"/>
<line x1="283.0" y1="331.9" x2="286.6" y2="331.7"/>
<line x1="290.2" y1="331.9" x2="294.8" y2="331.6"/>
<line x1="307.3" y1="331.9" x2="312.3" y2="331.6"/>
<line x1="314.5" y1="331.9" x2="317.5" y2="331.7"/>
<line x1="320.8" y1="331.9" x2="325.0" y2="331.6"/>
<line x1="330.8" y1="331.9" x2="332.8" y2="331.7"/>
<line x1="342.9" y1="331.9" x2="345.7" y2="331.7"/>
<line x1="358.3" y1="331.9" x2="360.1" y2="331.8"/>
<line x1="363.5" y1="331.9" x2="367.6" y2="331.6"/>
<line x1="381.0" y1="331.9" x2="383.7" y2="331.7"/>
<line x1="387.0" y1="331.9" x2="391.1" y2="331.6"/>
<line x1="401.0" y1="331.9" x2="402.7" y2="331.8"/>
<line x1="405.2" y1="331.9" x2="409.5" y2="331.6"/>
<line x1="413.0" y1="331.9" x2="417.5" y2="331.6"/>
<line x1="421.0" y1="331.9" x2="426.0" y2="331.6"/>
<line x1="429.9" y1="331.9" x2="433.5" y2="331.6"/>
<line x1="444.7" y1="331.9" x2="448.6" y2="331.6"/>
<line x1="453.3" y1="331.9" x2="456.0" y2="331.7"/>
<line x1="459.1" y1="331.9" x2="461.5" y2="331.7"/>
<line x1="466.5" y1="331.9" x2="469.7" y2="331.7"/>
<line x1="474.4" y1="331.9" x2="475.8" y2="331.8"/>
<line x1="493.9" y1="331.9" x2="496.4" y2="331.7"/>
<line x1="510.3" y1="331.9" x2="514.3" y2="331.6"/>
<line x1="519.2" y1="331.9" x2="522.2" y2="331.7"/>
<line x1="534.4" y1="331.9" x2="537.8" y2="331.7"/>
<line x1="541.8" y1="331.9" x2="546.5" y2="331.6"/>
<line x1="561.6" y1="331.9" x2="566.0" y2="331.6"/>
<line x1="568.6" y1="331.9" x2="570.9" y2="331.7"/>
<line x1="575.8" y1="331.9" x2="577.6" y2="331.8"/>
<line x1="580.2" y1="331.9" x2="583.8" y2="331.7"/>
<line x1="588.7" y1="331.9" x2="592.7" y2="331.6"/>
<line x1="596.8" y1="331.9" x2="598.6" y2="331.8"/>
<line x1="607.2" y1="331.9" x2="612.1" y2="331.6"/>
<line x1="617.8" y1="331.9" x2="621.5" y2="331.6"/>
<line x1="626.3" y1="331.9" x2="629.8" y2="331.7"/>
<line x1="657.1" y1="331.9" x2="659.1" y2="331.8"/>
<line x1="662.8" y1="331.9" x2="664.5" y2="331.8"/>
<line x1="669.3" y1="331.9" x2="670.6" y2="331.8"/>
<line x1="673.9" y1="331.9" x2="677.8" y2="331.6"/>
<line x1="681.5" y1="331.9" x2="683.5" y2="331.7"/>
<line x1="688.9" y1="331.9" x2="691.5" y2="331.7"/>
<line x1="697.2" y1="331.9" x2="699.8" y2="331.7"/>
<line x1="716.7" y1="331.9" x2="718.1" y2="331.8"/>
<line x1="722.5" y1="331.9" x2="725.8" y2="331.7"/>
<line x1="730.5" y1="331.9" x2="732.6" y2="331.7"/>
<line x1="208.9" y1="334.2" x2="212.3" y2="334.0"/>
<line x1="224.2" y1="334.2" x2="226.3" y2="334.1"/>
<line x1="230.3" y1="334.2" x2="234.5" y2="333.9"/>
<line x1="247.4" y1="334.2" x2="250.3" y2="334.0"/>
<line x1="252.9" y1="334.2" x2="257.5" y2="333.9"/>
<line x1="275.2" y1="334.2" x2="277.3" y2="334.1"/>
<line x1="281.2" y1="334.2" x2="284.5" y2="334.0"/>
<line x1="287.2" y1="334.2" x2="290.8" y2="334.0"/>
<line x1="295.8" y1="334.2" x2="300.4" y2="333.9"/>
<line x1="302.4" y1="334.2" x2="305.8" y2="334.0"/>
<line x1="307.8" y1="334.2" x2="311.7" y2="334.0"/>
<line x1="322.2" y1="334.2" x2="324.7" y2="334.0"/>
<line x1="327.2" y1="334.2" x2="330.2" y2="334.0"/>
<line x1="333.0" y1="334.2" x2="336.5" y2="334.0"/>
<line x1="338.2" y1="334.2" x2="339.9" y2="334.1"/>
<line x1="342.0" y1="334.2" x2="345.3" y2="334.0"/>
<line x1="349.6" y1="334.2" x2="354.2" y2="333.9"/>
<line x1="373.9" y1="334.2" x2="376.8" y2="334.0"/>
<line x1="396.2" y1="334.2" x2="397.5" y2="334.1"/>
<line x1="401.4" y1="334.2" x2="405.5" y2="333.9"/>
<line x1="407.2" y1="334.2" x2="411.1" y2="334.0"/>
<line x1="416.4" y1="334.2" x2="419.8" y2="334.0"/>
<line x1="423.6" y1="334.2" x2="427.8" y2="333.9"/>
<line x1="433.6" y1="334.2" x2="435.0" y2="334.1"/>
<line x1="439.2" y1="334.2" x2="442.9" y2="334.0"/>
<line x1="448.6" y1="334.2" x2="450.5" y2="334.1"/>
<line x1="454.5" y1="334.2" x2="457.0" y2="334.0"/>
<line x1="460.3" y1="334.2" x2="464.8" y2="333.9"/>
<line x1="469.5" y1="334.2" x2="472.8" y2="334.0"/>
<line x1="478.4" y1="334.2" x2="480.6" y2="334.1"/>
<line x1="490.0" y1="334.2" x2="491.6" y2="334.1"/>
<line x1="506.2" y1="334.2" x2="507.7" y2="334.1"/>
<line x1="511.1" y1="334.2" x2="515.5" y2="333.9"/>
<line x1="532.9" y1="334.2" x2="537.5" y2="333.9"/>
<line x1="543.3" y1="334.2" x2="548.0" y2="333.9"/>
<line x1="552.9" y1="334.2" x2="557.6" y2="333.9"/>
<line x1="560.9" y1="334.2" x2="565.0" y2="333.9"/>
<line x1="570.6" y1="334.2" x2="573.5" y2="334.0"/>
<line x1="589.3" y1="334.2" x2="591.7" y2="334.1"/>
<line x1="617.4" y1="334.2" x2="621.2" y2="334.0"/>
<line x1="623.2" y1="334.2" x2="625.1" y2="334.1"/>
<line x1="627.4" y1="334.2" x2="630.8" y2="334.0"/>
<line x1="633.3" y1="334.2" x2="637.8" y2="333.9"/>
<line x1="639.3" y1="334.2" x2="640.6" y2="334.1"/>
<line x1="642.2" y1="334.2" x2="645.5" y2="334.0"/>
<line x1="649.1" y1="334.2" x2="652.7" y2="334.0"/>
<line x1="672.6" y1="334.2" x2="675.9" y2="334.0"/>
<line x1="680.9" y1="334.2" x2="682.7" y2="334.1"/>
<line x1="692.5" y1="334.2" x2="693.8" y2="334.1"/>
<line x1="699.2" y1="334.2" x2="700.8" y2="334.1"/>
<line x1="705.0" y1="334.2" x2="709.4" y2="333.9"/>
<line x1="736.7" y1="334.2" x2="740.7" y2="334.0"/>
<line x1="207.5" y1="336.0" x2="209.4" y2="335.8"/>
<line x1="212.2" y1="336.0" x2="214.8" y2="335.8"/>
<line x1="220.7" y1="336.0" x2="223.9" y2="335.8"/>
<line x1="234.4" y1="336.0" x2="237.5" y2="335.8"/>
<line x1="239.8" y1="336.0" x2="241.8" y2="335.8"/>
<line x1="244.6" y1="336.0" x2="246.0" y2="335.9"/>
<line x1="255.2" y1="336.0" x2="258.8" y2="335.7"/>
<line x1="263.9" y1="336.0" x2="267.7" y2="335.7"/>
<line x1="277.0" y1="336.0" x2="279.0" y2="335.8"/>
<line x1="285.0" y1="336.0" x2="286.6" y2="335.9"/>
<line x1="292.3" y1="336.0" x2="293.7" y2="335.9"/>
<line x1="306.8" y1="336.0" x2="309.2" y2="335.8"/>
<line x1="311.7" y1="336.0" x2="312.9" y2="335.9"/>
<line x1="317.2" y1="336.0" x2="321.8" y2="335.7"/>
<line x1="324.5" y1="336.0" x2="329.1" y2="335.7"/>
<line x1="332.4" y1="336.0" x2="333.9" y2="335.9"/>
<line x1="336.4" y1="336.0" x2="339.9" y2="335.7"/>
<line x1="343.7" y1="336.0" x2="348.0" y2="335.7"/>
<line x1="350.8" y1="336.0" x2="353.5" y2="335.8"/>
<line x1="358.3" y1="336.0" x2="362.1" y2="335.7"/>
<line x1="365.1" y1="336.0" x2="368.7" y2="335.7"/>
<line x1="374.4" y1="336.0" x2="377.6" y2="335.8"/>
<line x1="382.1" y1="336.0" x2="385.2" y2="335.8"/>
<line x1="404.2" y1="336.0" x2="407.5" y2="335.8"/>
<line x1="409.8" y1="336.0" x2="412.6" y2="335.8"/>
<line x1="416.1" y1="336.0" x2="418.2" y2="335.8"/>
<line x1="428.6" y1="336.0" x2="430.5" y2="335.8"/>
<line x1="438.6" y1="336.0" x2="442.0" y2="335.7"/>
<line x1="443.7" y1="336.0" x2="445.1" y2="335.9"/>
<line x1="450.8" y1="336.0" x2="454.7" y2="335.7"/>
<line x1="464.0" y1="336.0" x2="466.7" y2="335.8"/>
<line x1="476.6" y1="336.0" x2="481.2" y2="335.7"/>
<line x1="489.4" y1="336.0" x2="490.9" y2="335.9"/>
<line x1="494.2" y1="336.0" x2="497.3" y2="335.8"/>
<line x1="502.9" y1="336.0" x2="506.1" y2="335.8"/>
<line x1="524.8" y1="336.0" x2="526.2" y2="335.9"/>
<line x1="530.4" y1="336.0" x2="533.1" y2="335.8"/>
<line x1="547.4" y1="336.0" x2="551.0" y2="335.7"/>
<line x1="564.0" y1="336.0" x2="567.2" y2="335.8"/>
<line x1="581.0" y1="336.0" x2="585.7" y2="335.7"/>
<line x1="590.2" y1="336.0" x2="594.8" y2="335.7"/>
<line x1="600.5" y1="336.0" x2="604.7" y2="335.7"/>
<line x1="607.8" y1="336.0" x2="611.6" y2="335.7"/>
<line x1="614.3" y1="336.0" x2="616.2" y2="335.8"/>
<line x1="638.1" y1="336.0" x2="641.3" y2="335.8"/>
<line x1="643.8" y1="336.0" x2="646.4" y2="335.8"/>
<line x1="650.8" y1="336.0" x2="652.9" y2="335.8"/>
<line x1="667.5" y1="336.0" x2="669.5" y2="335.8"/>
<line x1="674.7" y1="336.0" x2="679.0" y2="335.7"/>
<line x1="682.7" y1="336.0" x2="686.1" y2="335.7"/>
<line x1="696.2" y1="336.0" x2="699.6" y2="335.8"/>
<line x1="737.9" y1="336.0" x2="741.3" y2="335.7"/>
<line x1="217.1" y1="338.1" x2="221.3" y2="337.8"/>
<line x1="234.4" y1="338.1" x2="237.4" y2="337.9"/>
<line x1="241.4" y1="338.1" x2="243.7" y2="338.0"/>
<line x1="257.7" y1="338.1" x2="260.8" y2="337.9"/>
<line x1="274.0" y1="338.1" x2="276.7" y2="337.9"/>
<line x1="278.4" y1="338.1" x2="282.6" y2="337.8"/>
<line x1="285.8" y1="338.1" x2="287.2" y2="338.0"/>
<line x1="299.9" y1="338.1" x2="303.7" y2="337.9"/>
<line x1="306.3" y1="338.1" x2="310.0" y2="337.9"/>
<line x1="315.9" y1="338.1" x2="319.0" y2="337.9"/>
<line x1="324.6" y1="338.1" x2="328.2" y2="337.9"/>
<line x1="332.6" y1="338.1" x2="334.4" y2="338.0"/>
<line x1="345.3" y1="338.1" x2="348.3" y2="337.9"/>
<line x1="353.4" y1="338.1" x2="356.9" y2="337.9"/>
<line x1="360.1" y1="338.1" x2="362.1" y2="338.0"/>
<line x1="366.7" y1="338.1" x2="369.1" y2="338.0"/>
<line x1="386.0" y1="338.1" x2="388.9" y2="337.9"/>
<line x1="391.4" y1="338.1" x2="393.2" y2="338.0"/>
<line x1="397.6" y1="338.1" x2="399.2" y2="338.0"/>
<line x1="401.5" y1="338.1" x2="405.0" y2="337.9"/>
<line x1="409.5" y1="338.1" x2="413.6" y2="337.8"/>
<line x1="416.8" y1="338.1" x2="418.3" y2="338.0"/>
<line x1="422.6" y1="338.1" x2="426.9" y2="337.8"/>
<line x1="432.8" y1="338.1" x2="437.5" y2="337.8"/>
<line x1="441.4" y1="338.1" x2="445.2" y2="337.9"/>
<line x1="448.3" y1="338.1" x2="452.3" y2="337.9"/>
<line x1="455.7" y1="338.1" x2="459.1" y2="337.9"/>
<line x1="462.7" y1="338.1" x2="465.0" y2="338.0"/>
<line x1="468.9" y1="338.1" x2="472.7" y2="337.9"/>
<line x1="476.5" y1="338.1" x2="480.2" y2="337.9"/>
<line x1="486.1" y1="338.1" x2="488.1" y2="338.0"/>
<line x1="492.2" y1="338.1" x2="496.0" y2="337.9"/>
<line x1="499.3" y1="338.1" x2="501.8" y2="337.9"/>
<line x1="506.9" y1="338.1" x2="511.4" y2="337.8"/>
<line x1="515.4" y1="338.1" x2="518.4" y2="337.9"/>
<line x1="532.0" y1="338.1" x2="536.6" y2="337.8"/>
<line x1="538.6" y1="338.1" x2="542.9" y2="337.8"/>
<line x1="569.7" y1="338.1" x2="572.6" y2="337.9"/>
<line x1="575.2" y1="338.1" x2="577.5" y2="338.0"/>
<line x1="579.9" y1="338.1" x2="584.4" y2="337.8"/>
<line x1="611.8" y1="338.1" x2="613.2" y2="338.0"/>
<line x1="633.5" y1="338.1" x2="638.2" y2="337.8"/>
<line x1="643.3" y1="338.1" x2="644.8" y2="338.0"/>
<line x1="654.8" y1="338.1" x2="656.9" y2="338.0"/>
<line x1="661.8" y1="338.1" x2="665.0" y2="337.9"/>
<line x1="667.9" y1="338.1" x2="672.7" y2="337.8"/>
<line x1="687.9" y1="338.1" x2="689.3" y2="338.0"/>
<line x1="693.7" y1="338.1" x2="695.4" y2="338.0"/>
<line x1="700.7" y1="338.1" x2="702.6" y2="338.0"/>
<line x1="704.5" y1="338.1" x2="706.0" y2="338.0"/>
<line x1="710.1" y1="338.1" x2="713.8" y2="337.9"/>
<line x1="717.6" y1="338.1" x2="720.1" y2="337.9"/>
<line x1="722.1" y1="338.1" x2="725.7" y2="337.9"/>
<line x1="731.3" y1="338.1" x2="733.3" y2="338.0"/>
<line x1="735.7" y1="338.1" x2="738.6" y2="337.9"/>
<line x1="210.4" y1="340.9" x2="215.3" y2="340.6"/>
<line x1="219.3" y1="340.9" x2="221.9" y2="340.8"/>
<line x1="225.6" y1="340.9" x2="230.5" y2="340.6"/>
<line x1="235.4" y1="340.9" x2="237.8" y2="340.8"/>
<line x1="240.5" y1="340.9" x2="244.5" y2="340.7"/>
<line x1="247.4" y1="340.9" x2="250.3" y2="340.8"/>
<line x1="252.2" y1="340.9" x2="256.8" y2="340.7"/>
<line x1="260.1" y1="340.9" x2="263.9" y2="340.7"/>
<line x1="275.0" y1="340.9" x2="278.4" y2="340.7"/>
<line x1="294.6" y1="340.9" x2="297.3" y2="340.8"/>
<line x1="299.0" y1="340.9" x2="303.1" y2="340.7"/>
<line x1="307.2" y1="340.9" x2="309.4" y2="340.8"/>
<line x1="328.1" y1="340.9" x2="330.7" y2="340.8"/>
<line x1="347.1" y1="340.9" x2="349.9" y2="340.8"/>
<line x1="359.0" y1="340.9" x2="363.3" y2="340.7"/>
<line x1="368.9" y1="340.9" x2="373.4" y2="340.7"/>
<line x1="383.1" y1="340.9" x2="387.3" y2="340.7"/>
<line x1="390.0" y1="340.9" x2="393.8" y2="340.7"/>
<line x1="408.9" y1="340.9" x2="411.1" y2="340.8"/>
<line x1="416.9" y1="340.9" x2="418.4" y2="340.9"/>
<line x1="428.6" y1="340.9" x2="432.2" y2="340.7"/>
<line x1="434.7" y1="340.9" x2="436.4" y2="340.8"/>
<line x1="442.4" y1="340.9" x2="447.2" y2="340.7"/>
<line x1="452.8" y1="340.9" x2="456.6" y2="340.7"/>
<line x1="466.5" y1="340.9" x2="471.1" y2="340.7"/>
<line x1="474.9" y1="340.9" x2="476.8" y2="340.8"/>
<line x1="488.9" y1="340.9" x2="493.6" y2="340.7"/>
<line x1="517.5" y1="340.9" x2="520.6" y2="340.8"/>
<line x1="525.5" y1="340.9" x2="528.3" y2="340.8"/>
<line x1="549.8" y1="340.9" x2="552.3" y2="340.8"/>
<line x1="554.5" y1="340.9" x2="556.8" y2="340.8"/>
<line x1="558.6" y1="340.9" x2="563.1" y2="340.7"/>
<line x1="565.3" y1="340.9" x2="566.9" y2="340.8"/>
<line x1="570.0" y1="340.9" x2="573.1" y2="340.8"/>
<line x1="576.2" y1="340.9" x2="579.3" y2="340.8"/>
<line x1="583.1" y1="340.9" x2="587.5" y2="340.7"/>
<line x1="589.6" y1="340.9" x2="593.2" y2="340.7"/>
<line x1="595.3" y1="340.9" x2="596.5" y2="340.9"/>
<line x1="598.8" y1="340.9" x2="601.1" y2="340.8"/>
<line x1="613.5" y1="340.9" x2="616.4" y2="340.8"/>
<line x1="625.6" y1="340.9" x2="629.4" y2="340.7"/>
<line x1="633.1" y1="340.9" x2="635.0" y2="340.8"/>
<line x1="639.4" y1="340.9" x2="643.4" y2="340.7"/>
<line x1="669.6" y1="340.9" x2="673.9" y2="340.7"/>
<line x1="676.6" y1="340.9" x2="680.5" y2="340.7"/>
<line x1="685.9" y1="340.9" x2="690.0" y2="340.7"/>
<line x1="692.3" y1="340.9" x2="696.0" y2="340.7"/>
<line x1="699.7" y1="340.9" x2="702.0" y2="340.8"/>
<line x1="706.4" y1="340.9" x2="710.0" y2="340.7"/>
<line x1="211.9" y1="343.2" x2="213.6" y2="343.1"/>
<line x1="216.0" y1="343.2" x2="220.0" y2="342.9"/>
<line x1="225.5" y1="343.2" x2="228.3" y2="343.0"/>
<line x1="235.0" y1="343.2" x2="237.8" y2="343.0"/>
<line x1="271.1" y1="343.2" x2="276.0" y2="342.9"/>
<line x1="281.6" y1="343.2" x2="285.6" y2="342.9"/>
<line x1="291.0" y1="343.2" x2="293.2" y2="343.0"/>
<line x1="297.3" y1="343.2" x2="302.2" y2="342.9"/>
<line x1="331.5" y1="343.2" x2="334.8" y2="343.0"/>
<line x1="345.2" y1="343.2" x2="347.6" y2="343.0"/>
<line x1="361.7" y1="343.2" x2="365.1" y2="343.0"/>
<line x1="374.1" y1="343.2" x2="379.0" y2="342.9"/>
<line x1="395.6" y1="343.2" x2="399.6" y2="342.9"/>
<line x1="412.9" y1="343.2" x2="415.0" y2="343.0"/>
<line x1="417.3" y1="343.2" x2="421.3" y2="342.9"/>
<line x1="434.3" y1="343.2" x2="438.0" y2="342.9"/>
<line x1="448.4" y1="343.2" x2="450.3" y2="343.0"/>
<line x1="452.9" y1="343.2" x2="457.8" y2="342.9"/>
<line x1="460.6" y1="343.2" x2="463.8" y2="343.0"/>
<line x1="468.8" y1="343.2" x2="473.0" y2="342.9"/>
<line x1="502.6" y1="343.2" x2="506.2" y2="342.9"/>
<line x1="508.7" y1="343.2" x2="512.9" y2="342.9"/>
<line x1="515.3" y1="343.2" x2="516.7" y2="343.1"/>
<line x1="518.9" y1="343.2" x2="523.0" y2="342.9"/>
<line x1="540.7" y1="343.2" x2="545.4" y2="342.9"/>
<line x1="562.7" y1="343.2" x2="564.5" y2="343.1"/>
<line x1="575.8" y1="343.2" x2="580.0" y2="342.9"/>
<line x1="583.8" y1="343.2" x2="585.0" y2="343.1"/>
<line x1="599.2" y1="343.2" x2="602.9" y2="342.9"/>
<line x1="628.1" y1="343.2" x2="631.3" y2="343.0"/>
<line x1="633.9" y1="343.2" x2="635.4" y2="343.1"/>
<line x1="638.6" y1="343.2" x2="641.0" y2="343.0"/>
<line x1="653.7" y1="343.2" x2="655.6" y2="343.0"/>
<line x1="658.0" y1="343.2" x2="659.4" y2="343.1"/>
<line x1="661.8" y1="343.2" x2="663.1" y2="343.1"/>
<line x1="685.4" y1="343.2" x2="687.8" y2="343.0"/>
<line x1="695.4" y1="343.2" x2="697.5" y2="343.0"/>
<line x1="700.2" y1="343.2" x2="703.2" y2="343.0"/>
<line x1="705.9" y1="343.2" x2="707.6" y2="343.1"/>
<line x1="712.7" y1="343.2" x2="714.5" y2="343.1"/>
<line x1="719.6" y1="343.2" x2="723.0" y2="343.0"/>
<line x1="735.7" y1="343.2" x2="738.7" y2="343.0"/>
<line x1="213.7" y1="345.8" x2="215.4" y2="345.7"/>
<line x1="223.6" y1="345.8" x2="227.8" y2="345.5"/>
<line x1="245.3" y1="345.8" x2="250.3" y2="345.5"/>
<line x1="253.7" y1="345.8" x2="258.0" y2="345.5"/>
<line x1="260.4" y1="345.8" x2="263.4" y2="345.6"/>
<line x1="266.1" y1="345.8" x2="270.2" y2="345.5"/>
<line x1="274.6" y1="345.8" x2="276.9" y2="345.6"/>
<line x1="290.3" y1="345.8" x2="292.2" y2="345.6"/>
<line x1="297.4" y1="345.8" x2="301.6" y2="345.5"/>
<line x1="305.9" y1="345.8" x2="307.8" y2="345.6"/>
<line x1="313.1" y1="345.8" x2="314.4" y2="345.7"/>
<line x1="326.9" y1="345.8" x2="331.7" y2="345.5"/>
<line x1="334.3" y1="345.8" x2="335.9" y2="345.7"/>
<line x1="337.9" y1="345.8" x2="342.8" y2="345.5"/>
<line x1="350.5" y1="345.8" x2="354.6" y2="345.5"/>
<line x1="357.3" y1="345.8" x2="359.1" y2="345.7"/>
<line x1="367.7" y1="345.8" x2="369.4" y2="345.7"/>
<line x1="372.7" y1="345.8" x2="375.6" y2="345.6"/>
<line x1="397.3" y1="345.8" x2="400.3" y2="345.6"/>
<line x1="403.5" y1="345.8" x2="408.4" y2="345.5"/>
<line x1="413.5" y1="345.8" x2="415.2" y2="345.7"/>
<line x1="417.9" y1="345.8" x2="420.0" y2="345.6"/>
<line x1="423.3" y1="345.8" x2="426.9" y2="345.5"/>
<line x1="437.6" y1="345.8" x2="441.8" y2="345.5"/>
<line x1="477.5" y1="345.8" x2="482.0" y2="345.5"/>
<line x1="485.4" y1="345.8" x2="490.2" y2="345.5"/>
<line x1="492.4" y1="345.8" x2="494.3" y2="345.6"/>
<line x1="497.7" y1="345.8" x2="500.3" y2="345.6"/>
<line x1="502.0" y1="345.8" x2="504.5" y2="345.6"/>
<line x1="522.2" y1="345.8" x2="523.5" y2="345.7"/>
<line x1="527.6" y1="345.8" x2="532.0" y2="345.5"/>
<line x1="534.1" y1="345.8" x2="538.2" y2="345.5"/>
<line x1="541.8" y1="345.8" x2="543.5" y2="345.7"/>
<line x1="553.3" y1="345.8" x2="557.6" y2="345.5"/>
<line x1="567.0" y1="345.8" x2="568.5" y2="345.7"/>
<line x1="570.6" y1="345.8" x2="571.9" y2="345.7"/>
<line x1="575.1" y1="345.8" x2="578.0" y2="345.6"/>
<line x1="580.1" y1="345.8" x2="584.8" y2="345.5"/>
<line x1="598.6" y1="345.8" x2="601.2" y2="345.6"/>
<line x1="624.0" y1="345.8" x2="626.0" y2="345.6"/>
<line x1="630.7" y1="345.8" x2="635.4" y2="345.5"/>
<line x1="638.0" y1="345.8" x2="639.7" y2="345.6"/>
<line x1="642.2" y1="345.8" x2="645.0" y2="345.6"/>
<line x1="649.5" y1="345.8" x2="651.6" y2="345.6"/>
<line x1="655.0" y1="345.8" x2="656.8" y2="345.6"/>
<line x1="669.0" y1="345.8" x2="671.3" y2="345.6"/>
<line x1="674.8" y1="345.8" x2="677.2" y2="345.6"/>
<line x1="679.4" y1="345.8" x2="681.1" y2="345.6"/>
<line x1="684.1" y1="345.8" x2="685.7" y2="345.7"/>
<line x1="702.5" y1="345.8" x2="704.5" y2="345.6"/>
<line x1="709.1" y1="345.8" x2="711.7" y2="345.6"/>
<line x1="209.1" y1="348.8" x2="211.1" y2="348.7"/>
<line x1="212.7" y1="348.8" x2="217.4" y2="348.6"/>
<line x1="222.9" y1="348.8" x2="227.7" y2="348.5"/>
<line x1="233.6" y1="348.8" x2="235.8" y2="348.7"/>
<line x1="254.8" y1="348.8" x2="259.4" y2="348.6"/>
<line x1="269.4" y1="348.8" x2="273.9" y2="348.6"/>
<line x1="277.6" y1="348.8" x2="282.3" y2="348.6"/>
<line x1="287.4" y1="348.8" x2="291.7" y2="348.6"/>
<line x1="296.3" y1="348.8" x2="300.1" y2="348.6"/>
<line x1="320.7" y1="348.8" x2="325.2" y2="348.6"/>
<line x1="335.6" y1="348.8" x2="336.9" y2="348.8"/>
<line x1="345.5" y1="348.8" x2="347.0" y2="348.7"/>
<line x1="351.3" y1="348.8" x2="354.1" y2="348.7"/>
<line x1="362.5" y1="348.8" x2="366.4" y2="348.6"/>
<line x1="376.6" y1="348.8" x2="381.2" y2="348.6"/>
<line x1="383.9" y1="348.8" x2="385.5" y2="348.7"/>
<line x1="396.8" y1="348.8" x2="398.6" y2="348.7"/>
<line x1="400.7" y1="348.8" x2="403.0" y2="348.7"/>
<line x1="406.7" y1="348.8" x2="408.6" y2="348.7"/>
<line x1="414.1" y1="348.8" x2="417.7" y2="348.6"/>
<line x1="432.6" y1="348.8" x2="434.0" y2="348.8"/>
<line x1="439.0" y1="348.8" x2="440.9" y2="348.7"/>
<line x1="445.4" y1="348.8" x2="449.1" y2="348.6"/>
<line x1="453.7" y1="348.8" x2="458.4" y2="348.6"/>
<line x1="485.2" y1="348.8" x2="486.8" y2="348.7"/>
<line x1="492.6" y1="348.8" x2="494.9" y2="348.7"/>
<line x1="508.6" y1="348.8" x2="512.9" y2="348.6"/>
<line x1="514.5" y1="348.8" x2="515.9" y2="348.8"/>
<line x1="518.5" y1="348.8" x2="522.9" y2="348.6"/>
<line x1="528.3" y1="348.8" x2="531.3" y2="348.7"/>
<line x1="534.4" y1="348.8" x2="535.7" y2="348.8"/>
<line x1="553.4" y1="348.8" x2="554.9" y2="348.8"/>
<line x1="573.2" y1="348.8" x2="575.1" y2="348.7"/>
<line x1="581.0" y1="348.8" x2="585.2" y2="348.6"/>
<line x1="587.5" y1="348.8" x2="591.2" y2="348.6"/>
<line x1="594.7" y1="348.8" x2="596.4" y2="348.7"/>
<line x1="604.9" y1="348.8" x2="607.5" y2="348.7"/>
<line x1="611.4" y1="348.8" x2="613.3" y2="348.7"/>
<line x1="646.7" y1="348.8" x2="648.6" y2="348.7"/>
<line x1="652.3" y1="348.8" x2="654.3" y2="348.7"/>
<line x1="660.3" y1="348.8" x2="661.6" y2="348.8"/>
<line x1="664.0" y1="348.8" x2="665.8" y2="348.7"/>
<line x1="671.6" y1="348.8" x2="674.5" y2="348.7"/>
<line x1="692.8" y1="348.8" x2="697.3" y2="348.6"/>
<line x1="702.4" y1="348.8" x2="704.0" y2="348.7"/>
<line x1="706.1" y1="348.8" x2="708.6" y2="348.7"/>
<line x1="713.1" y1="348.8" x2="717.8" y2="348.6"/>
<line x1="722.0" y1="348.8" x2="724.7" y2="348.7"/>
<line x1="727.4" y1="348.8" x2="728.6" y2="348.8"/>
<line x1="741.1" y1="348.8" x2="743.9" y2="348.7"/>
<line x1="207.9" y1="352.0" x2="210.6" y2="351.9"/>
<line x1="214.3" y1="352.0" x2="216.6" y2="351.9"/>
<line x1="227.5" y1="352.0" x2="230.4" y2="351.9"/>
<line x1="236.2" y1="352.0" x2="237.9" y2="351.9"/>
<line x1="239.5" y1="352.0" x2="242.4" y2="351.9"/>
<line x1="244.0" y1="352.0" x2="245.8" y2="351.9"/>
<line x1="249.4" y1="352.0" x2="251.8" y2="351.9"/>
<line x1="254.7" y1="352.0" x2="257.2" y2="351.9"/>
<line x1="261.4" y1="352.0" x2="263.5" y2="351.9"/>
<line x1="268.2" y1="352.0" x2="269.4" y2="352.0"/>
<line x1="283.7" y1="352.0" x2="287.4" y2="351.8"/>
<line x1="292.5" y1="352.0" x2="296.6" y2="351.8"/>
<line x1="312.3" y1="352.0" x2="315.4" y2="351.8"/>
<line x1="317.0" y1="352.0" x2="321.9" y2="351.7"/>
<line x1="330.7" y1="352.0" x2="335.2" y2="351.8"/>
<line x1="338.8" y1="352.0" x2="340.9" y2="351.9"/>
<line x1="345.6" y1="352.0" x2="349.0" y2="351.8"/>
<line x1="351.8" y1="352.0" x2="356.7" y2="351.7"/>
<line x1="388.8" y1="352.0" x2="393.4" y2="351.8"/>
<line x1="410.8" y1="352.0" x2="415.7" y2="351.7"/>
<line x1="420.5" y1="352.0" x2="424.2" y2="351.8"/>
<line x1="431.4" y1="352.0" x2="435.0" y2="351.8"/>
<line x1="437.0" y1="352.0" x2="441.8" y2="351.7"/>
<line x1="446.1" y1="352.0" x2="448.3" y2="351.9"/>
<line x1="451.2" y1="352.0" x2="452.6" y2="352.0"/>
<line x1="461.1" y1="352.0" x2="463.1" y2="351.9"/>
<line x1="467.7" y1="352.0" x2="470.1" y2="351.9"/>
<line x1="472.1" y1="352.0" x2="474.7" y2="351.9"/>
<line x1="479.8" y1="352.0" x2="481.9" y2="351.9"/>
<line x1="486.8" y1="352.0" x2="488.8" y2="351.9"/>
<line x1="494.6" y1="352.0" x2="499.3" y2="351.8"/>
<line x1="502.1" y1="352.0" x2="505.0" y2="351.9"/>
<line x1="524.7" y1="352.0" x2="528.4" y2="351.8"/>
<line x1="534.3" y1="352.0" x2="538.6" y2="351.8"/>
<line x1="543.4" y1="352.0" x2="545.7" y2="351.9"/>
<line x1="549.5" y1="352.0" x2="551.0" y2="351.9"/>
<line x1="556.3" y1="352.0" x2="559.7" y2="351.8"/>
<line x1="562.2" y1="352.0" x2="565.5" y2="351.8"/>
<line x1="571.1" y1="352.0" x2="572.9" y2="351.9"/>
<line x1="576.4" y1="352.0" x2="579.1" y2="351.9"/>
<line x1="582.3" y1="352.0" x2="585.6" y2="351.8"/>
<line x1="595.4" y1="352.0" x2="597.9" y2="351.9"/>
<line x1="601.7" y1="352.0" x2="604.2" y2="351.9"/>
<line x1="607.9" y1="352.0" x2="611.4" y2="351.8"/>
<line x1="616.2" y1="352.0" x2="619.8" y2="351.8"/>
<line x1="621.5" y1="352.0" x2="624.7" y2="351.8"/>
<line x1="628.7" y1="352.0" x2="630.8" y2="351.9"/>
<line x1="635.6" y1="352.0" x2="638.3" y2="351.9"/>
<line x1="640.8" y1="352.0" x2="644.4" y2="351.8"/>
<line x1="669.9" y1="352.0" x2="672.3" y2="351.9"/>
<line x1="695.6" y1="352.0" x2="697.8" y2="351.9"/>
<line x1="726.1" y1="352.0" x2="729.9" y2="351.8"/>
<line x1="731.9" y1="352.0" x2="735.2" y2="351.8"/>
<line x1="214.5" y1="353.9" x2="216.1" y2="353.8"/>
<line x1="218.1" y1="353.9" x2="221.1" y2="353.8"/>
<line x1="224.1" y1="353.9" x2="227.8" y2="353.7"/>
<line x1="233.0" y1="353.9" x2="236.8" y2="353.7"/>
<line x1="242.0" y1="353.9" x2="243.3" y2="353.9"/>
<line x1="245.0" y1="353.9" x2="249.8" y2="353.7"/>
<line x1="255.1" y1="353.9" x2="260.0" y2="353.6"/>
<line x1="279.5" y1="353.9" x2="282.6" y2="353.8"/>
<line x1="284.8" y1="353.9" x2="286.3" y2="353.9"/>
<line x1="290.2" y1="353.9" x2="292.1" y2="353.8"/>
<line x1="298.5" y1="353.9" x2="301.7" y2="353.7"/>
<line x1="314.8" y1="353.9" x2="319.7" y2="353.6"/>
<line x1="330.3" y1="353.9" x2="331.6" y2="353.9"/>
<line x1="345.2" y1="353.9" x2="348.4" y2="353.7"/>
<line x1="373.7" y1="353.9" x2="377.3" y2="353.7"/>
<line x1="380.4" y1="353.9" x2="381.7" y2="353.9"/>
<line x1="384.0" y1="353.9" x2="385.6" y2="353.8"/>
<line x1="405.9" y1="353.9" x2="410.3" y2="353.7"/>
<line x1="413.2" y1="353.9" x2="416.4" y2="353.7"/>
<line x1="428.9" y1="353.9" x2="432.6" y2="353.7"/>
<line x1="436.2" y1="353.9" x2="439.7" y2="353.7"/>
<line x1="452.3" y1="353.9" x2="455.2" y2="353.8"/>
<line x1="458.1" y1="353.9" x2="461.2" y2="353.8"/>
<line x1="464.7" y1="353.9" x2="466.3" y2="353.8"/>
<line x1="471.8" y1="353.9" x2="476.4" y2="353.7"/>
<line x1="480.6" y1="353.9" x2="483.6" y2="353.8"/>
<line x1="486.5" y1="353.9" x2="489.7" y2="353.7"/>
<line x1="493.8" y1="353.9" x2="495.2" y2="353.9"/>
<line x1="499.5" y1="353.9" x2="501.4" y2="353.8"/>
<line x1="507.1" y1="353.9" x2="511.7" y2="353.7"/>
<line x1="515.5" y1="353.9" x2="519.6" y2="353.7"/>
<line x1="524.3" y1="353.9" x2="526.9" y2="353.8"/>
<line x1="531.7" y1="353.9" x2="535.1" y2="353.7"/>
<line x1="544.4" y1="353.9" x2="547.2" y2="353.8"/>
<line x1="556.0" y1="353.9" x2="559.7" y2="353.7"/>
<line x1="564.0" y1="353.9" x2="567.8" y2="353.7"/>
<line x1="569.3" y1="353.9" x2="571.9" y2="353.8"/>
<line x1="590.0" y1="353.9" x2="594.6" y2="353.7"/>
<line x1="598.1" y1="353.9" x2="601.9" y2="353.7"/>
<line x1="607.9" y1="353.9" x2="609.6" y2="353.8"/>
<line x1="613.7" y1="353.9" x2="615.8" y2="353.8"/>
<line x1="621.8" y1="353.9" x2="625.0" y2="353.7"/>
<line x1="628.2" y1="353.9" x2="630.2" y2="353.8"/>
<line x1="653.0" y1="353.9" x2="657.9" y2="353.6"/>
<line x1="661.4" y1="353.9" x2="662.6" y2="353.9"/>
<line x1="665.2" y1="353.9" x2="669.8" y2="353.7"/>
<line x1="682.4" y1="353.9" x2="687.2" y2="353.7"/>
<line x1="690.3" y1="353.9" x2="692.5" y2="353.8"/>
<line x1="694.4" y1="353.9" x2="696.8" y2="353.8"/>
<line x1="702.0" y1="353.9" x2="703.2" y2="353.9"/>
<line x1="711.2" y1="353.9" x2="715.3" y2="353.7"/>
<line x1="720.7" y1="353.9" x2="723.1" y2="353.8"/>
<line x1="725.3" y1="353.9" x2="727.2" y2="353.8"/>
<line x1="730.2" y1="353.9" x2="735.0" y2="353.6"/>
<line x1="738.3" y1="353.9" x2="742.4" y2="353.7"/>
</g>
<g clip-path="url(#plclip)" stroke="#76644B" stroke-width="0.7" opacity="0.35" fill="none" stroke-dasharray="5 1.5 2 1.2">
<polyline points="371.9,291.2 378.3,291.4 384.8,289.7 391.2,290.2 397.6,289.2"/>
<polyline points="304.1,301.0 312.2,301.9 320.2,299.8 328.3,300.1 336.3,300.5"/>
<polyline points="210.2,352.5 221.2,350.9 232.1,350.3 243.1,351.3 254.1,351.1"/>
<polyline points="200.2,339.7 206.8,340.6 213.4,339.1 220.0,340.6 226.6,340.2"/>
<polyline points="349.4,288.9 359.2,286.7 369.1,287.8 379.0,285.9 388.9,286.0"/>
<polyline points="282.7,282.8 292.8,283.8 303.0,283.3 313.1,282.3 323.2,281.3"/>
<polyline points="547.7,303.1 557.1,302.3 566.5,301.9 575.9,302.4 585.3,302.2"/>
<polyline points="596.7,342.9 604.4,342.9 612.1,343.2 619.8,343.4 627.5,343.0"/>
<polyline points="695.3,336.7 702.9,337.3 710.5,336.6 718.2,337.5 725.8,337.2"/>
<polyline points="488.0,337.4 500.1,336.6 512.3,337.2 524.4,336.3 536.5,335.1"/>
<polyline points="734.8,288.7 747.4,287.6 760.0,286.5 772.5,286.9 785.1,287.0"/>
<polyline points="288.7,346.3 303.5,346.5 318.4,345.6 333.2,344.5 348.1,343.2"/>
<polyline points="339.1,351.5 352.4,349.8 365.7,349.1 379.1,347.4 392.4,347.6"/>
<polyline points="511.9,354.9 517.0,353.1 522.2,355.1 527.4,353.0 532.6,353.9"/>
<polyline points="540.8,292.9 550.2,291.8 559.5,291.9 568.9,290.6 578.2,291.7"/>
<polyline points="726.1,319.3 734.8,318.0 743.5,319.0 752.2,318.4 760.9,316.6"/>
<polyline points="399.8,285.4 411.7,286.9 423.6,284.3 435.4,285.6 447.3,283.5"/>
<polyline points="482.9,333.4 497.3,330.9 511.6,331.6 526.0,330.2 540.4,328.8"/>
<polyline points="446.1,350.6 450.8,350.0 455.5,350.6 460.2,349.4 464.9,348.6"/>
<polyline points="660.1,285.0 671.8,283.8 683.6,283.5 695.3,284.5 707.0,282.3"/>
<polyline points="697.1,287.4 711.4,288.2 725.6,287.2 739.9,286.6 754.1,286.7"/>
<polyline points="316.7,355.2 327.2,353.4 337.7,354.6 348.2,353.4 358.7,352.3"/>
<polyline points="311.6,346.7 321.9,345.9 332.3,345.1 342.7,344.5 353.1,342.7"/>
<polyline points="648.5,331.7 654.0,331.5 659.6,331.5 665.1,332.6 670.6,332.3"/>
<polyline points="574.2,304.9 588.5,304.4 602.9,304.2 617.2,303.0 631.6,303.5"/>
<polyline points="651.0,335.2 658.9,334.2 666.8,334.3 674.7,333.9 682.6,332.6"/>
<polyline points="656.8,339.4 669.5,339.1 682.1,339.7 694.8,339.2 707.5,338.1"/>
<polyline points="705.2,310.2 712.0,309.4 718.9,309.3 725.8,309.9 732.7,308.4"/>
<polyline points="584.0,323.3 588.8,323.9 593.5,323.1 598.2,323.4 602.9,322.7"/>
<polyline points="739.1,279.3 748.1,280.2 757.0,278.6 766.0,279.1 775.0,278.6"/>
<polyline points="201.4,324.3 209.4,324.9 217.3,324.4 225.3,323.0 233.3,323.8"/>
<polyline points="233.3,282.3 247.1,281.7 260.9,281.1 274.8,279.8 288.6,278.7"/>
<polyline points="483.3,319.9 497.7,317.9 512.1,316.6 526.5,316.7 540.9,315.7"/>
<polyline points="637.0,347.9 648.0,348.5 659.0,346.9 670.0,347.4 681.0,347.5"/>
<polyline points="562.2,314.5 568.4,314.1 574.5,312.8 580.7,311.5 586.8,312.7"/>
<polyline points="412.5,307.5 421.0,306.7 429.5,307.5 438.0,306.8 446.4,306.1"/>
<polyline points="604.7,315.7 610.9,316.0 617.1,316.0 623.3,315.6 629.5,315.6"/>
<polyline points="388.7,336.2 399.3,335.4 409.9,336.1 420.5,336.1 431.1,335.8"/>
<polyline points="641.1,340.6 651.8,340.2 662.5,341.0 673.2,339.0 683.9,339.0"/>
<polyline points="494.0,277.7 499.7,278.8 505.4,278.5 511.0,276.5 516.7,276.4"/>
<polyline points="734.6,290.1 747.5,290.2 760.4,289.2 773.3,287.0 786.2,288.0"/>
<polyline points="585.4,279.8 599.8,279.5 614.2,278.9 628.6,278.2 643.0,277.5"/>
<polyline points="228.1,342.6 238.1,343.1 248.1,341.8 258.1,341.9 268.1,342.1"/>
<polyline points="606.5,290.7 614.1,289.5 621.6,288.1 629.1,288.7 636.6,287.5"/>
<polyline points="232.8,327.5 238.5,328.5 244.2,328.9 249.8,326.5 255.5,327.8"/>
<polyline points="270.5,280.4 275.2,281.9 279.9,282.1 284.5,279.7 289.2,279.8"/>
<polyline points="218.0,308.0 225.9,309.1 233.8,307.0 241.6,307.9 249.5,306.3"/>
<polyline points="551.6,288.3 558.2,286.2 564.8,286.3 571.3,286.5 577.9,287.0"/>
<polyline points="494.0,286.5 505.6,285.7 517.1,284.6 528.6,285.1 540.1,282.7"/>
<polyline points="492.5,320.1 506.6,318.1 520.8,317.7 534.9,317.5 549.1,316.3"/>
<polyline points="226.5,353.6 235.8,353.1 245.1,352.3 254.3,354.0 263.6,351.7"/>
<polyline points="501.9,350.9 514.5,349.6 527.1,349.9 539.6,349.5 552.2,347.5"/>
<polyline points="317.7,310.0 328.5,308.8 339.3,307.4 350.0,308.0 360.8,306.1"/>
<polyline points="251.0,277.9 261.6,277.1 272.1,276.8 282.7,275.4 293.2,274.9"/>
<polyline points="513.7,309.5 523.5,307.9 533.2,308.1 543.0,306.0 552.7,306.5"/>
<polyline points="221.6,292.2 228.1,291.3 234.6,292.9 241.1,291.0 247.5,290.7"/>
<polyline points="231.1,305.9 243.8,306.1 256.6,304.8 269.3,304.2 282.0,303.1"/>
<polyline points="651.4,311.4 657.4,312.5 663.4,310.4 669.3,310.4 675.3,311.2"/>
<polyline points="567.3,313.1 578.7,313.0 590.0,311.1 601.4,311.4 612.7,312.2"/>
<polyline points="508.4,304.7 519.4,302.9 530.4,302.3 541.5,302.7 552.5,302.2"/>
<polyline points="316.4,328.8 324.0,329.5 331.6,328.0 339.3,329.0 346.9,327.6"/>
<polyline points="669.0,285.9 677.7,287.5 686.5,287.1 695.2,285.7 704.0,285.2"/>
<polyline points="725.7,306.3 733.4,307.8 741.2,307.1 748.9,306.1 756.6,306.2"/>
<polyline points="651.7,329.5 657.3,329.8 663.0,328.5 668.6,328.1 674.3,328.4"/>
<polyline points="296.9,295.8 308.5,293.1 320.2,293.8 331.8,292.8 343.5,291.1"/>
<polyline points="280.8,299.9 292.5,299.9 304.3,299.9 316.1,299.6 327.8,299.6"/>
<polyline points="652.8,292.2 663.2,291.5 673.6,291.1 684.0,290.1 694.3,289.2"/>
<polyline points="559.0,345.5 570.6,345.6 582.3,343.4 594.0,343.6 605.6,343.6"/>
<polyline points="551.0,277.9 560.8,275.9 570.7,275.9 580.5,276.8 590.4,275.0"/>
<polyline points="490.9,323.5 504.3,323.9 517.7,322.8 531.1,321.3 544.6,321.2"/>
<polyline points="357.2,280.0 366.8,280.1 376.4,280.9 386.0,280.7 395.6,278.4"/>
<polyline points="283.2,303.7 292.5,304.8 301.7,302.8 310.9,303.3 320.2,302.2"/>
<polyline points="547.7,286.9 557.3,284.4 567.0,284.4 576.7,283.6 586.4,284.9"/>
<polyline points="560.9,295.1 574.8,295.2 588.8,295.0 602.7,294.0 616.7,292.1"/>
<polyline points="218.0,292.3 232.4,290.2 246.8,288.8 261.3,289.5 275.7,287.8"/>
<polyline points="682.6,349.3 695.3,348.7 708.0,348.2 720.7,346.5 733.4,346.6"/>
<polyline points="199.0,332.3 208.2,331.4 217.3,330.1 226.5,330.3 235.7,329.5"/>
<polyline points="531.3,277.0 538.1,277.8 545.0,277.9 551.9,276.9 558.7,276.9"/>
<polyline points="541.9,288.6 549.0,288.6 556.2,287.5 563.4,287.8 570.6,286.5"/>
<polyline points="365.2,290.4 374.0,288.8 382.9,290.3 391.7,287.7 400.6,289.0"/>
<polyline points="382.7,349.0 390.3,350.2 397.8,349.1 405.3,349.8 412.8,349.1"/>
<polyline points="434.6,328.1 446.3,327.2 457.9,327.7 469.6,327.0 481.3,325.1"/>
<polyline points="281.0,310.7 286.5,310.1 291.9,309.6 297.4,310.4 302.8,310.1"/>
<polyline points="228.9,323.8 243.8,324.0 258.7,321.4 273.6,320.6 288.5,320.2"/>
<polyline points="321.0,289.5 328.2,289.8 335.3,289.4 342.5,287.3 349.7,288.7"/>
<polyline points="543.0,298.6 547.5,296.6 552.1,296.7 556.7,296.6 561.2,297.5"/>
<polyline points="711.9,349.2 725.3,347.7 738.8,346.0 752.2,345.8 765.6,344.9"/>
<polyline points="255.7,286.4 263.6,286.6 271.4,287.6 279.3,285.7 287.1,286.0"/>
<polyline points="660.0,278.3 672.1,276.5 684.3,277.9 696.4,277.1 708.5,274.8"/>
<polyline points="720.7,321.3 731.9,320.3 743.1,321.4 754.2,320.8 765.4,319.0"/>
<polyline points="210.7,321.4 218.5,322.3 226.2,321.2 233.9,319.7 241.7,320.7"/>
<polyline points="588.3,321.2 602.8,320.9 617.3,318.8 631.8,318.6 646.3,317.9"/>
<polyline points="428.3,317.3 434.0,315.5 439.8,315.7 445.5,316.2 451.2,314.6"/>
<polyline points="372.8,339.8 385.0,338.7 397.2,339.5 409.4,339.2 421.6,336.7"/>
<polyline points="422.1,319.0 433.9,319.9 445.7,318.8 457.4,318.7 469.2,318.4"/>
<polyline points="567.9,328.8 575.5,328.6 583.1,329.3 590.8,328.4 598.4,327.2"/>
<polyline points="688.4,317.7 703.2,317.1 718.0,315.5 732.7,316.3 747.5,314.3"/>
<polyline points="562.5,307.7 572.5,307.7 582.5,307.3 592.5,307.6 602.5,305.7"/>
<polyline points="300.8,328.1 310.2,325.6 319.7,326.1 329.2,326.6 338.7,325.9"/>
<polyline points="386.1,316.1 394.7,315.8 403.4,315.7 412.1,316.9 420.7,314.8"/>
<polyline points="349.0,320.9 360.8,319.5 372.6,319.0 384.5,317.6 396.3,318.9"/>
<polyline points="399.4,299.7 406.1,298.6 412.8,298.7 419.5,297.8 426.1,297.7"/>
<polyline points="482.1,303.5 487.7,301.2 493.3,301.8 499.0,301.2 504.6,300.4"/>
<polyline points="354.7,310.8 366.4,310.5 378.2,311.2 389.9,310.0 401.6,308.9"/>
<polyline points="308.7,337.7 323.0,338.4 337.2,336.6 351.5,336.1 365.8,334.3"/>
<polyline points="325.5,296.6 332.1,296.5 338.7,294.7 345.4,295.5 352.0,294.0"/>
<polyline points="511.6,292.2 525.6,291.7 539.6,291.5 553.7,290.1 567.7,289.3"/>
<polyline points="583.4,313.5 594.0,312.6 604.5,312.3 615.1,313.5 625.6,312.1"/>
<polyline points="202.1,291.6 212.7,292.3 223.3,291.5 233.9,289.0 244.5,290.2"/>
<polyline points="732.7,334.9 747.2,334.8 761.7,334.2 776.2,333.7 790.7,332.8"/>
<polyline points="643.2,303.5 656.0,303.8 668.9,301.6 681.7,301.7 694.6,301.6"/>
<polyline points="610.0,330.6 616.0,330.7 622.0,331.2 628.1,329.4 634.1,330.6"/>
<polyline points="258.0,292.2 265.4,292.2 272.8,292.4 280.2,290.3 287.7,289.6"/>
<polyline points="663.7,323.5 677.9,321.4 692.0,321.3 706.2,320.2 720.3,320.1"/>
<polyline points="349.0,343.5 362.9,344.7 376.8,343.9 390.8,341.8 404.7,342.3"/>
<polyline points="712.3,334.6 720.6,334.5 728.9,333.1 737.2,333.0 745.5,331.6"/>
<polyline points="277.9,339.5 285.7,338.5 293.4,338.8 301.1,337.4 308.9,336.5"/>
<polyline points="559.1,297.0 565.8,296.7 572.4,297.3 579.1,296.5 585.7,295.6"/>
<polyline points="434.5,323.3 440.3,323.7 446.2,324.3 452.1,323.1 457.9,321.9"/>
<polyline points="724.1,338.8 731.0,337.6 737.8,339.0 744.6,337.4 751.5,338.5"/>
<polyline points="586.7,336.9 597.2,335.9 607.6,336.7 618.0,334.8 628.5,335.5"/>
<polyline points="617.7,288.0 626.8,286.7 635.9,286.3 645.0,286.8 654.1,285.3"/>
<polyline points="275.7,295.2 290.1,292.6 304.4,293.0 318.8,291.9 333.1,290.2"/>
<polyline points="330.2,328.8 334.9,327.0 339.6,326.9 344.3,328.1 349.0,325.9"/>
<polyline points="263.9,313.4 271.6,313.7 279.4,314.1 287.2,312.5 295.0,311.2"/>
<polyline points="397.1,342.5 406.2,342.5 415.2,342.0 424.3,341.8 433.3,341.3"/>
<polyline points="561.0,332.2 565.9,333.6 570.9,333.5 575.9,333.0 580.9,331.3"/>
<polyline points="573.1,282.2 584.7,283.1 596.3,282.5 607.9,281.1 619.4,281.1"/>
<polyline points="711.5,346.9 722.8,345.8 734.1,346.0 745.4,344.1 756.7,344.3"/>
<polyline points="238.8,284.0 250.3,282.9 261.8,284.1 273.3,281.9 284.9,282.0"/>
<polyline points="461.6,292.0 476.6,291.6 491.5,289.4 506.4,290.1 521.4,289.4"/>
<polyline points="709.9,289.9 716.1,289.6 722.2,290.7 728.4,288.9 734.5,289.6"/>
<polyline points="387.3,334.3 392.3,334.7 397.3,332.8 402.2,332.8 407.2,333.4"/>
<polyline points="360.0,342.3 374.9,342.2 389.9,340.7 404.9,340.9 419.8,339.8"/>
<polyline points="726.8,334.5 741.7,333.7 756.6,331.9 771.5,331.9 786.5,329.8"/>
<polyline points="383.4,348.1 398.2,348.1 413.0,347.1 427.8,346.9 442.6,346.1"/>
<polyline points="335.5,346.3 344.7,345.7 354.0,345.9 363.2,344.3 372.4,344.0"/>
<polyline points="616.6,295.7 621.5,295.1 626.5,295.0 631.5,294.9 636.5,293.2"/>
<polyline points="674.9,327.1 689.3,327.1 703.7,324.4 718.1,324.0 732.5,324.2"/>
<polyline points="559.2,308.0 564.5,305.8 569.7,307.5 575.0,305.7 580.2,306.5"/>
<polyline points="518.2,294.8 526.1,295.1 534.1,294.1 542.0,294.3 550.0,293.3"/>
<polyline points="258.2,332.4 265.5,330.8 272.7,330.1 280.0,330.8 287.2,330.9"/>
<polyline points="395.6,335.4 403.6,333.3 411.6,332.3 419.6,331.8 427.6,332.7"/>
<polyline points="535.5,299.1 544.4,298.6 553.2,297.7 562.1,298.1 570.9,298.0"/>
<polyline points="206.9,345.7 214.1,344.7 221.4,345.4 228.6,344.4 235.8,344.5"/>
<polyline points="416.3,317.8 421.8,316.2 427.2,315.7 432.6,316.7 438.0,315.1"/>
<polyline points="627.1,310.3 632.8,309.3 638.6,308.8 644.3,310.4 650.0,310.0"/>
<polyline points="451.4,339.5 462.9,338.5 474.4,339.0 486.0,337.5 497.5,338.3"/>
<polyline points="519.2,295.3 531.8,293.5 544.5,294.0 557.2,292.1 569.8,290.5"/>
<polyline points="446.2,304.5 460.4,304.9 474.5,302.3 488.6,302.1 502.8,300.5"/>
<polyline points="220.3,331.8 225.1,332.1 230.0,333.0 234.8,331.1 239.6,330.3"/>
<polyline points="577.7,332.4 583.7,331.9 589.6,331.8 595.6,331.2 601.5,330.2"/>
<polyline points="577.7,286.3 588.9,285.7 600.2,285.1 611.5,284.0 622.7,285.2"/>
<polyline points="612.4,276.6 622.3,277.3 632.2,275.9 642.0,277.3 651.9,275.3"/>
<polyline points="479.9,296.3 493.9,296.3 507.9,295.4 521.9,295.9 535.9,294.3"/>
<polyline points="665.9,302.4 671.8,301.3 677.6,301.1 683.4,301.7 689.2,301.6"/>
<polyline points="309.5,290.9 319.5,290.5 329.5,290.4 339.4,288.7 349.4,287.9"/>
<polyline points="227.6,338.2 239.5,338.0 251.4,337.4 263.3,338.2 275.1,336.4"/>
<polyline points="584.9,283.0 589.8,283.8 594.7,283.1 599.7,283.9 604.6,283.5"/>
</g>
<path d="M214,223.4 L305,223.4 Q314.4,223.4 314.4,232.5 L314.4,233.4 L338,233.4 L338,243.2 L364.2,243.2 L364.2,251.6 L390,251.6 L393.5,260.4 L416.2,260.4 L416.2,283 Q416.2,287.1 411.2,287.1 L402.3,287.1 L402.3,307.8 L352,312.5 L352,299.4 C340,300.5 330,298 318,298.4 C305,298.6 298,302 290,304 C284,305 278,305 273,305 L273,318.8 L214,321.5 Z" fill="none" stroke="#3a3a34" stroke-width="0.85"/>
<path d="M390,251.6 L393.5,260.4 L390,260.4 Z" fill="#6b6452"/>
<polyline points="212,321.5 273,318.8 352,312.5 403,307.8 440,304.6 520,298 600,290.7 680,284.4 742,278.6" fill="none" stroke="#38382f" stroke-width="0.95"/>
<polyline points="742,311.7 680,317.5 600,325 500,334.3 390,344 300,350.8 267,353.4 212,353.8" fill="none" stroke="#38382f" stroke-width="1.0"/>
<line x1="212.0" y1="321.5" x2="212.0" y2="353.8" stroke="#3a3a34" stroke-width="1.1" />
<line x1="742.0" y1="278.6" x2="742.0" y2="311.7" stroke="#3a3a34" stroke-width="1.1" />
<polygon points="735.8,279.2 742,278.6 742,311.7 735.8,312.3" fill="#A3C3B1" stroke="#55554c" stroke-width="0.6"/>
<line x1="292.4" y1="317.3" x2="292.4" y2="351.4" stroke="#4a4a42" stroke-width="0.9" />
<line x1="585.0" y1="292.1" x2="585.0" y2="326.4" stroke="#4a4a42" stroke-width="0.9" />
<line x1="603.0" y1="290.5" x2="603.0" y2="324.7" stroke="#4a4a42" stroke-width="0.9" />
<line x1="650.0" y1="286.8" x2="650.0" y2="320.3" stroke="#4a4a42" stroke-width="0.9" />
<line x1="667.5" y1="285.4" x2="667.5" y2="318.7" stroke="#4a4a42" stroke-width="0.9" />
<polyline points="267.5,350.6 300,348 390,340.2 472.5,334" fill="none" stroke="#3a3a34" stroke-width="0.9"/>
<polyline points="290,345.6 380,336.8 472.5,329.9" fill="none" stroke="#6a6452" stroke-width="0.6"/>
<line x1="472.5" y1="329.5" x2="472.5" y2="334.0" stroke="#3a3a34" stroke-width="0.9" />
<circle cx="252.5" cy="225.2" r="10.2" fill="#F7F3DB" stroke="#3a3a34" stroke-width="1"/>
<path d="M352,312.5 L352,299.4 C340,300.5 330,298 318,298.4 C305,298.6 298,302 290,304 C284,305 278,305 273,305 L273,318.8" fill="none" stroke="#2e2e2a" stroke-width="1.2"/>
<line x1="352.0" y1="293.6" x2="384.0" y2="293.4" stroke="#6a6452" stroke-width="0.7" />
<line x1="352.0" y1="293.6" x2="352.0" y2="300.0" stroke="#3a3a34" stroke-width="0.9" />
<path d="M380.4,251.6 C376,255 372,257.5 369,257.9" fill="none" stroke="#3a3a34" stroke-width="0.8" stroke-dasharray="1.8 1.4"/>
<line x1="214.0" y1="300.6" x2="273.0" y2="299.4" stroke="#4a4a42" stroke-width="0.9" />
<line x1="273.0" y1="299.4" x2="273.0" y2="305.5" stroke="#3a3a34" stroke-width="1.0" />
<polygon points="228,272.5 240.5,272.5 234.5,318 221,318" fill="#A3C3B1" stroke="#4d6a5c" stroke-width="0.8"/>
<circle cx="234" cy="279" r="2.3" fill="none" stroke="#6f8d7e" stroke-width="0.7"/>
<circle cx="232" cy="290" r="2.3" fill="none" stroke="#6f8d7e" stroke-width="0.7"/>
<circle cx="229.8" cy="301" r="2.3" fill="none" stroke="#6f8d7e" stroke-width="0.7"/>
<circle cx="227.8" cy="311" r="2.3" fill="none" stroke="#6f8d7e" stroke-width="0.7"/>
<circle cx="225.8" cy="310.2" r="8.6" fill="none" stroke="#BBAA3E" stroke-width="2.2"/>
<circle cx="225.8" cy="310.2" r="9.8" fill="none" stroke="#6f6a40" stroke-width="0.5"/>
<rect x="250.3" y="253.8" width="7.6" height="7.6" rx="2.2" fill="#A9C7B6" stroke="#4f5f55" stroke-width="0.9"/>
<circle cx="232.5" cy="333.7" r="4.5" fill="#7E9A8B" stroke="#3f4d45" stroke-width="1.2"/>
<circle cx="232.5" cy="333.7" r="2.4" fill="#C9DED2" stroke="#5a7064" stroke-width="0.5"/>
<circle cx="613.7" cy="313" r="4.9" fill="#7E9A8B" stroke="#3f4d45" stroke-width="1.2"/>
<circle cx="613.7" cy="313" r="2.6" fill="#C9DED2" stroke="#5a7064" stroke-width="0.5"/>
<circle cx="639" cy="305.3" r="4.9" fill="#7E9A8B" stroke="#3f4d45" stroke-width="1.2"/>
<circle cx="639" cy="305.3" r="2.6" fill="#C9DED2" stroke="#5a7064" stroke-width="0.5"/>
<rect x="362.5" y="281.1" width="13.800000000000011" height="3" rx="1.5" fill="#A3C3B1" stroke="#4f5f55" stroke-width="0.7"/>
<rect x="249.5" y="331.0" width="12.0" height="3" rx="1.5" fill="#A3C3B1" stroke="#4f5f55" stroke-width="0.7"/>
<rect x="717.4" y="288.3" width="12.300000000000068" height="3" rx="1.5" fill="#A3C3B1" stroke="#4f5f55" stroke-width="0.7"/>
<path d="M240.5,274 C247,272 254,275 258,279.5 L258,283" fill="none" stroke="#5a5a50" stroke-width="0.7"/>
<path d="M255,281.5 L265,281.5 Q268,284 265,288 L255,288 Z" fill="none" stroke="#5a5a50" stroke-width="0.8"/>
<rect x="254.5" y="287" width="11" height="3" fill="#A3C3B1" stroke="#4f5f55" stroke-width="0.6"/>
<polyline points="416.2,277 430.7,275.6 440.5,265.5 452.7,264.2" fill="none" stroke="#4f5f55" stroke-width="2.2"/>
<polyline points="416.2,277 430.7,275.6 440.5,265.5 452.7,264.2" fill="none" stroke="#B9CCBF" stroke-width="0.9"/>
<rect x="402.3" y="295.0" width="5.699999999999989" height="2.4" rx="1.2" fill="#A3C3B1" stroke="#4f5f55" stroke-width="0.7"/>
<g stroke="#7a7464" stroke-width="0.6" stroke-dasharray="2 1.5"><line x1="383.6" y1="277" x2="383.6" y2="308"/><line x1="388.5" y1="277" x2="388.5" y2="308"/></g>
<rect x="442" y="322.5" width="4.5" height="8.5" fill="#A3C3B1" stroke="#4f5f55" stroke-width="0.6"/>
<line x1="440.0" y1="323.6" x2="449.0" y2="323.2" stroke="#4f5f55" stroke-width="1.1" />
<rect x="311.5" y="336" width="5" height="8" fill="#A3C3B1" stroke="#4f5f55" stroke-width="0.6"/>
<line x1="309.5" y1="336.8" x2="318.5" y2="336.3" stroke="#4f5f55" stroke-width="1.1" />
<circle cx="429" cy="345.6" r="4.6" fill="none" stroke="#4f5f55" stroke-width="1.5"/>
<path d="M415,340.5 L419,344 L424,341" fill="none" stroke="#4f5f55" stroke-width="1.2"/>
<path d="M435,339.5 L440,342.5 L444,339" fill="none" stroke="#4f5f55" stroke-width="1.2"/>
<rect x="517.5" y="332" width="8.5" height="5.5" rx="1.5" fill="#EADBBB" stroke="#4f5f55" stroke-width="0.7"/>
<rect x="700.8" y="315.8" width="15" height="4.6" fill="#A3C3B1" stroke="#4f5f55" stroke-width="0.7"/>
<rect x="720" y="300" width="5.3" height="6.4" fill="#A3C3B1" stroke="#4f5f55" stroke-width="0.6"/>
<path d="M735.5,297 A14,14 0 1 0 735.5,310" fill="none" stroke="#8a8270" stroke-width="0.6" stroke-dasharray="2 1.5"/>
<path d="M712,313.5 A14,14 0 0 0 735.2,311" fill="none" stroke="#6a6452" stroke-width="0.7"/>
<path d="M266,345 L270,340 L276,340 L279,345 Z" fill="#A3C3B1" stroke="#4f5f55" stroke-width="0.7"/>
<polygon points="605,323.2 646,319.6 646,354.4 605,354.4" fill="#EADBBB"/>
<g clip-path="url(#sbclip)" stroke="#76644B" stroke-width="1.0" opacity="0.58">
<line x1="612.1" y1="319.0" x2="613.6" y2="318.9"/>
<line x1="615.8" y1="319.0" x2="619.3" y2="318.8"/>
<line x1="621.2" y1="319.0" x2="622.7" y2="318.9"/>
<line x1="627.1" y1="319.0" x2="629.8" y2="318.8"/>
<line x1="644.9" y1="319.0" x2="646.9" y2="318.9"/>
<line x1="596.0" y1="321.6" x2="599.2" y2="321.4"/>
<line x1="607.9" y1="321.6" x2="610.6" y2="321.4"/>
<line x1="623.3" y1="321.6" x2="624.9" y2="321.5"/>
<line x1="629.8" y1="321.6" x2="632.5" y2="321.4"/>
<line x1="637.4" y1="321.6" x2="642.4" y2="321.3"/>
<line x1="645.5" y1="321.6" x2="650.4" y2="321.3"/>
<line x1="612.0" y1="324.8" x2="614.5" y2="324.6"/>
<line x1="625.0" y1="324.8" x2="627.8" y2="324.6"/>
<line x1="639.1" y1="324.8" x2="640.4" y2="324.7"/>
<line x1="604.4" y1="327.2" x2="606.5" y2="327.1"/>
<line x1="609.7" y1="327.2" x2="612.6" y2="327.1"/>
<line x1="618.3" y1="327.2" x2="622.3" y2="327.0"/>
<line x1="624.9" y1="327.2" x2="627.1" y2="327.1"/>
<line x1="637.6" y1="327.2" x2="639.5" y2="327.1"/>
<line x1="623.3" y1="329.6" x2="627.8" y2="329.3"/>
<line x1="635.9" y1="329.6" x2="640.1" y2="329.3"/>
<line x1="601.9" y1="332.5" x2="604.6" y2="332.4"/>
<line x1="607.8" y1="332.5" x2="612.4" y2="332.3"/>
<line x1="614.7" y1="332.5" x2="616.8" y2="332.4"/>
<line x1="621.9" y1="332.5" x2="625.7" y2="332.3"/>
<line x1="636.2" y1="332.5" x2="641.0" y2="332.3"/>
<line x1="611.5" y1="334.7" x2="615.8" y2="334.4"/>
<line x1="625.5" y1="334.7" x2="627.6" y2="334.5"/>
<line x1="631.8" y1="334.7" x2="634.2" y2="334.5"/>
<line x1="620.8" y1="337.5" x2="622.9" y2="337.4"/>
<line x1="626.3" y1="337.5" x2="630.3" y2="337.3"/>
<line x1="640.5" y1="337.5" x2="644.4" y2="337.3"/>
<line x1="598.4" y1="339.4" x2="601.2" y2="339.2"/>
<line x1="604.1" y1="339.4" x2="606.7" y2="339.2"/>
<line x1="617.9" y1="339.4" x2="619.6" y2="339.3"/>
<line x1="634.8" y1="339.4" x2="637.5" y2="339.2"/>
<line x1="644.0" y1="339.4" x2="646.9" y2="339.2"/>
<line x1="601.5" y1="341.9" x2="606.3" y2="341.6"/>
<line x1="608.8" y1="341.9" x2="610.3" y2="341.8"/>
<line x1="611.9" y1="341.9" x2="613.1" y2="341.8"/>
<line x1="623.7" y1="341.9" x2="625.2" y2="341.8"/>
<line x1="637.3" y1="341.9" x2="639.8" y2="341.7"/>
<line x1="643.3" y1="341.9" x2="645.6" y2="341.7"/>
<line x1="604.8" y1="344.9" x2="609.7" y2="344.6"/>
<line x1="614.3" y1="344.9" x2="616.2" y2="344.8"/>
<line x1="624.1" y1="344.9" x2="626.2" y2="344.8"/>
<line x1="630.1" y1="344.9" x2="632.1" y2="344.8"/>
<line x1="596.9" y1="347.2" x2="600.6" y2="347.0"/>
<line x1="604.2" y1="347.2" x2="605.9" y2="347.1"/>
<line x1="611.8" y1="347.2" x2="615.3" y2="347.0"/>
<line x1="619.5" y1="347.2" x2="623.2" y2="347.0"/>
<line x1="626.0" y1="347.2" x2="628.0" y2="347.1"/>
<line x1="633.7" y1="347.2" x2="638.2" y2="346.9"/>
<line x1="641.0" y1="347.2" x2="644.5" y2="347.0"/>
<line x1="604.7" y1="350.1" x2="606.2" y2="350.0"/>
<line x1="615.4" y1="350.1" x2="617.1" y2="350.0"/>
<line x1="622.1" y1="350.1" x2="623.4" y2="350.0"/>
<line x1="628.1" y1="350.1" x2="630.9" y2="349.9"/>
<line x1="632.8" y1="350.1" x2="636.9" y2="349.8"/>
<line x1="609.3" y1="352.2" x2="612.5" y2="352.0"/>
<line x1="618.2" y1="352.2" x2="620.6" y2="352.1"/>
<line x1="628.7" y1="352.2" x2="630.4" y2="352.1"/>
<line x1="645.9" y1="352.2" x2="648.3" y2="352.1"/>
<line x1="617.5" y1="354.6" x2="621.0" y2="354.4"/>
<line x1="623.8" y1="354.6" x2="626.9" y2="354.4"/>
<line x1="631.3" y1="354.6" x2="632.9" y2="354.5"/>
<line x1="634.7" y1="354.6" x2="637.9" y2="354.4"/>
</g>
<g clip-path="url(#sbclip)" stroke="#76644B" stroke-width="0.7" opacity="0.35" fill="none" stroke-dasharray="5 1.5 2 1.2">
<polyline points="605.1,323.6 616.6,324.4 628.1,323.0 639.6,321.9 651.2,322.1"/>
<polyline points="598.6,327.9 604.0,327.6 609.3,327.2 614.7,327.5 620.1,327.3"/>
<polyline points="621.3,339.1 632.9,338.2 644.6,338.5 656.3,336.2 667.9,336.0"/>
<polyline points="585.7,351.5 599.5,351.9 613.2,350.5 627.0,350.7 640.7,350.0"/>
<polyline points="605.2,330.1 614.1,328.5 622.9,327.8 631.8,326.6 640.7,327.0"/>
</g>
<polygon points="605,323.2 646,319.6 646,354.4 605,354.4" fill="none" stroke="#3a3a34" stroke-width="1"/>
<line x1="605.0" y1="339.0" x2="646.0" y2="339.0" stroke="#7a7060" stroke-width="0.7" />
<rect x="218" y="354.3" width="39.80000000000001" height="4.8" fill="#B3AA93" stroke="#5f5b4c" stroke-width="0.6"/>
<path d="M220.5,359.1 L255.3,359.1 C252.8,363.3 249.6,366.3 249.1,373.3 C248.6,378.3 248.1,381.3 245.6,383.3 L228.4,383.3 C225.9,381.3 225.4,378.3 224.9,373.3 C224.4,366.3 223,363.3 220.5,359.1 Z" fill="#B3AA93" stroke="#5f5b4c" stroke-width="0.6"/>
<rect x="230.4" y="360.3" width="13.199999999999989" height="37.5" rx="5.9" ry="7.9" fill="#5E7E6E" stroke="#3a4a40" stroke-width="0.8"/>
<rect x="231.70000000000002" y="362.3" width="7.3" height="33.5" rx="3.6" fill="#9CC4AE"/>
<path d="M240.4,363.3 C242.4,372.3 242.4,385.8 240.4,393.8" fill="none" stroke="#8fb09e" stroke-width="0.8"/>
<ellipse cx="235.9" cy="362.8" rx="1.6" ry="2" fill="#F4F2E6" opacity="0.85"/>
<ellipse cx="249" cy="377.3" rx="1.9" ry="3.2" fill="#B3AA93" stroke="#5f5b4c" stroke-width="0.6"/>
<ellipse cx="224.5" cy="376" rx="1.9" ry="3.2" fill="#B3AA93" stroke="#5f5b4c" stroke-width="0.6"/>
<rect x="606" y="354.6" width="39.299999999999955" height="4.8" fill="#B3AA93" stroke="#5f5b4c" stroke-width="0.6"/>
<path d="M608.5,359.40000000000003 L642.8,359.40000000000003 C640.3,363.6 638.6,366.6 638.1,373.6 C637.6,378.6 637.1,381.6 634.6,383.6 L617.3,383.6 C614.8,381.6 614.3,378.6 613.8,373.6 C613.3,366.6 611,363.6 608.5,359.40000000000003 Z" fill="#B3AA93" stroke="#5f5b4c" stroke-width="0.6"/>
<rect x="619.3" y="360.6" width="13.300000000000068" height="37.19999999999999" rx="6.0" ry="8.0" fill="#5E7E6E" stroke="#3a4a40" stroke-width="0.8"/>
<rect x="620.5999999999999" y="362.6" width="7.3" height="33.19999999999999" rx="3.6" fill="#9CC4AE"/>
<path d="M629.4,363.6 C631.4,372.6 631.4,385.8 629.4,393.8" fill="none" stroke="#8fb09e" stroke-width="0.8"/>
<ellipse cx="624.9" cy="363.1" rx="1.6" ry="2" fill="#F4F2E6" opacity="0.85"/>
<ellipse cx="614" cy="377.3" rx="1.9" ry="3.2" fill="#B3AA93" stroke="#5f5b4c" stroke-width="0.6"/>
<ellipse cx="636.7" cy="377.9" rx="1.9" ry="3.2" fill="#B3AA93" stroke="#5f5b4c" stroke-width="0.6"/>
<polyline points="602.1,183.7 597.5,191.2 592.1,198.0 586.1,204.0 579.5,209.0 572.6,212.9 565.5,215.6 558.4,217.0 551.5,217.1 544.8,215.9 538.7,213.4 533.2,209.8 528.5,204.9 524.7,199.1 521.9,192.4 520.2,185.0 519.5,177.1 520.0,168.9 521.6,160.5 524.3,152.3 527.9,144.3 532.5,136.8 537.9,130.0 543.9,124.0 550.5,119.0 557.4,115.1 564.5,112.4 571.6,111.0 578.5,110.9 585.2,112.1 591.3,114.6 596.8,118.2 601.5,123.1 605.3,128.9 608.1,135.6 609.8,143.0 610.5,150.9 610.0,159.1 608.4,167.5 605.7,175.7 602.1,183.7" fill="none" stroke="#b8b5a6" stroke-width="0.8" opacity="0.25"/>
<polyline points="584.0,205.8 582.2,207.1 580.5,208.4 578.7,209.6 576.9,210.7 575.1,211.7 573.2,212.6 571.4,213.5 569.5,214.3 567.6,214.9 565.7,215.5 563.8,216.0 562.0,216.5 560.1,216.8 558.2,217.0 556.4,217.2 554.5,217.2 552.7,217.2 550.9,217.1 549.1,216.8 547.4,216.5 545.6,216.1 544.0,215.7 542.3,215.1 540.7,214.4 539.1,213.7 537.6,212.8 536.1,211.9 534.7,210.9 533.3,209.8 532.0,208.6 530.7,207.4 529.5,206.1 528.4,204.7 527.3,203.3 526.3,201.7 525.3,200.1 524.4,198.5 523.6,196.8 522.9,195.0 522.2,193.2" fill="none" stroke="#77746a" stroke-width="1.0" opacity="0.85"/>
<polyline points="539.1,128.6 540.0,127.7 540.8,126.9 541.6,126.0 542.5,125.2 543.4,124.4 544.2,123.7 545.1,122.9 546.0,122.2 546.9,121.5 547.8,120.8 548.8,120.1 549.7,119.5 550.6,118.9 551.6,118.3 552.5,117.7 553.5,117.1 554.5,116.6 555.4,116.1 556.4,115.6 557.4,115.1 558.3,114.6 559.3,114.2 560.3,113.8 561.3,113.4 562.3,113.1 563.3,112.8 564.3,112.5 565.3,112.2 566.3,111.9 567.2,111.7 568.2,111.5 569.2,111.3 570.2,111.2 571.2,111.0 572.2,110.9 573.2,110.9 574.1,110.8 575.1,110.8 576.1,110.8 577.0,110.8" fill="none" stroke="#9c998c" stroke-width="0.9" opacity="0.5"/>
<text x="532.6" y="192.4" transform="rotate(-109.7 532.6 192.4)" font-family="Liberation Sans" font-weight="bold" font-size="8" fill="#8f8c80" opacity="0.5">M</text>
<text x="529.5" y="181.4" transform="rotate(-101.3 529.5 181.4)" font-family="Liberation Sans" font-weight="bold" font-size="8" fill="#8f8c80" opacity="0.5">E</text>
<text x="528.1" y="170.3" transform="rotate(-92.3 528.1 170.3)" font-family="Liberation Sans" font-weight="bold" font-size="8" fill="#8f8c80" opacity="0.5">R</text>
<text x="528.5" y="159.2" transform="rotate(-82.7 528.5 159.2)" font-family="Liberation Sans" font-weight="bold" font-size="8" fill="#8f8c80" opacity="0.5">T</text>
<text x="530.8" y="148.3" transform="rotate(-72.8 530.8 148.3)" font-family="Liberation Sans" font-weight="bold" font-size="8" fill="#8f8c80" opacity="0.5">O</text>
<text x="535.1" y="137.6" transform="rotate(-63.0 535.1 137.6)" font-family="Liberation Sans" font-weight="bold" font-size="8" fill="#8f8c80" opacity="0.5">N</text>
<text x="598.2" y="136.3" transform="rotate(66.5 598.2 136.3)" font-family="Liberation Sans" font-weight="bold" font-size="8" fill="#8f8c80" opacity="0.45">G</text>
<text x="601.7" y="147.6" transform="rotate(78.8 601.7 147.6)" font-family="Liberation Sans" font-weight="bold" font-size="8" fill="#8f8c80" opacity="0.45">R</text>
<text x="603.0" y="160.1" transform="rotate(89.0 603.0 160.1)" font-family="Liberation Sans" font-weight="bold" font-size="8" fill="#8f8c80" opacity="0.45">A</text>
<text x="602.3" y="173.7" transform="rotate(97.4 602.3 173.7)" font-family="Liberation Sans" font-weight="bold" font-size="8" fill="#8f8c80" opacity="0.45">N</text>
<text x="556" y="165" transform="rotate(-70 556 165)" font-family="Liberation Sans" font-size="8" fill="#8f8c80" opacity="0.45" letter-spacing="1.5">OC G</text>
<text x="548" y="212" font-family="Liberation Sans" font-size="6" fill="#8f8c80" opacity="0.45" letter-spacing="2">. C .</text>
<text transform="translate(249,46.9) scale(0.754,1)" x="0" y="0" textLength="91.0" lengthAdjust="spacing" font-family="Liberation Sans" font-size="14.6"  font-weight="bold" fill="#2b2b28">CARRIAGE,</text>
<text transform="translate(322,46.9) scale(0.753,1)" x="0" y="0" textLength="91.9" lengthAdjust="spacing" font-family="Liberation Sans" font-size="14.6"  font-weight="bold" fill="#2b2b28">GARRISON,</text>
<text transform="translate(393.4,46.9) scale(0.817,1)" x="0" y="0" textLength="70.3" lengthAdjust="spacing" font-family="Liberation Sans" font-size="14.6"  font-weight="bold" fill="#2b2b28">SLIDING,</text>
<text transform="translate(457.5,46.9) scale(0.848,1)" x="0" y="0" textLength="65.8" lengthAdjust="spacing" font-family="Liberation Sans" font-size="14.6"  font-weight="bold" fill="#2b2b28">MEDIUM</text>
<text transform="translate(520.5,46.9) scale(0.811,1)" x="0" y="0" textLength="11.7" lengthAdjust="spacing" font-family="Liberation Sans" font-size="14.6"  font-weight="bold" fill="#2b2b28">N</text>
<text transform="translate(541.9,46.9) scale(0.998,1)" x="0" y="0" textLength="22.6" lengthAdjust="spacing" font-family="Liberation Sans" font-size="14.6"  font-weight="bold" fill="#2b2b28">23.</text>
<text transform="translate(265.6,90.8) scale(1.000,1)" x="0" y="0" textLength="71.3" lengthAdjust="spacing" font-family="Liberation Sans" font-size="12.2"  font-weight="bold" fill="#2b2b28">PLATFORM</text>
<text transform="translate(345.3,90.8) scale(1.000,1)" x="0" y="0" textLength="88.5" lengthAdjust="spacing" font-family="Liberation Sans" font-size="12.2"  font-weight="bold" fill="#2b2b28">TRAVERSING,</text>
<text transform="translate(435.6,90.8) scale(1.000,1)" x="0" y="0" textLength="62.8" lengthAdjust="spacing" font-family="Liberation Sans" font-size="12.2"  font-weight="bold" fill="#2b2b28">MEDIUM.</text>
<text transform="translate(502.2,90.8) scale(1.000,1)" x="0" y="0" textLength="9.8" lengthAdjust="spacing" font-family="Liberation Sans" font-size="12.2"  font-weight="bold" fill="#2b2b28">N</text>
<text transform="translate(525.6,90.8) scale(0.840,1)" x="0" y="0" textLength="17.9" lengthAdjust="spacing" font-family="Liberation Sans" font-size="12.2"  font-weight="bold" fill="#2b2b28">17.</text>
<text x="531" y="42" font-family="Liberation Sans" font-weight="bold" font-size="9" fill="#2b2b28">o</text>
<text x="512.5" y="87" font-family="Liberation Sans" font-weight="bold" font-size="7.5" fill="#2b2b28">o</text>
<line x1="531" y1="44.5" x2="537.5" y2="44.5" stroke="#2b2b28" stroke-width="1.2"/>
<line x1="512.5" y1="89" x2="518.5" y2="89" stroke="#2b2b28" stroke-width="1.1"/>
<text x="118.5" y="63" textLength="25.3" lengthAdjust="spacingAndGlyphs" font-family="Liberation Serif" font-size="12.9" font-style="italic" stroke="#2b2b28" stroke-width="0.35"  fill="#2b2b28">Wood</text>
<text x="145.5" y="63" textLength="26.4" lengthAdjust="spacingAndGlyphs" font-family="Liberation Serif" font-size="12.9" font-style="italic" stroke="#2b2b28" stroke-width="0.35"  fill="#2b2b28">R.M.I,</text>
<text x="174" y="63" textLength="10.0" lengthAdjust="spacingAndGlyphs" font-family="Liberation Serif" font-size="12.9" font-style="italic" stroke="#2b2b28" stroke-width="0.35"  fill="#2b2b28">64</text>
<text x="185.4" y="63" font-family="Liberation Serif" font-size="13.5" font-style="italic" stroke="#2b2b28" stroke-width="0.35"  fill="#2b2b28">P<tspan dy="-3.5" font-size="8.0">r</tspan><tspan dy="3.5">.</tspan></text>
<text x="209" y="63" textLength="8.0" lengthAdjust="spacingAndGlyphs" font-family="Liberation Serif" font-size="12.9" font-style="italic" stroke="#2b2b28" stroke-width="0.35"  fill="#2b2b28">71</text>
<text x="219" y="63" textLength="19.0" lengthAdjust="spacingAndGlyphs" font-family="Liberation Serif" font-size="12.9" font-style="italic" stroke="#2b2b28" stroke-width="0.35"  fill="#2b2b28">Cwt,</text>
<text x="240.5" y="63" textLength="36.0" lengthAdjust="spacingAndGlyphs" font-family="Liberation Serif" font-size="12.9" font-style="italic" stroke="#2b2b28" stroke-width="0.35"  fill="#2b2b28">dwarf,</text>
<text x="279.5" y="63" textLength="15.3" lengthAdjust="spacingAndGlyphs" font-family="Liberation Serif" font-size="12.9" font-style="italic" stroke="#2b2b28" stroke-width="0.35"  fill="#2b2b28">for</text>
<text x="297.5" y="63" textLength="52.5" lengthAdjust="spacingAndGlyphs" font-family="Liberation Serif" font-size="12.9" font-style="italic" stroke="#2b2b28" stroke-width="0.35"  fill="#2b2b28">platforms,</text>
<text x="350.5" y="63" font-family="Liberation Serif" font-size="13.5" font-style="italic" stroke="#2b2b28" stroke-width="0.35"  fill="#2b2b28">N<tspan dy="-3.5" font-size="8.0">o</tspan></text>
<text x="370" y="63" textLength="10.0" lengthAdjust="spacingAndGlyphs" font-family="Liberation Serif" font-size="12.9" font-style="italic" stroke="#2b2b28" stroke-width="0.35"  fill="#2b2b28">16</text>
<text x="383.6" y="63" textLength="7.9" lengthAdjust="spacingAndGlyphs" font-family="Liberation Serif" font-size="12.9" font-style="italic" stroke="#2b2b28" stroke-width="0.35"  fill="#2b2b28">&amp;</text>
<text x="395" y="63" textLength="13.4" lengthAdjust="spacingAndGlyphs" font-family="Liberation Serif" font-size="12.9" font-style="italic" stroke="#2b2b28" stroke-width="0.35"  fill="#2b2b28">18,</text>
<text x="412.2" y="63" textLength="20.8" lengthAdjust="spacingAndGlyphs" font-family="Liberation Serif" font-size="12.9" font-style="italic" stroke="#2b2b28" stroke-width="0.35"  fill="#2b2b28">also</text>
<text x="437.9" y="63" textLength="21.4" lengthAdjust="spacingAndGlyphs" font-family="Liberation Serif" font-size="12.9" font-style="italic" stroke="#2b2b28" stroke-width="0.35"  fill="#2b2b28">S.B.</text>
<text x="461.5" y="63" textLength="5.5" lengthAdjust="spacingAndGlyphs" font-family="Liberation Serif" font-size="12.9" font-style="italic" stroke="#2b2b28" stroke-width="0.35"  fill="#2b2b28">8</text>
<text x="468.3" y="63" textLength="29.2" lengthAdjust="spacingAndGlyphs" font-family="Liberation Serif" font-size="12.9" font-style="italic" stroke="#2b2b28" stroke-width="0.35"  fill="#2b2b28">inch</text>
<text x="498.6" y="63" textLength="18.0" lengthAdjust="spacingAndGlyphs" font-family="Liberation Serif" font-size="12.9" font-style="italic" stroke="#2b2b28" stroke-width="0.35"  fill="#2b2b28">.65,</text>
<text x="517.8" y="63" textLength="13.5" lengthAdjust="spacingAndGlyphs" font-family="Liberation Serif" font-size="12.9" font-style="italic" stroke="#2b2b28" stroke-width="0.35"  fill="#2b2b28">or</text>
<text x="534" y="63" textLength="13.0" lengthAdjust="spacingAndGlyphs" font-family="Liberation Serif" font-size="12.9" font-style="italic" stroke="#2b2b28" stroke-width="0.35"  fill="#2b2b28">60</text>
<text x="549.3" y="63" textLength="21.3" lengthAdjust="spacingAndGlyphs" font-family="Liberation Serif" font-size="12.9" font-style="italic" stroke="#2b2b28" stroke-width="0.35"  fill="#2b2b28">Cwt,</text>
<text x="575" y="63" textLength="16.0" lengthAdjust="spacingAndGlyphs" font-family="Liberation Serif" font-size="12.9" font-style="italic" stroke="#2b2b28" stroke-width="0.35"  fill="#2b2b28">for</text>
<text x="594.3" y="63" textLength="51.7" lengthAdjust="spacingAndGlyphs" font-family="Liberation Serif" font-size="12.9" font-style="italic" stroke="#2b2b28" stroke-width="0.35"  fill="#2b2b28">platform</text>
<text x="648.3" y="63" font-family="Liberation Serif" font-size="13.5" font-style="italic" stroke="#2b2b28" stroke-width="0.35"  fill="#2b2b28">N<tspan dy="-3.5" font-size="8.0">o</tspan></text>
<text x="669.3" y="63" textLength="14.2" lengthAdjust="spacingAndGlyphs" font-family="Liberation Serif" font-size="12.9" font-style="italic" stroke="#2b2b28" stroke-width="0.35"  fill="#2b2b28">17.</text>
<text x="131.8" y="106" textLength="30.2" lengthAdjust="spacingAndGlyphs" font-family="Liberation Serif" font-size="12.9" font-style="italic" stroke="#2b2b28" stroke-width="0.35"  fill="#2b2b28">Wood</text>
<text x="170" y="106" textLength="20.3" lengthAdjust="spacingAndGlyphs" font-family="Liberation Serif" font-size="12.9" font-style="italic" stroke="#2b2b28" stroke-width="0.35"  fill="#2b2b28">B.L.</text>
<text x="193.6" y="106" textLength="9.0" lengthAdjust="spacingAndGlyphs" font-family="Liberation Serif" font-size="12.9" font-style="italic" stroke="#2b2b28" stroke-width="0.35"  fill="#2b2b28">40</text>
<text x="205" y="106" font-family="Liberation Serif" font-size="13.5" font-style="italic" stroke="#2b2b28" stroke-width="0.35"  fill="#2b2b28">P<tspan dy="-3.5" font-size="8.0">r</tspan><tspan dy="3.5">.</tspan></text>
<text x="227.4" y="106" textLength="27.0" lengthAdjust="spacingAndGlyphs" font-family="Liberation Serif" font-size="12.9" font-style="italic" stroke="#2b2b28" stroke-width="0.35"  fill="#2b2b28">also</text>
<text x="259.6" y="106" textLength="15.0" lengthAdjust="spacingAndGlyphs" font-family="Liberation Serif" font-size="12.9" font-style="italic" stroke="#2b2b28" stroke-width="0.35"  fill="#2b2b28">for</text>
<text x="276.9" y="106" textLength="21.4" lengthAdjust="spacingAndGlyphs" font-family="Liberation Serif" font-size="12.9" font-style="italic" stroke="#2b2b28" stroke-width="0.35"  fill="#2b2b28">all</text>
<text x="301.8" y="106" textLength="18.0" lengthAdjust="spacingAndGlyphs" font-family="Liberation Serif" font-size="12.9" font-style="italic" stroke="#2b2b28" stroke-width="0.35"  fill="#2b2b28">S.B.</text>
<text x="322" y="106" textLength="33.8" lengthAdjust="spacingAndGlyphs" font-family="Liberation Serif" font-size="12.9" font-style="italic" stroke="#2b2b28" stroke-width="0.35"  fill="#2b2b28">Guns,</text>
<text x="359" y="106" textLength="35.0" lengthAdjust="spacingAndGlyphs" font-family="Liberation Serif" font-size="12.9" font-style="italic" stroke="#2b2b28" stroke-width="0.35"  fill="#2b2b28">dwarf,</text>
<text x="395" y="106" textLength="19.3" lengthAdjust="spacingAndGlyphs" font-family="Liberation Serif" font-size="12.9" font-style="italic" stroke="#2b2b28" stroke-width="0.35"  fill="#2b2b28">for</text>
<text x="416.5" y="106" textLength="29.3" lengthAdjust="spacingAndGlyphs" font-family="Liberation Serif" font-size="12.9" font-style="italic" stroke="#2b2b28" stroke-width="0.35"  fill="#2b2b28">wood</text>
<text x="453.4" y="106" textLength="61.9" lengthAdjust="spacingAndGlyphs" font-family="Liberation Serif" font-size="12.9" font-style="italic" stroke="#2b2b28" stroke-width="0.35"  fill="#2b2b28">carriages,</text>
<text x="517" y="106" font-family="Liberation Serif" font-size="13.5" font-style="italic" stroke="#2b2b28" stroke-width="0.35"  fill="#2b2b28">N<tspan dy="-3.5" font-size="8.0">os</tspan></text>
<text x="541" y="106" textLength="14.8" lengthAdjust="spacingAndGlyphs" font-family="Liberation Serif" font-size="12.9" font-style="italic" stroke="#2b2b28" stroke-width="0.35"  fill="#2b2b28">20,</text>
<text x="557.5" y="106" textLength="14.0" lengthAdjust="spacingAndGlyphs" font-family="Liberation Serif" font-size="12.9" font-style="italic" stroke="#2b2b28" stroke-width="0.35"  fill="#2b2b28">23,</text>
<text x="576" y="106" textLength="9.0" lengthAdjust="spacingAndGlyphs" font-family="Liberation Serif" font-size="12.9" font-style="italic" stroke="#2b2b28" stroke-width="0.35"  fill="#2b2b28">&amp;</text>
<text x="586.8" y="106" textLength="16.2" lengthAdjust="spacingAndGlyphs" font-family="Liberation Serif" font-size="12.9" font-style="italic" stroke="#2b2b28" stroke-width="0.35"  fill="#2b2b28">24.</text>
<text x="604.3" y="106" textLength="19.5" lengthAdjust="spacingAndGlyphs" font-family="Liberation Serif" font-size="12.9" font-style="italic" stroke="#2b2b28" stroke-width="0.35"  fill="#2b2b28">(16</text>
<text x="626.8" y="106" textLength="17.2" lengthAdjust="spacingAndGlyphs" font-family="Liberation Serif" font-size="12.9" font-style="italic" stroke="#2b2b28" stroke-width="0.35"  fill="#2b2b28">feet</text>
<text x="646.3" y="106" textLength="33.7" lengthAdjust="spacingAndGlyphs" font-family="Liberation Serif" font-size="12.9" font-style="italic" stroke="#2b2b28" stroke-width="0.35"  fill="#2b2b28">long.)</text>
<text x="354.4" y="132.3" textLength="30.6" lengthAdjust="spacingAndGlyphs" font-family="Liberation Serif" font-size="14.5" font-style="italic" stroke="#2b2b28" stroke-width="0.4"  fill="#2b2b28">Scale</text>
<text x="400.5" y="129" font-family="Liberation Serif" font-style="italic" font-size="11.5" fill="#2b2b28" stroke="#2b2b28" stroke-width="0.3">3</text>
<text x="399.5" y="138.6" font-family="Liberation Serif" font-style="italic" font-size="11.5" fill="#2b2b28" stroke="#2b2b28" stroke-width="0.3">8</text>
<line x1="399" y1="130.3" x2="408" y2="130.3" stroke="#2b2b28" stroke-width="0.7"/>
<circle cx="396.5" cy="131.5" r="0.8" fill="#2b2b28"/>
<text x="411" y="132.3" textLength="19.5" lengthAdjust="spacingAndGlyphs" font-family="Liberation Serif" font-size="14.5" font-style="italic" stroke="#2b2b28" stroke-width="0.4"  fill="#2b2b28">—1</text>
<text x="434" y="132.3" textLength="35.0" lengthAdjust="spacingAndGlyphs" font-family="Liberation Serif" font-size="14.5" font-style="italic" stroke="#2b2b28" stroke-width="0.4"  fill="#2b2b28">Foot.</text>
<line x1="235" y1="73.3" x2="571" y2="73.3" stroke="#55554c" stroke-width="1.5"/>
<line x1="238" y1="114" x2="570" y2="114" stroke="#55554c" stroke-width="1.5"/>
<line x1="338.5" y1="142.3" x2="481" y2="142.3" stroke="#55554c" stroke-width="1.5"/>
<text x="739.7" y="26.8" textLength="28" lengthAdjust="spacingAndGlyphs" font-family="Liberation Sans" font-weight="bold" font-size="7.6" fill="#3a3a36">R. C. D.</text>
<line x1="738.4" y1="28.7" x2="766.6" y2="28.7" stroke="#8a8678" stroke-width="0.6"/>
<text x="742.8" y="35.9" textLength="19.7" lengthAdjust="spacingAndGlyphs" font-family="Liberation Sans" font-weight="bold" font-size="7.9" fill="#3a3a36">3219</text>
<text transform="translate(13.4,71.3) rotate(-90)" x="0" y="0" textLength="59" lengthAdjust="spacingAndGlyphs" font-family="Liberation Serif" font-style="italic" font-size="13.4" fill="#3a3a36" stroke="#3a3a36" stroke-width="0.25">Plate XI.</text>
<text x="56.3" y="151.2" font-family="Liberation Serif" font-style="italic" font-weight="bold" font-size="9.5" fill="#3a3a36">20</text>
<path d="M66.5,149 L71.5,147.2" stroke="#3a3a36" stroke-width="1.3"/>
<text x="47" y="221.6" font-family="Liberation Serif" font-style="italic" font-weight="bold" font-size="9.6" fill="#33332f">0</text>
<path d="M54.3,217.2 L58.5,215.3" stroke="#33332f" stroke-width="1.3"/>
<text x="46.8" y="239.6" font-family="Liberation Serif" font-style="italic" font-weight="bold" font-size="9.6" fill="#33332f">5</text>
<path d="M53.8,234.2 L58.5,232.8" stroke="#33332f" stroke-width="1.3"/>
<text x="558" y="453" textLength="224" lengthAdjust="spacingAndGlyphs" font-family="Liberation Sans" font-size="4.5" fill="#8f8b7c">DARLING &amp; SON, LITH. 35 EASTCHEAP, E.C. 3 COVENT GARDEN     1887 .2/88</text>
</svg>
</body></html>
